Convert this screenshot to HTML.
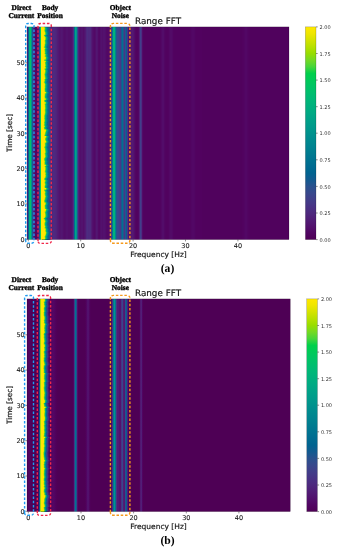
<!DOCTYPE html>
<html lang="en"><head><meta charset="utf-8"><title>Range FFT</title>
<style>
html,body{margin:0;padding:0;background:#fff;}
body{width:337px;height:550px;overflow:hidden;}
svg{display:block;text-rendering:geometricPrecision}
.tl{font-family:"DejaVu Sans","Liberation Sans",sans-serif;font-size:6.5px;fill:#1a1a1a;stroke:#1a1a1a;stroke-width:.1px}
.cl{font-family:"DejaVu Sans","Liberation Sans",sans-serif;font-size:5px;fill:#333}
.al{font-family:"DejaVu Sans","Liberation Sans",sans-serif;font-size:7.5px;fill:#111;stroke:#111;stroke-width:.15px}
.ti{font-family:"DejaVu Sans","Liberation Sans",sans-serif;font-size:8.8px;fill:#111;stroke:#111;stroke-width:.15px}
.an{font-family:"Liberation Serif","DejaVu Serif",serif;font-weight:bold;font-size:7.4px;fill:#000;stroke:#000;stroke-width:.35px}
.cap{font-family:"Liberation Serif","DejaVu Serif",serif;font-weight:bold;font-size:11.6px;fill:#000}
.tk{stroke:#222;stroke-width:.5}
</style></head><body>
<svg width="337" height="550" viewBox="0 0 337 550">
<defs>
<linearGradient id="ga" gradientUnits="userSpaceOnUse" x1="27" y1="0" x2="289" y2="0"><stop offset="0.0000" stop-color="#521772"/><stop offset="0.0019" stop-color="#4f247c"/><stop offset="0.0038" stop-color="#423d89"/><stop offset="0.0057" stop-color="#006090"/><stop offset="0.0076" stop-color="#00888f"/><stop offset="0.0095" stop-color="#00ae80"/><stop offset="0.0115" stop-color="#00c368"/><stop offset="0.0134" stop-color="#00c269"/><stop offset="0.0153" stop-color="#00ad81"/><stop offset="0.0172" stop-color="#008f8e"/><stop offset="0.0191" stop-color="#007191"/><stop offset="0.0210" stop-color="#22558f"/><stop offset="0.0229" stop-color="#463786"/><stop offset="0.0248" stop-color="#502079"/><stop offset="0.0267" stop-color="#52136e"/><stop offset="0.0286" stop-color="#520b67"/><stop offset="0.0305" stop-color="#510663"/><stop offset="0.0324" stop-color="#510562"/><stop offset="0.0344" stop-color="#510562"/><stop offset="0.0363" stop-color="#510663"/><stop offset="0.0382" stop-color="#520966"/><stop offset="0.0401" stop-color="#520c69"/><stop offset="0.0420" stop-color="#52136e"/><stop offset="0.0439" stop-color="#511d76"/><stop offset="0.0458" stop-color="#483385"/><stop offset="0.0477" stop-color="#16598f"/><stop offset="0.0496" stop-color="#008b8f"/><stop offset="0.0515" stop-color="#00c465"/><stop offset="0.0534" stop-color="#d8e300"/><stop offset="0.0553" stop-color="#ffe800"/><stop offset="0.0573" stop-color="#ffe800"/><stop offset="0.0592" stop-color="#ffe800"/><stop offset="0.0611" stop-color="#ffe800"/><stop offset="0.0630" stop-color="#ffe800"/><stop offset="0.0649" stop-color="#520f6b"/><stop offset="0.0668" stop-color="#520f6b"/><stop offset="0.0687" stop-color="#52116d"/><stop offset="0.0706" stop-color="#52116d"/><stop offset="0.0725" stop-color="#52116d"/><stop offset="0.0744" stop-color="#52116d"/><stop offset="0.0763" stop-color="#52136e"/><stop offset="0.0782" stop-color="#52136e"/><stop offset="0.0802" stop-color="#52146f"/><stop offset="0.0821" stop-color="#521671"/><stop offset="0.0840" stop-color="#521772"/><stop offset="0.0859" stop-color="#521973"/><stop offset="0.0878" stop-color="#511c75"/><stop offset="0.0897" stop-color="#511d76"/><stop offset="0.0916" stop-color="#502079"/><stop offset="0.0935" stop-color="#50237b"/><stop offset="0.0954" stop-color="#4f267d"/><stop offset="0.0973" stop-color="#4e277d"/><stop offset="0.0992" stop-color="#4e297e"/><stop offset="0.1011" stop-color="#4d2a7f"/><stop offset="0.1031" stop-color="#4d2a7f"/><stop offset="0.1050" stop-color="#4e297e"/><stop offset="0.1069" stop-color="#4e297e"/><stop offset="0.1088" stop-color="#4f267d"/><stop offset="0.1107" stop-color="#4f247c"/><stop offset="0.1126" stop-color="#50227a"/><stop offset="0.1145" stop-color="#511f78"/><stop offset="0.1164" stop-color="#511c75"/><stop offset="0.1183" stop-color="#521973"/><stop offset="0.1202" stop-color="#521772"/><stop offset="0.1221" stop-color="#52146f"/><stop offset="0.1240" stop-color="#52136e"/><stop offset="0.1260" stop-color="#52136e"/><stop offset="0.1279" stop-color="#52136e"/><stop offset="0.1298" stop-color="#52146f"/><stop offset="0.1317" stop-color="#521671"/><stop offset="0.1336" stop-color="#521671"/><stop offset="0.1355" stop-color="#52146f"/><stop offset="0.1374" stop-color="#52116d"/><stop offset="0.1393" stop-color="#520f6b"/><stop offset="0.1412" stop-color="#520e6a"/><stop offset="0.1431" stop-color="#520c69"/><stop offset="0.1450" stop-color="#520c69"/><stop offset="0.1469" stop-color="#520e6a"/><stop offset="0.1489" stop-color="#520f6b"/><stop offset="0.1508" stop-color="#52116d"/><stop offset="0.1527" stop-color="#52116d"/><stop offset="0.1546" stop-color="#52116d"/><stop offset="0.1565" stop-color="#520f6b"/><stop offset="0.1584" stop-color="#520e6a"/><stop offset="0.1603" stop-color="#520e6a"/><stop offset="0.1622" stop-color="#520e6a"/><stop offset="0.1641" stop-color="#520e6a"/><stop offset="0.1660" stop-color="#520f6b"/><stop offset="0.1679" stop-color="#520f6b"/><stop offset="0.1698" stop-color="#52116d"/><stop offset="0.1718" stop-color="#52146f"/><stop offset="0.1737" stop-color="#521973"/><stop offset="0.1756" stop-color="#502079"/><stop offset="0.1775" stop-color="#4a3183"/><stop offset="0.1794" stop-color="#304d8d"/><stop offset="0.1813" stop-color="#006e91"/><stop offset="0.1832" stop-color="#008e8e"/><stop offset="0.1851" stop-color="#00a586"/><stop offset="0.1870" stop-color="#00a785"/><stop offset="0.1889" stop-color="#00948d"/><stop offset="0.1908" stop-color="#007491"/><stop offset="0.1927" stop-color="#27528e"/><stop offset="0.1947" stop-color="#483585"/><stop offset="0.1966" stop-color="#50227a"/><stop offset="0.1985" stop-color="#521973"/><stop offset="0.2004" stop-color="#52136e"/><stop offset="0.2023" stop-color="#52116d"/><stop offset="0.2042" stop-color="#520f6b"/><stop offset="0.2061" stop-color="#520f6b"/><stop offset="0.2080" stop-color="#52136e"/><stop offset="0.2099" stop-color="#52146f"/><stop offset="0.2118" stop-color="#52136e"/><stop offset="0.2137" stop-color="#520f6b"/><stop offset="0.2156" stop-color="#520e6a"/><stop offset="0.2176" stop-color="#520f6b"/><stop offset="0.2195" stop-color="#52136e"/><stop offset="0.2214" stop-color="#521671"/><stop offset="0.2233" stop-color="#511a74"/><stop offset="0.2252" stop-color="#502079"/><stop offset="0.2271" stop-color="#4e277d"/><stop offset="0.2290" stop-color="#4c2d81"/><stop offset="0.2309" stop-color="#4c2d81"/><stop offset="0.2328" stop-color="#4d2a7f"/><stop offset="0.2347" stop-color="#4e297e"/><stop offset="0.2366" stop-color="#4e297e"/><stop offset="0.2385" stop-color="#4d2a7f"/><stop offset="0.2405" stop-color="#4d2b80"/><stop offset="0.2424" stop-color="#4e297e"/><stop offset="0.2443" stop-color="#50237b"/><stop offset="0.2462" stop-color="#511c75"/><stop offset="0.2481" stop-color="#521671"/><stop offset="0.2500" stop-color="#52116d"/><stop offset="0.2519" stop-color="#520e6a"/><stop offset="0.2538" stop-color="#520c69"/><stop offset="0.2557" stop-color="#520b67"/><stop offset="0.2576" stop-color="#520966"/><stop offset="0.2595" stop-color="#520b67"/><stop offset="0.2615" stop-color="#520e6a"/><stop offset="0.2634" stop-color="#52136e"/><stop offset="0.2653" stop-color="#521671"/><stop offset="0.2672" stop-color="#521671"/><stop offset="0.2691" stop-color="#52136e"/><stop offset="0.2710" stop-color="#520e6a"/><stop offset="0.2729" stop-color="#520966"/><stop offset="0.2748" stop-color="#520765"/><stop offset="0.2767" stop-color="#520765"/><stop offset="0.2786" stop-color="#520966"/><stop offset="0.2805" stop-color="#520e6a"/><stop offset="0.2824" stop-color="#52116d"/><stop offset="0.2844" stop-color="#52116d"/><stop offset="0.2863" stop-color="#520e6a"/><stop offset="0.2882" stop-color="#520e6a"/><stop offset="0.2901" stop-color="#520f6b"/><stop offset="0.2920" stop-color="#52116d"/><stop offset="0.2939" stop-color="#52116d"/><stop offset="0.2958" stop-color="#52116d"/><stop offset="0.2977" stop-color="#520f6b"/><stop offset="0.2996" stop-color="#520e6a"/><stop offset="0.3015" stop-color="#520b67"/><stop offset="0.3034" stop-color="#520966"/><stop offset="0.3053" stop-color="#520966"/><stop offset="0.3073" stop-color="#520765"/><stop offset="0.3092" stop-color="#520765"/><stop offset="0.3111" stop-color="#520966"/><stop offset="0.3130" stop-color="#520966"/><stop offset="0.3149" stop-color="#520b67"/><stop offset="0.3168" stop-color="#520e6a"/><stop offset="0.3187" stop-color="#521671"/><stop offset="0.3206" stop-color="#50237b"/><stop offset="0.3225" stop-color="#443a88"/><stop offset="0.3244" stop-color="#1a588f"/><stop offset="0.3263" stop-color="#007891"/><stop offset="0.3282" stop-color="#00998c"/><stop offset="0.3302" stop-color="#00b17e"/><stop offset="0.3321" stop-color="#00ba75"/><stop offset="0.3340" stop-color="#00b37b"/><stop offset="0.3359" stop-color="#009e89"/><stop offset="0.3378" stop-color="#008390"/><stop offset="0.3397" stop-color="#006991"/><stop offset="0.3416" stop-color="#20568f"/><stop offset="0.3435" stop-color="#324b8d"/><stop offset="0.3454" stop-color="#38478c"/><stop offset="0.3473" stop-color="#38478c"/><stop offset="0.3492" stop-color="#39458c"/><stop offset="0.3511" stop-color="#3d428a"/><stop offset="0.3531" stop-color="#423d89"/><stop offset="0.3550" stop-color="#463786"/><stop offset="0.3569" stop-color="#453987"/><stop offset="0.3588" stop-color="#3b448b"/><stop offset="0.3607" stop-color="#1a588f"/><stop offset="0.3626" stop-color="#006a91"/><stop offset="0.3645" stop-color="#007191"/><stop offset="0.3664" stop-color="#006890"/><stop offset="0.3683" stop-color="#27528e"/><stop offset="0.3702" stop-color="#413e89"/><stop offset="0.3721" stop-color="#463786"/><stop offset="0.3740" stop-color="#3d428a"/><stop offset="0.3760" stop-color="#25548f"/><stop offset="0.3779" stop-color="#006090"/><stop offset="0.3798" stop-color="#085c90"/><stop offset="0.3817" stop-color="#324b8d"/><stop offset="0.3836" stop-color="#483585"/><stop offset="0.3855" stop-color="#502079"/><stop offset="0.3874" stop-color="#52136e"/><stop offset="0.3893" stop-color="#520e6a"/><stop offset="0.3912" stop-color="#520c69"/><stop offset="0.3931" stop-color="#520e6a"/><stop offset="0.3950" stop-color="#52116d"/><stop offset="0.3969" stop-color="#52146f"/><stop offset="0.3989" stop-color="#521772"/><stop offset="0.4008" stop-color="#521973"/><stop offset="0.4027" stop-color="#521973"/><stop offset="0.4046" stop-color="#521772"/><stop offset="0.4065" stop-color="#52146f"/><stop offset="0.4084" stop-color="#52116d"/><stop offset="0.4103" stop-color="#520c69"/><stop offset="0.4122" stop-color="#520966"/><stop offset="0.4141" stop-color="#510663"/><stop offset="0.4160" stop-color="#510562"/><stop offset="0.4179" stop-color="#510360"/><stop offset="0.4198" stop-color="#510360"/><stop offset="0.4218" stop-color="#510360"/><stop offset="0.4237" stop-color="#510360"/><stop offset="0.4256" stop-color="#510663"/><stop offset="0.4275" stop-color="#520e6a"/><stop offset="0.4294" stop-color="#511f78"/><stop offset="0.4313" stop-color="#493284"/><stop offset="0.4332" stop-color="#403f8a"/><stop offset="0.4351" stop-color="#413e89"/><stop offset="0.4370" stop-color="#4b2e82"/><stop offset="0.4389" stop-color="#511a74"/><stop offset="0.4408" stop-color="#520b67"/><stop offset="0.4427" stop-color="#510562"/><stop offset="0.4447" stop-color="#510360"/><stop offset="0.4466" stop-color="#510360"/><stop offset="0.4485" stop-color="#51025f"/><stop offset="0.4504" stop-color="#51025f"/><stop offset="0.4523" stop-color="#51025f"/><stop offset="0.4542" stop-color="#51025f"/><stop offset="0.4561" stop-color="#51025f"/><stop offset="0.4580" stop-color="#51025f"/><stop offset="0.4599" stop-color="#51025f"/><stop offset="0.4618" stop-color="#51025f"/><stop offset="0.4637" stop-color="#51025f"/><stop offset="0.4656" stop-color="#51025f"/><stop offset="0.4676" stop-color="#51025f"/><stop offset="0.4695" stop-color="#51025f"/><stop offset="0.4714" stop-color="#51025f"/><stop offset="0.4733" stop-color="#51025f"/><stop offset="0.4752" stop-color="#51025f"/><stop offset="0.4771" stop-color="#51025f"/><stop offset="0.4790" stop-color="#51025f"/><stop offset="0.4809" stop-color="#51025f"/><stop offset="0.4828" stop-color="#51025f"/><stop offset="0.4847" stop-color="#51025f"/><stop offset="0.4866" stop-color="#51025f"/><stop offset="0.4885" stop-color="#51025f"/><stop offset="0.4905" stop-color="#51025f"/><stop offset="0.4924" stop-color="#51025f"/><stop offset="0.4943" stop-color="#51025f"/><stop offset="0.4962" stop-color="#51025f"/><stop offset="0.4981" stop-color="#51025f"/><stop offset="0.5000" stop-color="#51025f"/><stop offset="0.5019" stop-color="#51025f"/><stop offset="0.5038" stop-color="#51025f"/><stop offset="0.5057" stop-color="#51025f"/><stop offset="0.5076" stop-color="#51025f"/><stop offset="0.5095" stop-color="#510360"/><stop offset="0.5115" stop-color="#510562"/><stop offset="0.5134" stop-color="#520765"/><stop offset="0.5153" stop-color="#520966"/><stop offset="0.5172" stop-color="#520c69"/><stop offset="0.5191" stop-color="#520e6a"/><stop offset="0.5210" stop-color="#520c69"/><stop offset="0.5229" stop-color="#520966"/><stop offset="0.5248" stop-color="#510663"/><stop offset="0.5267" stop-color="#510562"/><stop offset="0.5286" stop-color="#510360"/><stop offset="0.5305" stop-color="#51025f"/><stop offset="0.5324" stop-color="#51025f"/><stop offset="0.5344" stop-color="#51025f"/><stop offset="0.5363" stop-color="#51025f"/><stop offset="0.5382" stop-color="#510360"/><stop offset="0.5401" stop-color="#510360"/><stop offset="0.5420" stop-color="#510663"/><stop offset="0.5439" stop-color="#520765"/><stop offset="0.5458" stop-color="#520966"/><stop offset="0.5477" stop-color="#520b67"/><stop offset="0.5496" stop-color="#520b67"/><stop offset="0.5515" stop-color="#520b67"/><stop offset="0.5534" stop-color="#520966"/><stop offset="0.5553" stop-color="#520765"/><stop offset="0.5573" stop-color="#510562"/><stop offset="0.5592" stop-color="#510360"/><stop offset="0.5611" stop-color="#510360"/><stop offset="0.5630" stop-color="#51025f"/><stop offset="0.5649" stop-color="#51025f"/><stop offset="0.5668" stop-color="#51025f"/><stop offset="0.5687" stop-color="#51025f"/><stop offset="0.5706" stop-color="#51025f"/><stop offset="0.5725" stop-color="#51025f"/><stop offset="0.5744" stop-color="#51025f"/><stop offset="0.5763" stop-color="#51025f"/><stop offset="0.5782" stop-color="#51025f"/><stop offset="0.5802" stop-color="#51025f"/><stop offset="0.5821" stop-color="#51025f"/><stop offset="0.5840" stop-color="#51025f"/><stop offset="0.5859" stop-color="#51025f"/><stop offset="0.5878" stop-color="#51025f"/><stop offset="0.5897" stop-color="#51025f"/><stop offset="0.5916" stop-color="#51025f"/><stop offset="0.5935" stop-color="#51025f"/><stop offset="0.5954" stop-color="#51025f"/><stop offset="0.5973" stop-color="#51025f"/><stop offset="0.5992" stop-color="#51025f"/><stop offset="0.6011" stop-color="#51025f"/><stop offset="0.6031" stop-color="#51025f"/><stop offset="0.6050" stop-color="#51025f"/><stop offset="0.6069" stop-color="#51025f"/><stop offset="0.6088" stop-color="#51025f"/><stop offset="0.6107" stop-color="#51025f"/><stop offset="0.6126" stop-color="#51025f"/><stop offset="0.6145" stop-color="#51025f"/><stop offset="0.6164" stop-color="#51025f"/><stop offset="0.6183" stop-color="#51025f"/><stop offset="0.6202" stop-color="#51025f"/><stop offset="0.6221" stop-color="#51025f"/><stop offset="0.6240" stop-color="#510360"/><stop offset="0.6260" stop-color="#510562"/><stop offset="0.6279" stop-color="#510663"/><stop offset="0.6298" stop-color="#520765"/><stop offset="0.6317" stop-color="#520765"/><stop offset="0.6336" stop-color="#520966"/><stop offset="0.6355" stop-color="#520765"/><stop offset="0.6374" stop-color="#520765"/><stop offset="0.6393" stop-color="#510663"/><stop offset="0.6412" stop-color="#510562"/><stop offset="0.6431" stop-color="#510360"/><stop offset="0.6450" stop-color="#51025f"/><stop offset="0.6469" stop-color="#51025f"/><stop offset="0.6489" stop-color="#51025f"/><stop offset="0.6508" stop-color="#51025f"/><stop offset="0.6527" stop-color="#51025f"/><stop offset="0.6546" stop-color="#51025f"/><stop offset="0.6565" stop-color="#51025f"/><stop offset="0.6584" stop-color="#51025f"/><stop offset="0.6603" stop-color="#51025f"/><stop offset="0.6622" stop-color="#51025f"/><stop offset="0.6641" stop-color="#51025f"/><stop offset="0.6660" stop-color="#51025f"/><stop offset="0.6679" stop-color="#50025d"/><stop offset="0.6698" stop-color="#50025d"/><stop offset="0.6718" stop-color="#50025d"/><stop offset="0.6737" stop-color="#50025d"/><stop offset="0.6756" stop-color="#50025d"/><stop offset="0.6775" stop-color="#50025d"/><stop offset="0.6794" stop-color="#50025d"/><stop offset="0.6813" stop-color="#50025d"/><stop offset="0.6832" stop-color="#50025d"/><stop offset="0.6851" stop-color="#50025d"/><stop offset="0.6870" stop-color="#50025d"/><stop offset="0.6889" stop-color="#50025d"/><stop offset="0.6908" stop-color="#50025d"/><stop offset="0.6927" stop-color="#50025d"/><stop offset="0.6947" stop-color="#50025d"/><stop offset="0.6966" stop-color="#50025d"/><stop offset="0.6985" stop-color="#50025d"/><stop offset="0.7004" stop-color="#50025d"/><stop offset="0.7023" stop-color="#50025d"/><stop offset="0.7042" stop-color="#50025d"/><stop offset="0.7061" stop-color="#50025d"/><stop offset="0.7080" stop-color="#50025d"/><stop offset="0.7099" stop-color="#50025d"/><stop offset="0.7118" stop-color="#50025d"/><stop offset="0.7137" stop-color="#50025d"/><stop offset="0.7156" stop-color="#50025d"/><stop offset="0.7176" stop-color="#50025d"/><stop offset="0.7195" stop-color="#50025d"/><stop offset="0.7214" stop-color="#50025d"/><stop offset="0.7233" stop-color="#50025d"/><stop offset="0.7252" stop-color="#50025d"/><stop offset="0.7271" stop-color="#50025d"/><stop offset="0.7290" stop-color="#50025d"/><stop offset="0.7309" stop-color="#50025d"/><stop offset="0.7328" stop-color="#50025d"/><stop offset="0.7347" stop-color="#50025d"/><stop offset="0.7366" stop-color="#50025d"/><stop offset="0.7385" stop-color="#50025d"/><stop offset="0.7405" stop-color="#50025d"/><stop offset="0.7424" stop-color="#50025d"/><stop offset="0.7443" stop-color="#50025d"/><stop offset="0.7462" stop-color="#50025d"/><stop offset="0.7481" stop-color="#50025d"/><stop offset="0.7500" stop-color="#50025d"/><stop offset="0.7519" stop-color="#50025d"/><stop offset="0.7538" stop-color="#50025d"/><stop offset="0.7557" stop-color="#50025d"/><stop offset="0.7576" stop-color="#50025d"/><stop offset="0.7595" stop-color="#50025d"/><stop offset="0.7615" stop-color="#50025d"/><stop offset="0.7634" stop-color="#50025d"/><stop offset="0.7653" stop-color="#50025d"/><stop offset="0.7672" stop-color="#50025d"/><stop offset="0.7691" stop-color="#50025d"/><stop offset="0.7710" stop-color="#50025d"/><stop offset="0.7729" stop-color="#50025d"/><stop offset="0.7748" stop-color="#50025d"/><stop offset="0.7767" stop-color="#50025d"/><stop offset="0.7786" stop-color="#50025d"/><stop offset="0.7805" stop-color="#50025d"/><stop offset="0.7824" stop-color="#50025d"/><stop offset="0.7844" stop-color="#50025d"/><stop offset="0.7863" stop-color="#50025d"/><stop offset="0.7882" stop-color="#50025d"/><stop offset="0.7901" stop-color="#50025d"/><stop offset="0.7920" stop-color="#50025d"/><stop offset="0.7939" stop-color="#50025d"/><stop offset="0.7958" stop-color="#50025d"/><stop offset="0.7977" stop-color="#50025d"/><stop offset="0.7996" stop-color="#50025d"/><stop offset="0.8015" stop-color="#50025d"/><stop offset="0.8034" stop-color="#50025d"/><stop offset="0.8053" stop-color="#50025d"/><stop offset="0.8073" stop-color="#50025d"/><stop offset="0.8092" stop-color="#50025d"/><stop offset="0.8111" stop-color="#50025d"/><stop offset="0.8130" stop-color="#50025d"/><stop offset="0.8149" stop-color="#50025d"/><stop offset="0.8168" stop-color="#50025d"/><stop offset="0.8187" stop-color="#50025d"/><stop offset="0.8206" stop-color="#50025d"/><stop offset="0.8225" stop-color="#51025f"/><stop offset="0.8244" stop-color="#51025f"/><stop offset="0.8263" stop-color="#510360"/><stop offset="0.8282" stop-color="#510360"/><stop offset="0.8302" stop-color="#510562"/><stop offset="0.8321" stop-color="#510663"/><stop offset="0.8340" stop-color="#520765"/><stop offset="0.8359" stop-color="#520765"/><stop offset="0.8378" stop-color="#520765"/><stop offset="0.8397" stop-color="#510663"/><stop offset="0.8416" stop-color="#510562"/><stop offset="0.8435" stop-color="#510360"/><stop offset="0.8454" stop-color="#510360"/><stop offset="0.8473" stop-color="#51025f"/><stop offset="0.8492" stop-color="#51025f"/><stop offset="0.8511" stop-color="#50025d"/><stop offset="0.8531" stop-color="#50025d"/><stop offset="0.8550" stop-color="#50025d"/><stop offset="0.8569" stop-color="#50025d"/><stop offset="0.8588" stop-color="#50025d"/><stop offset="0.8607" stop-color="#50025d"/><stop offset="0.8626" stop-color="#50025d"/><stop offset="0.8645" stop-color="#50025d"/><stop offset="0.8664" stop-color="#50025d"/><stop offset="0.8683" stop-color="#50025d"/><stop offset="0.8702" stop-color="#50025d"/><stop offset="0.8721" stop-color="#50025d"/><stop offset="0.8740" stop-color="#50025d"/><stop offset="0.8760" stop-color="#50025d"/><stop offset="0.8779" stop-color="#50025d"/><stop offset="0.8798" stop-color="#50025d"/><stop offset="0.8817" stop-color="#50025d"/><stop offset="0.8836" stop-color="#50025d"/><stop offset="0.8855" stop-color="#50025d"/><stop offset="0.8874" stop-color="#50025d"/><stop offset="0.8893" stop-color="#50025d"/><stop offset="0.8912" stop-color="#50025d"/><stop offset="0.8931" stop-color="#50025d"/><stop offset="0.8950" stop-color="#50025d"/><stop offset="0.8969" stop-color="#50025d"/><stop offset="0.8989" stop-color="#50025d"/><stop offset="0.9008" stop-color="#50025d"/><stop offset="0.9027" stop-color="#50025d"/><stop offset="0.9046" stop-color="#50025d"/><stop offset="0.9065" stop-color="#50025d"/><stop offset="0.9084" stop-color="#50025d"/><stop offset="0.9103" stop-color="#50025d"/><stop offset="0.9122" stop-color="#50025d"/><stop offset="0.9141" stop-color="#50025d"/><stop offset="0.9160" stop-color="#50025d"/><stop offset="0.9179" stop-color="#50025d"/><stop offset="0.9198" stop-color="#50025d"/><stop offset="0.9218" stop-color="#50025d"/><stop offset="0.9237" stop-color="#50025d"/><stop offset="0.9256" stop-color="#50025d"/><stop offset="0.9275" stop-color="#50025d"/><stop offset="0.9294" stop-color="#50025d"/><stop offset="0.9313" stop-color="#50025d"/><stop offset="0.9332" stop-color="#50025d"/><stop offset="0.9351" stop-color="#50025d"/><stop offset="0.9370" stop-color="#50025d"/><stop offset="0.9389" stop-color="#50025d"/><stop offset="0.9408" stop-color="#50025d"/><stop offset="0.9427" stop-color="#50025d"/><stop offset="0.9447" stop-color="#50025d"/><stop offset="0.9466" stop-color="#50025d"/><stop offset="0.9485" stop-color="#50025d"/><stop offset="0.9504" stop-color="#50025d"/><stop offset="0.9523" stop-color="#50025d"/><stop offset="0.9542" stop-color="#50025d"/><stop offset="0.9561" stop-color="#50025d"/><stop offset="0.9580" stop-color="#50025d"/><stop offset="0.9599" stop-color="#50025d"/><stop offset="0.9618" stop-color="#50025d"/><stop offset="0.9637" stop-color="#50025d"/><stop offset="0.9656" stop-color="#50025d"/><stop offset="0.9676" stop-color="#50025d"/><stop offset="0.9695" stop-color="#50025d"/><stop offset="0.9714" stop-color="#50025d"/><stop offset="0.9733" stop-color="#50025d"/><stop offset="0.9752" stop-color="#50025d"/><stop offset="0.9771" stop-color="#50025d"/><stop offset="0.9790" stop-color="#50025d"/><stop offset="0.9809" stop-color="#50025d"/><stop offset="0.9828" stop-color="#50025d"/><stop offset="0.9847" stop-color="#50025d"/><stop offset="0.9866" stop-color="#50025d"/><stop offset="0.9885" stop-color="#50025d"/><stop offset="0.9905" stop-color="#50025d"/><stop offset="0.9924" stop-color="#50025d"/><stop offset="0.9943" stop-color="#50025d"/><stop offset="0.9962" stop-color="#50025d"/><stop offset="0.9981" stop-color="#50025d"/><stop offset="1.0000" stop-color="#50025d"/></linearGradient>
<linearGradient id="gb" gradientUnits="userSpaceOnUse" x1="27" y1="0" x2="290.3" y2="0"><stop offset="0.0000" stop-color="#4e0055"/><stop offset="0.0019" stop-color="#4f0057"/><stop offset="0.0038" stop-color="#50015a"/><stop offset="0.0057" stop-color="#50025d"/><stop offset="0.0076" stop-color="#510360"/><stop offset="0.0095" stop-color="#510360"/><stop offset="0.0115" stop-color="#510360"/><stop offset="0.0134" stop-color="#50025d"/><stop offset="0.0153" stop-color="#50015a"/><stop offset="0.0172" stop-color="#4f0057"/><stop offset="0.0191" stop-color="#4e0055"/><stop offset="0.0210" stop-color="#4e0055"/><stop offset="0.0229" stop-color="#4e0055"/><stop offset="0.0248" stop-color="#4e0055"/><stop offset="0.0267" stop-color="#4e0055"/><stop offset="0.0286" stop-color="#4e0055"/><stop offset="0.0305" stop-color="#4e0055"/><stop offset="0.0324" stop-color="#4e0055"/><stop offset="0.0344" stop-color="#4e0055"/><stop offset="0.0363" stop-color="#4e0055"/><stop offset="0.0382" stop-color="#4e0055"/><stop offset="0.0401" stop-color="#4e0055"/><stop offset="0.0420" stop-color="#4f0057"/><stop offset="0.0439" stop-color="#510562"/><stop offset="0.0458" stop-color="#4f267d"/><stop offset="0.0477" stop-color="#006390"/><stop offset="0.0496" stop-color="#00ae80"/><stop offset="0.0515" stop-color="#b7e000"/><stop offset="0.0534" stop-color="#ffe800"/><stop offset="0.0553" stop-color="#ffe800"/><stop offset="0.0573" stop-color="#ffe800"/><stop offset="0.0592" stop-color="#ffe800"/><stop offset="0.0611" stop-color="#4e0055"/><stop offset="0.0630" stop-color="#4e0055"/><stop offset="0.0649" stop-color="#4e0055"/><stop offset="0.0668" stop-color="#4e0055"/><stop offset="0.0687" stop-color="#4e0055"/><stop offset="0.0706" stop-color="#4e0055"/><stop offset="0.0725" stop-color="#4e0055"/><stop offset="0.0744" stop-color="#4e0055"/><stop offset="0.0763" stop-color="#4e0055"/><stop offset="0.0782" stop-color="#4e0055"/><stop offset="0.0802" stop-color="#4e0055"/><stop offset="0.0821" stop-color="#4e0055"/><stop offset="0.0840" stop-color="#4f0057"/><stop offset="0.0859" stop-color="#4f0058"/><stop offset="0.0878" stop-color="#50015a"/><stop offset="0.0897" stop-color="#50015b"/><stop offset="0.0916" stop-color="#51025f"/><stop offset="0.0935" stop-color="#510360"/><stop offset="0.0954" stop-color="#510663"/><stop offset="0.0973" stop-color="#510663"/><stop offset="0.0992" stop-color="#520765"/><stop offset="0.1011" stop-color="#510663"/><stop offset="0.1031" stop-color="#510663"/><stop offset="0.1050" stop-color="#510360"/><stop offset="0.1069" stop-color="#51025f"/><stop offset="0.1088" stop-color="#50015b"/><stop offset="0.1107" stop-color="#50015a"/><stop offset="0.1126" stop-color="#4f0058"/><stop offset="0.1145" stop-color="#4f0057"/><stop offset="0.1164" stop-color="#4e0055"/><stop offset="0.1183" stop-color="#4e0055"/><stop offset="0.1202" stop-color="#4e0055"/><stop offset="0.1221" stop-color="#4e0055"/><stop offset="0.1240" stop-color="#4e0055"/><stop offset="0.1260" stop-color="#4e0055"/><stop offset="0.1279" stop-color="#4e0055"/><stop offset="0.1298" stop-color="#4e0055"/><stop offset="0.1317" stop-color="#4e0055"/><stop offset="0.1336" stop-color="#4e0055"/><stop offset="0.1355" stop-color="#4e0055"/><stop offset="0.1374" stop-color="#4e0055"/><stop offset="0.1393" stop-color="#4e0055"/><stop offset="0.1412" stop-color="#4e0055"/><stop offset="0.1431" stop-color="#4e0055"/><stop offset="0.1450" stop-color="#4e0055"/><stop offset="0.1469" stop-color="#4e0055"/><stop offset="0.1489" stop-color="#4e0055"/><stop offset="0.1508" stop-color="#4e0055"/><stop offset="0.1527" stop-color="#4e0055"/><stop offset="0.1546" stop-color="#4e0055"/><stop offset="0.1565" stop-color="#4e0055"/><stop offset="0.1584" stop-color="#4e0055"/><stop offset="0.1603" stop-color="#4e0055"/><stop offset="0.1622" stop-color="#4e0055"/><stop offset="0.1641" stop-color="#4e0055"/><stop offset="0.1660" stop-color="#4e0055"/><stop offset="0.1679" stop-color="#4e0055"/><stop offset="0.1698" stop-color="#4e0055"/><stop offset="0.1718" stop-color="#4e0055"/><stop offset="0.1737" stop-color="#4e0055"/><stop offset="0.1756" stop-color="#4f0058"/><stop offset="0.1775" stop-color="#520966"/><stop offset="0.1794" stop-color="#4f267d"/><stop offset="0.1813" stop-color="#2d4f8e"/><stop offset="0.1832" stop-color="#006f91"/><stop offset="0.1851" stop-color="#007891"/><stop offset="0.1870" stop-color="#006490"/><stop offset="0.1889" stop-color="#413e89"/><stop offset="0.1908" stop-color="#521973"/><stop offset="0.1927" stop-color="#51025f"/><stop offset="0.1947" stop-color="#4f0057"/><stop offset="0.1966" stop-color="#4e0055"/><stop offset="0.1985" stop-color="#4e0055"/><stop offset="0.2004" stop-color="#4e0055"/><stop offset="0.2023" stop-color="#4e0055"/><stop offset="0.2042" stop-color="#4e0055"/><stop offset="0.2061" stop-color="#4e0055"/><stop offset="0.2080" stop-color="#4e0055"/><stop offset="0.2099" stop-color="#4e0055"/><stop offset="0.2118" stop-color="#4e0055"/><stop offset="0.2137" stop-color="#4e0055"/><stop offset="0.2156" stop-color="#4e0055"/><stop offset="0.2176" stop-color="#4e0055"/><stop offset="0.2195" stop-color="#4e0055"/><stop offset="0.2214" stop-color="#4f0057"/><stop offset="0.2233" stop-color="#50015a"/><stop offset="0.2252" stop-color="#51025f"/><stop offset="0.2271" stop-color="#520765"/><stop offset="0.2290" stop-color="#520f6b"/><stop offset="0.2309" stop-color="#52136e"/><stop offset="0.2328" stop-color="#52136e"/><stop offset="0.2347" stop-color="#520e6a"/><stop offset="0.2366" stop-color="#510663"/><stop offset="0.2385" stop-color="#50025d"/><stop offset="0.2405" stop-color="#4f0058"/><stop offset="0.2424" stop-color="#4f0057"/><stop offset="0.2443" stop-color="#4e0055"/><stop offset="0.2462" stop-color="#4e0055"/><stop offset="0.2481" stop-color="#4e0055"/><stop offset="0.2500" stop-color="#4e0055"/><stop offset="0.2519" stop-color="#4e0055"/><stop offset="0.2538" stop-color="#4e0055"/><stop offset="0.2557" stop-color="#4e0055"/><stop offset="0.2576" stop-color="#4e0055"/><stop offset="0.2595" stop-color="#4e0055"/><stop offset="0.2615" stop-color="#4e0055"/><stop offset="0.2634" stop-color="#4e0055"/><stop offset="0.2653" stop-color="#4e0055"/><stop offset="0.2672" stop-color="#4e0055"/><stop offset="0.2691" stop-color="#4e0055"/><stop offset="0.2710" stop-color="#4e0055"/><stop offset="0.2729" stop-color="#4e0055"/><stop offset="0.2748" stop-color="#4e0055"/><stop offset="0.2767" stop-color="#4e0055"/><stop offset="0.2786" stop-color="#4e0055"/><stop offset="0.2805" stop-color="#4e0055"/><stop offset="0.2824" stop-color="#4e0055"/><stop offset="0.2844" stop-color="#4e0055"/><stop offset="0.2863" stop-color="#4e0055"/><stop offset="0.2882" stop-color="#4e0055"/><stop offset="0.2901" stop-color="#4e0055"/><stop offset="0.2920" stop-color="#4e0055"/><stop offset="0.2939" stop-color="#4e0055"/><stop offset="0.2958" stop-color="#4e0055"/><stop offset="0.2977" stop-color="#4e0055"/><stop offset="0.2996" stop-color="#4e0055"/><stop offset="0.3015" stop-color="#4e0055"/><stop offset="0.3034" stop-color="#4e0055"/><stop offset="0.3053" stop-color="#4e0055"/><stop offset="0.3073" stop-color="#4e0055"/><stop offset="0.3092" stop-color="#4e0055"/><stop offset="0.3111" stop-color="#4e0055"/><stop offset="0.3130" stop-color="#4e0055"/><stop offset="0.3149" stop-color="#4e0055"/><stop offset="0.3168" stop-color="#4e0055"/><stop offset="0.3187" stop-color="#4f0057"/><stop offset="0.3206" stop-color="#50025d"/><stop offset="0.3225" stop-color="#520f6b"/><stop offset="0.3244" stop-color="#4d2a7f"/><stop offset="0.3263" stop-color="#304d8d"/><stop offset="0.3282" stop-color="#007191"/><stop offset="0.3302" stop-color="#008c8f"/><stop offset="0.3321" stop-color="#00978c"/><stop offset="0.3340" stop-color="#008d8f"/><stop offset="0.3359" stop-color="#007391"/><stop offset="0.3378" stop-color="#25548f"/><stop offset="0.3397" stop-color="#483585"/><stop offset="0.3416" stop-color="#50227a"/><stop offset="0.3435" stop-color="#511a74"/><stop offset="0.3454" stop-color="#521973"/><stop offset="0.3473" stop-color="#521973"/><stop offset="0.3492" stop-color="#521671"/><stop offset="0.3511" stop-color="#52116d"/><stop offset="0.3531" stop-color="#520e6a"/><stop offset="0.3550" stop-color="#52116d"/><stop offset="0.3569" stop-color="#511d76"/><stop offset="0.3588" stop-color="#483385"/><stop offset="0.3607" stop-color="#39458c"/><stop offset="0.3626" stop-color="#38478c"/><stop offset="0.3645" stop-color="#473686"/><stop offset="0.3664" stop-color="#511d76"/><stop offset="0.3683" stop-color="#520e6a"/><stop offset="0.3702" stop-color="#521671"/><stop offset="0.3721" stop-color="#493284"/><stop offset="0.3740" stop-color="#27528e"/><stop offset="0.3760" stop-color="#006490"/><stop offset="0.3779" stop-color="#085c90"/><stop offset="0.3798" stop-color="#403f8a"/><stop offset="0.3817" stop-color="#511d76"/><stop offset="0.3836" stop-color="#510562"/><stop offset="0.3855" stop-color="#4f0058"/><stop offset="0.3874" stop-color="#4e0055"/><stop offset="0.3893" stop-color="#4e0055"/><stop offset="0.3912" stop-color="#4e0055"/><stop offset="0.3931" stop-color="#4e0055"/><stop offset="0.3950" stop-color="#4e0055"/><stop offset="0.3969" stop-color="#4e0055"/><stop offset="0.3989" stop-color="#4e0055"/><stop offset="0.4008" stop-color="#4e0055"/><stop offset="0.4027" stop-color="#4e0055"/><stop offset="0.4046" stop-color="#4e0055"/><stop offset="0.4065" stop-color="#4e0055"/><stop offset="0.4084" stop-color="#4e0055"/><stop offset="0.4103" stop-color="#4e0055"/><stop offset="0.4122" stop-color="#4e0055"/><stop offset="0.4141" stop-color="#4e0055"/><stop offset="0.4160" stop-color="#4e0055"/><stop offset="0.4179" stop-color="#4e0055"/><stop offset="0.4198" stop-color="#4e0055"/><stop offset="0.4218" stop-color="#4e0055"/><stop offset="0.4237" stop-color="#4e0055"/><stop offset="0.4256" stop-color="#4e0055"/><stop offset="0.4275" stop-color="#50015a"/><stop offset="0.4294" stop-color="#520765"/><stop offset="0.4313" stop-color="#521973"/><stop offset="0.4332" stop-color="#50227a"/><stop offset="0.4351" stop-color="#511d76"/><stop offset="0.4370" stop-color="#520e6a"/><stop offset="0.4389" stop-color="#51025f"/><stop offset="0.4408" stop-color="#4f0057"/><stop offset="0.4427" stop-color="#4e0055"/><stop offset="0.4447" stop-color="#4e0055"/><stop offset="0.4466" stop-color="#4e0055"/><stop offset="0.4485" stop-color="#4e0055"/><stop offset="0.4504" stop-color="#4e0055"/><stop offset="0.4523" stop-color="#4e0055"/><stop offset="0.4542" stop-color="#4e0055"/><stop offset="0.4561" stop-color="#4e0055"/><stop offset="0.4580" stop-color="#4e0055"/><stop offset="0.4599" stop-color="#4e0055"/><stop offset="0.4618" stop-color="#4e0055"/><stop offset="0.4637" stop-color="#4e0055"/><stop offset="0.4656" stop-color="#4e0055"/><stop offset="0.4676" stop-color="#4e0055"/><stop offset="0.4695" stop-color="#4e0055"/><stop offset="0.4714" stop-color="#4e0055"/><stop offset="0.4733" stop-color="#4e0055"/><stop offset="0.4752" stop-color="#4e0055"/><stop offset="0.4771" stop-color="#4e0055"/><stop offset="0.4790" stop-color="#4e0055"/><stop offset="0.4809" stop-color="#4e0055"/><stop offset="0.4828" stop-color="#4e0055"/><stop offset="0.4847" stop-color="#4e0055"/><stop offset="0.4866" stop-color="#4e0055"/><stop offset="0.4885" stop-color="#4e0055"/><stop offset="0.4905" stop-color="#4e0055"/><stop offset="0.4924" stop-color="#4e0055"/><stop offset="0.4943" stop-color="#4e0055"/><stop offset="0.4962" stop-color="#4e0055"/><stop offset="0.4981" stop-color="#4e0055"/><stop offset="0.5000" stop-color="#4e0055"/><stop offset="0.5019" stop-color="#4e0055"/><stop offset="0.5038" stop-color="#4e0055"/><stop offset="0.5057" stop-color="#4e0055"/><stop offset="0.5076" stop-color="#4e0055"/><stop offset="0.5095" stop-color="#4e0055"/><stop offset="0.5115" stop-color="#4e0055"/><stop offset="0.5134" stop-color="#4e0055"/><stop offset="0.5153" stop-color="#4e0055"/><stop offset="0.5172" stop-color="#4e0055"/><stop offset="0.5191" stop-color="#4e0055"/><stop offset="0.5210" stop-color="#4e0055"/><stop offset="0.5229" stop-color="#4e0055"/><stop offset="0.5248" stop-color="#4e0055"/><stop offset="0.5267" stop-color="#4e0055"/><stop offset="0.5286" stop-color="#4e0055"/><stop offset="0.5305" stop-color="#4e0055"/><stop offset="0.5324" stop-color="#4e0055"/><stop offset="0.5344" stop-color="#4e0055"/><stop offset="0.5363" stop-color="#4e0055"/><stop offset="0.5382" stop-color="#4e0055"/><stop offset="0.5401" stop-color="#4e0055"/><stop offset="0.5420" stop-color="#4e0055"/><stop offset="0.5439" stop-color="#4e0055"/><stop offset="0.5458" stop-color="#4e0055"/><stop offset="0.5477" stop-color="#4e0055"/><stop offset="0.5496" stop-color="#4e0055"/><stop offset="0.5515" stop-color="#4e0055"/><stop offset="0.5534" stop-color="#4e0055"/><stop offset="0.5553" stop-color="#4e0055"/><stop offset="0.5573" stop-color="#4e0055"/><stop offset="0.5592" stop-color="#4e0055"/><stop offset="0.5611" stop-color="#4e0055"/><stop offset="0.5630" stop-color="#4e0055"/><stop offset="0.5649" stop-color="#4e0055"/><stop offset="0.5668" stop-color="#4e0055"/><stop offset="0.5687" stop-color="#4e0055"/><stop offset="0.5706" stop-color="#4e0055"/><stop offset="0.5725" stop-color="#4e0055"/><stop offset="0.5744" stop-color="#4e0055"/><stop offset="0.5763" stop-color="#4e0055"/><stop offset="0.5782" stop-color="#4e0055"/><stop offset="0.5802" stop-color="#4e0055"/><stop offset="0.5821" stop-color="#4e0055"/><stop offset="0.5840" stop-color="#4e0055"/><stop offset="0.5859" stop-color="#4e0055"/><stop offset="0.5878" stop-color="#4e0055"/><stop offset="0.5897" stop-color="#4e0055"/><stop offset="0.5916" stop-color="#4e0055"/><stop offset="0.5935" stop-color="#4e0055"/><stop offset="0.5954" stop-color="#4e0055"/><stop offset="0.5973" stop-color="#4e0055"/><stop offset="0.5992" stop-color="#4e0055"/><stop offset="0.6011" stop-color="#4e0055"/><stop offset="0.6031" stop-color="#4e0055"/><stop offset="0.6050" stop-color="#4e0055"/><stop offset="0.6069" stop-color="#4e0055"/><stop offset="0.6088" stop-color="#4e0055"/><stop offset="0.6107" stop-color="#4e0055"/><stop offset="0.6126" stop-color="#4e0055"/><stop offset="0.6145" stop-color="#4e0055"/><stop offset="0.6164" stop-color="#4e0055"/><stop offset="0.6183" stop-color="#4e0055"/><stop offset="0.6202" stop-color="#4e0055"/><stop offset="0.6221" stop-color="#4e0055"/><stop offset="0.6240" stop-color="#4e0055"/><stop offset="0.6260" stop-color="#4e0055"/><stop offset="0.6279" stop-color="#4e0055"/><stop offset="0.6298" stop-color="#4e0055"/><stop offset="0.6317" stop-color="#4e0055"/><stop offset="0.6336" stop-color="#4e0055"/><stop offset="0.6355" stop-color="#4e0055"/><stop offset="0.6374" stop-color="#4e0055"/><stop offset="0.6393" stop-color="#4e0055"/><stop offset="0.6412" stop-color="#4e0055"/><stop offset="0.6431" stop-color="#4e0055"/><stop offset="0.6450" stop-color="#4e0055"/><stop offset="0.6469" stop-color="#4e0055"/><stop offset="0.6489" stop-color="#4e0055"/><stop offset="0.6508" stop-color="#4e0055"/><stop offset="0.6527" stop-color="#4e0055"/><stop offset="0.6546" stop-color="#4e0055"/><stop offset="0.6565" stop-color="#4e0055"/><stop offset="0.6584" stop-color="#4e0055"/><stop offset="0.6603" stop-color="#4e0055"/><stop offset="0.6622" stop-color="#4e0055"/><stop offset="0.6641" stop-color="#4e0055"/><stop offset="0.6660" stop-color="#4e0055"/><stop offset="0.6679" stop-color="#4e0055"/><stop offset="0.6698" stop-color="#4e0055"/><stop offset="0.6718" stop-color="#4e0055"/><stop offset="0.6737" stop-color="#4e0055"/><stop offset="0.6756" stop-color="#4e0055"/><stop offset="0.6775" stop-color="#4e0055"/><stop offset="0.6794" stop-color="#4e0055"/><stop offset="0.6813" stop-color="#4e0055"/><stop offset="0.6832" stop-color="#4e0055"/><stop offset="0.6851" stop-color="#4e0055"/><stop offset="0.6870" stop-color="#4e0055"/><stop offset="0.6889" stop-color="#4e0055"/><stop offset="0.6908" stop-color="#4e0055"/><stop offset="0.6927" stop-color="#4e0055"/><stop offset="0.6947" stop-color="#4e0055"/><stop offset="0.6966" stop-color="#4e0055"/><stop offset="0.6985" stop-color="#4e0055"/><stop offset="0.7004" stop-color="#4e0055"/><stop offset="0.7023" stop-color="#4e0055"/><stop offset="0.7042" stop-color="#4e0055"/><stop offset="0.7061" stop-color="#4e0055"/><stop offset="0.7080" stop-color="#4e0055"/><stop offset="0.7099" stop-color="#4e0055"/><stop offset="0.7118" stop-color="#4e0055"/><stop offset="0.7137" stop-color="#4e0055"/><stop offset="0.7156" stop-color="#4e0055"/><stop offset="0.7176" stop-color="#4e0055"/><stop offset="0.7195" stop-color="#4e0055"/><stop offset="0.7214" stop-color="#4e0055"/><stop offset="0.7233" stop-color="#4e0055"/><stop offset="0.7252" stop-color="#4e0055"/><stop offset="0.7271" stop-color="#4e0055"/><stop offset="0.7290" stop-color="#4e0055"/><stop offset="0.7309" stop-color="#4e0055"/><stop offset="0.7328" stop-color="#4e0055"/><stop offset="0.7347" stop-color="#4e0055"/><stop offset="0.7366" stop-color="#4e0055"/><stop offset="0.7385" stop-color="#4e0055"/><stop offset="0.7405" stop-color="#4e0055"/><stop offset="0.7424" stop-color="#4e0055"/><stop offset="0.7443" stop-color="#4e0055"/><stop offset="0.7462" stop-color="#4e0055"/><stop offset="0.7481" stop-color="#4e0055"/><stop offset="0.7500" stop-color="#4e0055"/><stop offset="0.7519" stop-color="#4e0055"/><stop offset="0.7538" stop-color="#4e0055"/><stop offset="0.7557" stop-color="#4e0055"/><stop offset="0.7576" stop-color="#4e0055"/><stop offset="0.7595" stop-color="#4e0055"/><stop offset="0.7615" stop-color="#4e0055"/><stop offset="0.7634" stop-color="#4e0055"/><stop offset="0.7653" stop-color="#4e0055"/><stop offset="0.7672" stop-color="#4e0055"/><stop offset="0.7691" stop-color="#4e0055"/><stop offset="0.7710" stop-color="#4e0055"/><stop offset="0.7729" stop-color="#4e0055"/><stop offset="0.7748" stop-color="#4e0055"/><stop offset="0.7767" stop-color="#4e0055"/><stop offset="0.7786" stop-color="#4e0055"/><stop offset="0.7805" stop-color="#4e0055"/><stop offset="0.7824" stop-color="#4e0055"/><stop offset="0.7844" stop-color="#4e0055"/><stop offset="0.7863" stop-color="#4e0055"/><stop offset="0.7882" stop-color="#4e0055"/><stop offset="0.7901" stop-color="#4e0055"/><stop offset="0.7920" stop-color="#4e0055"/><stop offset="0.7939" stop-color="#4e0055"/><stop offset="0.7958" stop-color="#4e0055"/><stop offset="0.7977" stop-color="#4e0055"/><stop offset="0.7996" stop-color="#4e0055"/><stop offset="0.8015" stop-color="#4e0055"/><stop offset="0.8034" stop-color="#4e0055"/><stop offset="0.8053" stop-color="#4e0055"/><stop offset="0.8073" stop-color="#4e0055"/><stop offset="0.8092" stop-color="#4e0055"/><stop offset="0.8111" stop-color="#4e0055"/><stop offset="0.8130" stop-color="#4e0055"/><stop offset="0.8149" stop-color="#4e0055"/><stop offset="0.8168" stop-color="#4e0055"/><stop offset="0.8187" stop-color="#4e0055"/><stop offset="0.8206" stop-color="#4e0055"/><stop offset="0.8225" stop-color="#4e0055"/><stop offset="0.8244" stop-color="#4e0055"/><stop offset="0.8263" stop-color="#4e0055"/><stop offset="0.8282" stop-color="#4e0055"/><stop offset="0.8302" stop-color="#4e0055"/><stop offset="0.8321" stop-color="#4e0055"/><stop offset="0.8340" stop-color="#4e0055"/><stop offset="0.8359" stop-color="#4e0055"/><stop offset="0.8378" stop-color="#4e0055"/><stop offset="0.8397" stop-color="#4e0055"/><stop offset="0.8416" stop-color="#4e0055"/><stop offset="0.8435" stop-color="#4e0055"/><stop offset="0.8454" stop-color="#4e0055"/><stop offset="0.8473" stop-color="#4e0055"/><stop offset="0.8492" stop-color="#4e0055"/><stop offset="0.8511" stop-color="#4e0055"/><stop offset="0.8531" stop-color="#4e0055"/><stop offset="0.8550" stop-color="#4e0055"/><stop offset="0.8569" stop-color="#4e0055"/><stop offset="0.8588" stop-color="#4e0055"/><stop offset="0.8607" stop-color="#4e0055"/><stop offset="0.8626" stop-color="#4e0055"/><stop offset="0.8645" stop-color="#4e0055"/><stop offset="0.8664" stop-color="#4e0055"/><stop offset="0.8683" stop-color="#4e0055"/><stop offset="0.8702" stop-color="#4e0055"/><stop offset="0.8721" stop-color="#4e0055"/><stop offset="0.8740" stop-color="#4e0055"/><stop offset="0.8760" stop-color="#4e0055"/><stop offset="0.8779" stop-color="#4e0055"/><stop offset="0.8798" stop-color="#4e0055"/><stop offset="0.8817" stop-color="#4e0055"/><stop offset="0.8836" stop-color="#4e0055"/><stop offset="0.8855" stop-color="#4e0055"/><stop offset="0.8874" stop-color="#4e0055"/><stop offset="0.8893" stop-color="#4e0055"/><stop offset="0.8912" stop-color="#4e0055"/><stop offset="0.8931" stop-color="#4e0055"/><stop offset="0.8950" stop-color="#4e0055"/><stop offset="0.8969" stop-color="#4e0055"/><stop offset="0.8989" stop-color="#4e0055"/><stop offset="0.9008" stop-color="#4e0055"/><stop offset="0.9027" stop-color="#4e0055"/><stop offset="0.9046" stop-color="#4e0055"/><stop offset="0.9065" stop-color="#4e0055"/><stop offset="0.9084" stop-color="#4e0055"/><stop offset="0.9103" stop-color="#4e0055"/><stop offset="0.9122" stop-color="#4e0055"/><stop offset="0.9141" stop-color="#4e0055"/><stop offset="0.9160" stop-color="#4e0055"/><stop offset="0.9179" stop-color="#4e0055"/><stop offset="0.9198" stop-color="#4e0055"/><stop offset="0.9218" stop-color="#4e0055"/><stop offset="0.9237" stop-color="#4e0055"/><stop offset="0.9256" stop-color="#4e0055"/><stop offset="0.9275" stop-color="#4e0055"/><stop offset="0.9294" stop-color="#4e0055"/><stop offset="0.9313" stop-color="#4e0055"/><stop offset="0.9332" stop-color="#4e0055"/><stop offset="0.9351" stop-color="#4e0055"/><stop offset="0.9370" stop-color="#4e0055"/><stop offset="0.9389" stop-color="#4e0055"/><stop offset="0.9408" stop-color="#4e0055"/><stop offset="0.9427" stop-color="#4e0055"/><stop offset="0.9447" stop-color="#4e0055"/><stop offset="0.9466" stop-color="#4e0055"/><stop offset="0.9485" stop-color="#4e0055"/><stop offset="0.9504" stop-color="#4e0055"/><stop offset="0.9523" stop-color="#4e0055"/><stop offset="0.9542" stop-color="#4e0055"/><stop offset="0.9561" stop-color="#4e0055"/><stop offset="0.9580" stop-color="#4e0055"/><stop offset="0.9599" stop-color="#4e0055"/><stop offset="0.9618" stop-color="#4e0055"/><stop offset="0.9637" stop-color="#4e0055"/><stop offset="0.9656" stop-color="#4e0055"/><stop offset="0.9676" stop-color="#4e0055"/><stop offset="0.9695" stop-color="#4e0055"/><stop offset="0.9714" stop-color="#4e0055"/><stop offset="0.9733" stop-color="#4e0055"/><stop offset="0.9752" stop-color="#4e0055"/><stop offset="0.9771" stop-color="#4e0055"/><stop offset="0.9790" stop-color="#4e0055"/><stop offset="0.9809" stop-color="#4e0055"/><stop offset="0.9828" stop-color="#4e0055"/><stop offset="0.9847" stop-color="#4e0055"/><stop offset="0.9866" stop-color="#4e0055"/><stop offset="0.9885" stop-color="#4e0055"/><stop offset="0.9905" stop-color="#4e0055"/><stop offset="0.9924" stop-color="#4e0055"/><stop offset="0.9943" stop-color="#4e0055"/><stop offset="0.9962" stop-color="#4e0055"/><stop offset="0.9981" stop-color="#4e0055"/><stop offset="1.0000" stop-color="#4e0055"/></linearGradient>
<linearGradient id="cb" x1="0" y1="1" x2="0" y2="0"><stop offset="0.0000" stop-color="#4e0055"/><stop offset="0.0312" stop-color="#510562"/><stop offset="0.0625" stop-color="#52116d"/><stop offset="0.0938" stop-color="#511d76"/><stop offset="0.1250" stop-color="#4e297e"/><stop offset="0.1562" stop-color="#483385"/><stop offset="0.1875" stop-color="#413e89"/><stop offset="0.2188" stop-color="#37488c"/><stop offset="0.2500" stop-color="#29518e"/><stop offset="0.2812" stop-color="#125a90"/><stop offset="0.3125" stop-color="#006390"/><stop offset="0.3438" stop-color="#006b91"/><stop offset="0.3750" stop-color="#007391"/><stop offset="0.4062" stop-color="#007b90"/><stop offset="0.4375" stop-color="#008390"/><stop offset="0.4688" stop-color="#008a8f"/><stop offset="0.5000" stop-color="#00928d"/><stop offset="0.5312" stop-color="#009a8b"/><stop offset="0.5625" stop-color="#00a188"/><stop offset="0.5938" stop-color="#00a984"/><stop offset="0.6250" stop-color="#00b07e"/><stop offset="0.6562" stop-color="#00b778"/><stop offset="0.6875" stop-color="#00be6f"/><stop offset="0.7188" stop-color="#00c465"/><stop offset="0.7500" stop-color="#00ca59"/><stop offset="0.7812" stop-color="#00d04b"/><stop offset="0.8125" stop-color="#46d53a"/><stop offset="0.8438" stop-color="#73d923"/><stop offset="0.8750" stop-color="#97dd00"/><stop offset="0.9062" stop-color="#b7e000"/><stop offset="0.9375" stop-color="#d4e300"/><stop offset="0.9688" stop-color="#efe600"/><stop offset="1.0000" stop-color="#ffe800"/></linearGradient>
<filter id="bl" x="-20%" y="-2%" width="140%" height="104%"><feGaussianBlur stdDeviation="0.45"/></filter>
</defs>
<rect x="27" y="26.9" width="262" height="212.7" fill="url(#ga)"/>
<g filter="url(#bl)">
<path d="M42.0 26.9 L50.7 26.9 L50.7 28.2 L51.0 28.2 L51.0 29.5 L50.6 29.5 L50.6 30.8 L50.9 30.8 L50.9 32.1 L51.3 32.1 L51.3 33.4 L51.5 33.4 L51.5 34.7 L50.3 34.7 L50.3 36.0 L50.9 36.0 L50.9 37.3 L51.7 37.3 L51.7 38.6 L51.5 38.6 L51.5 39.9 L51.0 39.9 L51.0 41.2 L51.1 41.2 L51.1 42.5 L51.3 42.5 L51.3 43.8 L50.9 43.8 L50.9 45.1 L50.8 45.1 L50.8 46.4 L50.2 46.4 L50.2 47.7 L51.2 47.7 L51.2 49.0 L50.7 49.0 L50.7 50.3 L50.9 50.3 L50.9 51.6 L51.1 51.6 L51.1 52.9 L50.9 52.9 L50.9 54.2 L51.6 54.2 L51.6 55.5 L51.0 55.5 L51.0 56.8 L52.0 56.8 L52.0 58.1 L51.9 58.1 L51.9 59.4 L50.4 59.4 L50.4 60.7 L51.8 60.7 L51.8 62.0 L51.3 62.0 L51.3 63.3 L51.4 63.3 L51.4 64.6 L51.6 64.6 L51.6 65.9 L51.3 65.9 L51.3 67.2 L51.8 67.2 L51.8 68.5 L50.7 68.5 L50.7 69.8 L51.4 69.8 L51.4 71.1 L51.4 71.1 L51.4 72.4 L51.1 72.4 L51.1 73.7 L50.7 73.7 L50.7 75.0 L50.9 75.0 L50.9 76.3 L51.1 76.3 L51.1 77.6 L51.4 77.6 L51.4 78.9 L50.7 78.9 L50.7 80.2 L50.8 80.2 L50.8 81.5 L50.2 81.5 L50.2 82.8 L50.9 82.8 L50.9 84.1 L51.2 84.1 L51.2 85.4 L51.0 85.4 L51.0 86.7 L51.1 86.7 L51.1 88.0 L50.9 88.0 L50.9 89.3 L50.8 89.3 L50.8 90.6 L51.1 90.6 L51.1 91.9 L52.1 91.9 L52.1 93.2 L51.1 93.2 L51.1 94.5 L51.0 94.5 L51.0 95.8 L50.8 95.8 L50.8 97.1 L50.9 97.1 L50.9 98.4 L51.9 98.4 L51.9 99.7 L50.5 99.7 L50.5 101.0 L50.6 101.0 L50.6 102.3 L51.8 102.3 L51.8 103.6 L51.0 103.6 L51.0 104.9 L51.2 104.9 L51.2 106.2 L51.2 106.2 L51.2 107.5 L51.4 107.5 L51.4 108.8 L51.1 108.8 L51.1 110.1 L51.1 110.1 L51.1 111.4 L51.3 111.4 L51.3 112.7 L51.1 112.7 L51.1 114.0 L50.9 114.0 L50.9 115.3 L50.5 115.3 L50.5 116.6 L50.6 116.6 L50.6 117.9 L50.5 117.9 L50.5 119.2 L50.7 119.2 L50.7 120.5 L50.7 120.5 L50.7 121.8 L50.4 121.8 L50.4 123.1 L50.5 123.1 L50.5 124.4 L50.2 124.4 L50.2 125.7 L50.8 125.7 L50.8 127.0 L50.3 127.0 L50.3 128.3 L50.4 128.3 L50.4 129.6 L52.1 129.6 L52.1 130.9 L51.8 130.9 L51.8 132.2 L51.4 132.2 L51.4 133.5 L51.2 133.5 L51.2 134.8 L50.7 134.8 L50.7 136.1 L52.3 136.1 L52.3 137.4 L51.5 137.4 L51.5 138.7 L51.4 138.7 L51.4 140.0 L51.7 140.0 L51.7 141.3 L52.4 141.3 L52.4 142.6 L51.2 142.6 L51.2 143.9 L51.2 143.9 L51.2 145.2 L51.3 145.2 L51.3 146.5 L50.5 146.5 L50.5 147.8 L51.1 147.8 L51.1 149.1 L51.2 149.1 L51.2 150.4 L51.5 150.4 L51.5 151.7 L51.5 151.7 L51.5 153.0 L51.1 153.0 L51.1 154.3 L51.3 154.3 L51.3 155.6 L51.5 155.6 L51.5 156.9 L51.1 156.9 L51.1 158.2 L50.3 158.2 L50.3 159.5 L50.5 159.5 L50.5 160.8 L50.9 160.8 L50.9 162.1 L50.7 162.1 L50.7 163.4 L50.7 163.4 L50.7 164.7 L51.9 164.7 L51.9 166.0 L51.1 166.0 L51.1 167.3 L51.6 167.3 L51.6 168.6 L51.5 168.6 L51.5 169.9 L51.3 169.9 L51.3 171.2 L51.1 171.2 L51.1 172.5 L51.7 172.5 L51.7 173.8 L51.5 173.8 L51.5 175.1 L51.7 175.1 L51.7 176.4 L51.5 176.4 L51.5 177.7 L50.6 177.7 L50.6 179.0 L50.5 179.0 L50.5 180.3 L51.5 180.3 L51.5 181.6 L50.9 181.6 L50.9 182.9 L51.1 182.9 L51.1 184.2 L51.4 184.2 L51.4 185.5 L50.8 185.5 L50.8 186.8 L50.9 186.8 L50.9 188.1 L52.3 188.1 L52.3 189.4 L50.4 189.4 L50.4 190.7 L51.1 190.7 L51.1 192.0 L51.3 192.0 L51.3 193.3 L50.9 193.3 L50.9 194.6 L51.3 194.6 L51.3 195.9 L51.6 195.9 L51.6 197.2 L51.2 197.2 L51.2 198.5 L51.0 198.5 L51.0 199.8 L50.5 199.8 L50.5 201.1 L50.5 201.1 L50.5 202.4 L51.7 202.4 L51.7 203.7 L51.5 203.7 L51.5 205.0 L51.0 205.0 L51.0 206.3 L51.0 206.3 L51.0 207.6 L51.2 207.6 L51.2 208.9 L52.2 208.9 L52.2 210.2 L51.8 210.2 L51.8 211.5 L51.1 211.5 L51.1 212.8 L51.4 212.8 L51.4 214.1 L51.5 214.1 L51.5 215.4 L51.6 215.4 L51.6 216.7 L51.0 216.7 L51.0 218.0 L50.1 218.0 L50.1 219.3 L50.8 219.3 L50.8 220.6 L51.4 220.6 L51.4 221.9 L51.0 221.9 L51.0 223.2 L50.7 223.2 L50.7 224.5 L50.8 224.5 L50.8 225.8 L51.3 225.8 L51.3 227.1 L51.0 227.1 L51.0 228.4 L51.8 228.4 L51.8 229.7 L51.6 229.7 L51.6 231.0 L51.7 231.0 L51.7 232.3 L52.3 232.3 L52.3 233.6 L51.8 233.6 L51.8 234.9 L51.5 234.9 L51.5 236.2 L50.9 236.2 L50.9 237.5 L51.4 237.5 L51.4 238.8 L51.0 238.8 L51.0 239.6 L51.4 239.6 L42.0 239.6 Z" fill="#4a3183"/>
<path d="M42.0 26.9 L49.8 26.9 L49.8 28.2 L50.1 28.2 L50.1 29.5 L49.7 29.5 L49.7 30.8 L50.0 30.8 L50.0 32.1 L50.4 32.1 L50.4 33.4 L50.6 33.4 L50.6 34.7 L49.4 34.7 L49.4 36.0 L50.0 36.0 L50.0 37.3 L50.8 37.3 L50.8 38.6 L50.6 38.6 L50.6 39.9 L50.1 39.9 L50.1 41.2 L50.2 41.2 L50.2 42.5 L50.4 42.5 L50.4 43.8 L50.0 43.8 L50.0 45.1 L49.9 45.1 L49.9 46.4 L49.3 46.4 L49.3 47.7 L50.3 47.7 L50.3 49.0 L49.8 49.0 L49.8 50.3 L50.0 50.3 L50.0 51.6 L50.2 51.6 L50.2 52.9 L50.0 52.9 L50.0 54.2 L50.7 54.2 L50.7 55.5 L50.1 55.5 L50.1 56.8 L51.1 56.8 L51.1 58.1 L51.0 58.1 L51.0 59.4 L49.5 59.4 L49.5 60.7 L50.9 60.7 L50.9 62.0 L50.4 62.0 L50.4 63.3 L50.5 63.3 L50.5 64.6 L50.7 64.6 L50.7 65.9 L50.4 65.9 L50.4 67.2 L50.9 67.2 L50.9 68.5 L49.8 68.5 L49.8 69.8 L50.5 69.8 L50.5 71.1 L50.5 71.1 L50.5 72.4 L50.2 72.4 L50.2 73.7 L49.8 73.7 L49.8 75.0 L50.0 75.0 L50.0 76.3 L50.2 76.3 L50.2 77.6 L50.5 77.6 L50.5 78.9 L49.8 78.9 L49.8 80.2 L49.9 80.2 L49.9 81.5 L49.3 81.5 L49.3 82.8 L50.0 82.8 L50.0 84.1 L50.3 84.1 L50.3 85.4 L50.1 85.4 L50.1 86.7 L50.2 86.7 L50.2 88.0 L50.0 88.0 L50.0 89.3 L49.9 89.3 L49.9 90.6 L50.2 90.6 L50.2 91.9 L51.2 91.9 L51.2 93.2 L50.2 93.2 L50.2 94.5 L50.1 94.5 L50.1 95.8 L49.9 95.8 L49.9 97.1 L50.0 97.1 L50.0 98.4 L51.0 98.4 L51.0 99.7 L49.6 99.7 L49.6 101.0 L49.7 101.0 L49.7 102.3 L50.9 102.3 L50.9 103.6 L50.1 103.6 L50.1 104.9 L50.3 104.9 L50.3 106.2 L50.3 106.2 L50.3 107.5 L50.5 107.5 L50.5 108.8 L50.2 108.8 L50.2 110.1 L50.2 110.1 L50.2 111.4 L50.4 111.4 L50.4 112.7 L50.2 112.7 L50.2 114.0 L50.0 114.0 L50.0 115.3 L49.6 115.3 L49.6 116.6 L49.7 116.6 L49.7 117.9 L49.6 117.9 L49.6 119.2 L49.8 119.2 L49.8 120.5 L49.8 120.5 L49.8 121.8 L49.5 121.8 L49.5 123.1 L49.6 123.1 L49.6 124.4 L49.3 124.4 L49.3 125.7 L49.9 125.7 L49.9 127.0 L49.4 127.0 L49.4 128.3 L49.5 128.3 L49.5 129.6 L51.2 129.6 L51.2 130.9 L50.9 130.9 L50.9 132.2 L50.5 132.2 L50.5 133.5 L50.3 133.5 L50.3 134.8 L49.8 134.8 L49.8 136.1 L51.4 136.1 L51.4 137.4 L50.6 137.4 L50.6 138.7 L50.5 138.7 L50.5 140.0 L50.8 140.0 L50.8 141.3 L51.5 141.3 L51.5 142.6 L50.3 142.6 L50.3 143.9 L50.3 143.9 L50.3 145.2 L50.4 145.2 L50.4 146.5 L49.6 146.5 L49.6 147.8 L50.2 147.8 L50.2 149.1 L50.3 149.1 L50.3 150.4 L50.6 150.4 L50.6 151.7 L50.6 151.7 L50.6 153.0 L50.2 153.0 L50.2 154.3 L50.4 154.3 L50.4 155.6 L50.6 155.6 L50.6 156.9 L50.2 156.9 L50.2 158.2 L49.4 158.2 L49.4 159.5 L49.6 159.5 L49.6 160.8 L50.0 160.8 L50.0 162.1 L49.8 162.1 L49.8 163.4 L49.8 163.4 L49.8 164.7 L51.0 164.7 L51.0 166.0 L50.2 166.0 L50.2 167.3 L50.7 167.3 L50.7 168.6 L50.6 168.6 L50.6 169.9 L50.4 169.9 L50.4 171.2 L50.2 171.2 L50.2 172.5 L50.8 172.5 L50.8 173.8 L50.6 173.8 L50.6 175.1 L50.8 175.1 L50.8 176.4 L50.6 176.4 L50.6 177.7 L49.7 177.7 L49.7 179.0 L49.6 179.0 L49.6 180.3 L50.6 180.3 L50.6 181.6 L50.0 181.6 L50.0 182.9 L50.2 182.9 L50.2 184.2 L50.5 184.2 L50.5 185.5 L49.9 185.5 L49.9 186.8 L50.0 186.8 L50.0 188.1 L51.4 188.1 L51.4 189.4 L49.5 189.4 L49.5 190.7 L50.2 190.7 L50.2 192.0 L50.4 192.0 L50.4 193.3 L50.0 193.3 L50.0 194.6 L50.4 194.6 L50.4 195.9 L50.7 195.9 L50.7 197.2 L50.3 197.2 L50.3 198.5 L50.1 198.5 L50.1 199.8 L49.6 199.8 L49.6 201.1 L49.6 201.1 L49.6 202.4 L50.8 202.4 L50.8 203.7 L50.6 203.7 L50.6 205.0 L50.1 205.0 L50.1 206.3 L50.1 206.3 L50.1 207.6 L50.3 207.6 L50.3 208.9 L51.3 208.9 L51.3 210.2 L50.9 210.2 L50.9 211.5 L50.2 211.5 L50.2 212.8 L50.5 212.8 L50.5 214.1 L50.6 214.1 L50.6 215.4 L50.7 215.4 L50.7 216.7 L50.1 216.7 L50.1 218.0 L49.2 218.0 L49.2 219.3 L49.9 219.3 L49.9 220.6 L50.5 220.6 L50.5 221.9 L50.1 221.9 L50.1 223.2 L49.8 223.2 L49.8 224.5 L49.9 224.5 L49.9 225.8 L50.4 225.8 L50.4 227.1 L50.1 227.1 L50.1 228.4 L50.9 228.4 L50.9 229.7 L50.7 229.7 L50.7 231.0 L50.8 231.0 L50.8 232.3 L51.4 232.3 L51.4 233.6 L50.9 233.6 L50.9 234.9 L50.6 234.9 L50.6 236.2 L50.0 236.2 L50.0 237.5 L50.5 237.5 L50.5 238.8 L50.1 238.8 L50.1 239.6 L50.5 239.6 L42.0 239.6 Z" fill="#3b448b"/>
<path d="M42.0 26.9 L48.9 26.9 L48.9 28.2 L49.2 28.2 L49.2 29.5 L48.8 29.5 L48.8 30.8 L49.1 30.8 L49.1 32.1 L49.5 32.1 L49.5 33.4 L49.7 33.4 L49.7 34.7 L48.5 34.7 L48.5 36.0 L49.1 36.0 L49.1 37.3 L49.9 37.3 L49.9 38.6 L49.7 38.6 L49.7 39.9 L49.2 39.9 L49.2 41.2 L49.3 41.2 L49.3 42.5 L49.5 42.5 L49.5 43.8 L49.1 43.8 L49.1 45.1 L49.0 45.1 L49.0 46.4 L48.4 46.4 L48.4 47.7 L49.4 47.7 L49.4 49.0 L48.9 49.0 L48.9 50.3 L49.1 50.3 L49.1 51.6 L49.3 51.6 L49.3 52.9 L49.1 52.9 L49.1 54.2 L49.8 54.2 L49.8 55.5 L49.2 55.5 L49.2 56.8 L50.2 56.8 L50.2 58.1 L50.1 58.1 L50.1 59.4 L48.6 59.4 L48.6 60.7 L50.0 60.7 L50.0 62.0 L49.5 62.0 L49.5 63.3 L49.6 63.3 L49.6 64.6 L49.8 64.6 L49.8 65.9 L49.5 65.9 L49.5 67.2 L50.0 67.2 L50.0 68.5 L48.9 68.5 L48.9 69.8 L49.6 69.8 L49.6 71.1 L49.6 71.1 L49.6 72.4 L49.3 72.4 L49.3 73.7 L48.9 73.7 L48.9 75.0 L49.1 75.0 L49.1 76.3 L49.3 76.3 L49.3 77.6 L49.6 77.6 L49.6 78.9 L48.9 78.9 L48.9 80.2 L49.0 80.2 L49.0 81.5 L48.4 81.5 L48.4 82.8 L49.1 82.8 L49.1 84.1 L49.4 84.1 L49.4 85.4 L49.2 85.4 L49.2 86.7 L49.3 86.7 L49.3 88.0 L49.1 88.0 L49.1 89.3 L49.0 89.3 L49.0 90.6 L49.3 90.6 L49.3 91.9 L50.3 91.9 L50.3 93.2 L49.3 93.2 L49.3 94.5 L49.2 94.5 L49.2 95.8 L49.0 95.8 L49.0 97.1 L49.1 97.1 L49.1 98.4 L50.1 98.4 L50.1 99.7 L48.7 99.7 L48.7 101.0 L48.8 101.0 L48.8 102.3 L50.0 102.3 L50.0 103.6 L49.2 103.6 L49.2 104.9 L49.4 104.9 L49.4 106.2 L49.4 106.2 L49.4 107.5 L49.6 107.5 L49.6 108.8 L49.3 108.8 L49.3 110.1 L49.3 110.1 L49.3 111.4 L49.5 111.4 L49.5 112.7 L49.3 112.7 L49.3 114.0 L49.1 114.0 L49.1 115.3 L48.7 115.3 L48.7 116.6 L48.8 116.6 L48.8 117.9 L48.7 117.9 L48.7 119.2 L48.9 119.2 L48.9 120.5 L48.9 120.5 L48.9 121.8 L48.6 121.8 L48.6 123.1 L48.7 123.1 L48.7 124.4 L48.4 124.4 L48.4 125.7 L49.0 125.7 L49.0 127.0 L48.5 127.0 L48.5 128.3 L48.6 128.3 L48.6 129.6 L50.3 129.6 L50.3 130.9 L50.0 130.9 L50.0 132.2 L49.6 132.2 L49.6 133.5 L49.4 133.5 L49.4 134.8 L48.9 134.8 L48.9 136.1 L50.5 136.1 L50.5 137.4 L49.7 137.4 L49.7 138.7 L49.6 138.7 L49.6 140.0 L49.9 140.0 L49.9 141.3 L50.6 141.3 L50.6 142.6 L49.4 142.6 L49.4 143.9 L49.4 143.9 L49.4 145.2 L49.5 145.2 L49.5 146.5 L48.7 146.5 L48.7 147.8 L49.3 147.8 L49.3 149.1 L49.4 149.1 L49.4 150.4 L49.7 150.4 L49.7 151.7 L49.7 151.7 L49.7 153.0 L49.3 153.0 L49.3 154.3 L49.5 154.3 L49.5 155.6 L49.7 155.6 L49.7 156.9 L49.3 156.9 L49.3 158.2 L48.5 158.2 L48.5 159.5 L48.7 159.5 L48.7 160.8 L49.1 160.8 L49.1 162.1 L48.9 162.1 L48.9 163.4 L48.9 163.4 L48.9 164.7 L50.1 164.7 L50.1 166.0 L49.3 166.0 L49.3 167.3 L49.8 167.3 L49.8 168.6 L49.7 168.6 L49.7 169.9 L49.5 169.9 L49.5 171.2 L49.3 171.2 L49.3 172.5 L49.9 172.5 L49.9 173.8 L49.7 173.8 L49.7 175.1 L49.9 175.1 L49.9 176.4 L49.7 176.4 L49.7 177.7 L48.8 177.7 L48.8 179.0 L48.7 179.0 L48.7 180.3 L49.7 180.3 L49.7 181.6 L49.1 181.6 L49.1 182.9 L49.3 182.9 L49.3 184.2 L49.6 184.2 L49.6 185.5 L49.0 185.5 L49.0 186.8 L49.1 186.8 L49.1 188.1 L50.5 188.1 L50.5 189.4 L48.6 189.4 L48.6 190.7 L49.3 190.7 L49.3 192.0 L49.5 192.0 L49.5 193.3 L49.1 193.3 L49.1 194.6 L49.5 194.6 L49.5 195.9 L49.8 195.9 L49.8 197.2 L49.4 197.2 L49.4 198.5 L49.2 198.5 L49.2 199.8 L48.7 199.8 L48.7 201.1 L48.7 201.1 L48.7 202.4 L49.9 202.4 L49.9 203.7 L49.7 203.7 L49.7 205.0 L49.2 205.0 L49.2 206.3 L49.2 206.3 L49.2 207.6 L49.4 207.6 L49.4 208.9 L50.4 208.9 L50.4 210.2 L50.0 210.2 L50.0 211.5 L49.3 211.5 L49.3 212.8 L49.6 212.8 L49.6 214.1 L49.7 214.1 L49.7 215.4 L49.8 215.4 L49.8 216.7 L49.2 216.7 L49.2 218.0 L48.3 218.0 L48.3 219.3 L49.0 219.3 L49.0 220.6 L49.6 220.6 L49.6 221.9 L49.2 221.9 L49.2 223.2 L48.9 223.2 L48.9 224.5 L49.0 224.5 L49.0 225.8 L49.5 225.8 L49.5 227.1 L49.2 227.1 L49.2 228.4 L50.0 228.4 L50.0 229.7 L49.8 229.7 L49.8 231.0 L49.9 231.0 L49.9 232.3 L50.5 232.3 L50.5 233.6 L50.0 233.6 L50.0 234.9 L49.7 234.9 L49.7 236.2 L49.1 236.2 L49.1 237.5 L49.6 237.5 L49.6 238.8 L49.2 238.8 L49.2 239.6 L49.6 239.6 L42.0 239.6 Z" fill="#1d578f"/>
<path d="M42.0 26.9 L48.1 26.9 L48.1 28.2 L48.4 28.2 L48.4 29.5 L48.0 29.5 L48.0 30.8 L48.3 30.8 L48.3 32.1 L48.7 32.1 L48.7 33.4 L48.9 33.4 L48.9 34.7 L47.7 34.7 L47.7 36.0 L48.3 36.0 L48.3 37.3 L49.1 37.3 L49.1 38.6 L48.9 38.6 L48.9 39.9 L48.4 39.9 L48.4 41.2 L48.5 41.2 L48.5 42.5 L48.7 42.5 L48.7 43.8 L48.3 43.8 L48.3 45.1 L48.2 45.1 L48.2 46.4 L47.6 46.4 L47.6 47.7 L48.6 47.7 L48.6 49.0 L48.1 49.0 L48.1 50.3 L48.3 50.3 L48.3 51.6 L48.5 51.6 L48.5 52.9 L48.3 52.9 L48.3 54.2 L49.0 54.2 L49.0 55.5 L48.4 55.5 L48.4 56.8 L49.4 56.8 L49.4 58.1 L49.3 58.1 L49.3 59.4 L47.8 59.4 L47.8 60.7 L49.2 60.7 L49.2 62.0 L48.7 62.0 L48.7 63.3 L48.8 63.3 L48.8 64.6 L49.0 64.6 L49.0 65.9 L48.7 65.9 L48.7 67.2 L49.2 67.2 L49.2 68.5 L48.1 68.5 L48.1 69.8 L48.8 69.8 L48.8 71.1 L48.8 71.1 L48.8 72.4 L48.5 72.4 L48.5 73.7 L48.1 73.7 L48.1 75.0 L48.3 75.0 L48.3 76.3 L48.5 76.3 L48.5 77.6 L48.8 77.6 L48.8 78.9 L48.1 78.9 L48.1 80.2 L48.2 80.2 L48.2 81.5 L47.6 81.5 L47.6 82.8 L48.3 82.8 L48.3 84.1 L48.6 84.1 L48.6 85.4 L48.4 85.4 L48.4 86.7 L48.5 86.7 L48.5 88.0 L48.3 88.0 L48.3 89.3 L48.2 89.3 L48.2 90.6 L48.5 90.6 L48.5 91.9 L49.5 91.9 L49.5 93.2 L48.5 93.2 L48.5 94.5 L48.4 94.5 L48.4 95.8 L48.2 95.8 L48.2 97.1 L48.3 97.1 L48.3 98.4 L49.3 98.4 L49.3 99.7 L47.9 99.7 L47.9 101.0 L48.0 101.0 L48.0 102.3 L49.2 102.3 L49.2 103.6 L48.4 103.6 L48.4 104.9 L48.6 104.9 L48.6 106.2 L48.6 106.2 L48.6 107.5 L48.8 107.5 L48.8 108.8 L48.5 108.8 L48.5 110.1 L48.5 110.1 L48.5 111.4 L48.7 111.4 L48.7 112.7 L48.5 112.7 L48.5 114.0 L48.3 114.0 L48.3 115.3 L47.9 115.3 L47.9 116.6 L48.0 116.6 L48.0 117.9 L47.9 117.9 L47.9 119.2 L48.1 119.2 L48.1 120.5 L48.1 120.5 L48.1 121.8 L47.8 121.8 L47.8 123.1 L47.9 123.1 L47.9 124.4 L47.6 124.4 L47.6 125.7 L48.2 125.7 L48.2 127.0 L47.7 127.0 L47.7 128.3 L47.8 128.3 L47.8 129.6 L49.5 129.6 L49.5 130.9 L49.2 130.9 L49.2 132.2 L48.8 132.2 L48.8 133.5 L48.6 133.5 L48.6 134.8 L48.1 134.8 L48.1 136.1 L49.7 136.1 L49.7 137.4 L48.9 137.4 L48.9 138.7 L48.8 138.7 L48.8 140.0 L49.1 140.0 L49.1 141.3 L49.8 141.3 L49.8 142.6 L48.6 142.6 L48.6 143.9 L48.6 143.9 L48.6 145.2 L48.7 145.2 L48.7 146.5 L47.9 146.5 L47.9 147.8 L48.5 147.8 L48.5 149.1 L48.6 149.1 L48.6 150.4 L48.9 150.4 L48.9 151.7 L48.9 151.7 L48.9 153.0 L48.5 153.0 L48.5 154.3 L48.7 154.3 L48.7 155.6 L48.9 155.6 L48.9 156.9 L48.5 156.9 L48.5 158.2 L47.7 158.2 L47.7 159.5 L47.9 159.5 L47.9 160.8 L48.3 160.8 L48.3 162.1 L48.1 162.1 L48.1 163.4 L48.1 163.4 L48.1 164.7 L49.3 164.7 L49.3 166.0 L48.5 166.0 L48.5 167.3 L49.0 167.3 L49.0 168.6 L48.9 168.6 L48.9 169.9 L48.7 169.9 L48.7 171.2 L48.5 171.2 L48.5 172.5 L49.1 172.5 L49.1 173.8 L48.9 173.8 L48.9 175.1 L49.1 175.1 L49.1 176.4 L48.9 176.4 L48.9 177.7 L48.0 177.7 L48.0 179.0 L47.9 179.0 L47.9 180.3 L48.9 180.3 L48.9 181.6 L48.3 181.6 L48.3 182.9 L48.5 182.9 L48.5 184.2 L48.8 184.2 L48.8 185.5 L48.2 185.5 L48.2 186.8 L48.3 186.8 L48.3 188.1 L49.7 188.1 L49.7 189.4 L47.8 189.4 L47.8 190.7 L48.5 190.7 L48.5 192.0 L48.7 192.0 L48.7 193.3 L48.3 193.3 L48.3 194.6 L48.7 194.6 L48.7 195.9 L49.0 195.9 L49.0 197.2 L48.6 197.2 L48.6 198.5 L48.4 198.5 L48.4 199.8 L47.9 199.8 L47.9 201.1 L47.9 201.1 L47.9 202.4 L49.1 202.4 L49.1 203.7 L48.9 203.7 L48.9 205.0 L48.4 205.0 L48.4 206.3 L48.4 206.3 L48.4 207.6 L48.6 207.6 L48.6 208.9 L49.6 208.9 L49.6 210.2 L49.2 210.2 L49.2 211.5 L48.5 211.5 L48.5 212.8 L48.8 212.8 L48.8 214.1 L48.9 214.1 L48.9 215.4 L49.0 215.4 L49.0 216.7 L48.4 216.7 L48.4 218.0 L47.5 218.0 L47.5 219.3 L48.2 219.3 L48.2 220.6 L48.8 220.6 L48.8 221.9 L48.4 221.9 L48.4 223.2 L48.1 223.2 L48.1 224.5 L48.2 224.5 L48.2 225.8 L48.7 225.8 L48.7 227.1 L48.4 227.1 L48.4 228.4 L49.2 228.4 L49.2 229.7 L49.0 229.7 L49.0 231.0 L49.1 231.0 L49.1 232.3 L49.7 232.3 L49.7 233.6 L49.2 233.6 L49.2 234.9 L48.9 234.9 L48.9 236.2 L48.3 236.2 L48.3 237.5 L48.8 237.5 L48.8 238.8 L48.4 238.8 L48.4 239.6 L48.8 239.6 L42.0 239.6 Z" fill="#006a91"/>
<path d="M42.0 26.9 L47.3 26.9 L47.3 28.2 L47.6 28.2 L47.6 29.5 L47.2 29.5 L47.2 30.8 L47.5 30.8 L47.5 32.1 L47.9 32.1 L47.9 33.4 L48.1 33.4 L48.1 34.7 L46.9 34.7 L46.9 36.0 L47.5 36.0 L47.5 37.3 L48.3 37.3 L48.3 38.6 L48.1 38.6 L48.1 39.9 L47.6 39.9 L47.6 41.2 L47.7 41.2 L47.7 42.5 L47.9 42.5 L47.9 43.8 L47.5 43.8 L47.5 45.1 L47.4 45.1 L47.4 46.4 L46.8 46.4 L46.8 47.7 L47.8 47.7 L47.8 49.0 L47.3 49.0 L47.3 50.3 L47.5 50.3 L47.5 51.6 L47.7 51.6 L47.7 52.9 L47.5 52.9 L47.5 54.2 L48.2 54.2 L48.2 55.5 L47.6 55.5 L47.6 56.8 L48.6 56.8 L48.6 58.1 L48.5 58.1 L48.5 59.4 L47.0 59.4 L47.0 60.7 L48.4 60.7 L48.4 62.0 L47.9 62.0 L47.9 63.3 L48.0 63.3 L48.0 64.6 L48.2 64.6 L48.2 65.9 L47.9 65.9 L47.9 67.2 L48.4 67.2 L48.4 68.5 L47.3 68.5 L47.3 69.8 L48.0 69.8 L48.0 71.1 L48.0 71.1 L48.0 72.4 L47.7 72.4 L47.7 73.7 L47.3 73.7 L47.3 75.0 L47.5 75.0 L47.5 76.3 L47.7 76.3 L47.7 77.6 L48.0 77.6 L48.0 78.9 L47.3 78.9 L47.3 80.2 L47.4 80.2 L47.4 81.5 L46.8 81.5 L46.8 82.8 L47.5 82.8 L47.5 84.1 L47.8 84.1 L47.8 85.4 L47.6 85.4 L47.6 86.7 L47.7 86.7 L47.7 88.0 L47.5 88.0 L47.5 89.3 L47.4 89.3 L47.4 90.6 L47.7 90.6 L47.7 91.9 L48.7 91.9 L48.7 93.2 L47.7 93.2 L47.7 94.5 L47.6 94.5 L47.6 95.8 L47.4 95.8 L47.4 97.1 L47.5 97.1 L47.5 98.4 L48.5 98.4 L48.5 99.7 L47.1 99.7 L47.1 101.0 L47.2 101.0 L47.2 102.3 L48.4 102.3 L48.4 103.6 L47.6 103.6 L47.6 104.9 L47.8 104.9 L47.8 106.2 L47.8 106.2 L47.8 107.5 L48.0 107.5 L48.0 108.8 L47.7 108.8 L47.7 110.1 L47.7 110.1 L47.7 111.4 L47.9 111.4 L47.9 112.7 L47.7 112.7 L47.7 114.0 L47.5 114.0 L47.5 115.3 L47.1 115.3 L47.1 116.6 L47.2 116.6 L47.2 117.9 L47.1 117.9 L47.1 119.2 L47.3 119.2 L47.3 120.5 L47.3 120.5 L47.3 121.8 L47.0 121.8 L47.0 123.1 L47.1 123.1 L47.1 124.4 L46.8 124.4 L46.8 125.7 L47.4 125.7 L47.4 127.0 L46.9 127.0 L46.9 128.3 L47.0 128.3 L47.0 129.6 L48.7 129.6 L48.7 130.9 L48.4 130.9 L48.4 132.2 L48.0 132.2 L48.0 133.5 L47.8 133.5 L47.8 134.8 L47.3 134.8 L47.3 136.1 L48.9 136.1 L48.9 137.4 L48.1 137.4 L48.1 138.7 L48.0 138.7 L48.0 140.0 L48.3 140.0 L48.3 141.3 L49.0 141.3 L49.0 142.6 L47.8 142.6 L47.8 143.9 L47.8 143.9 L47.8 145.2 L47.9 145.2 L47.9 146.5 L47.1 146.5 L47.1 147.8 L47.7 147.8 L47.7 149.1 L47.8 149.1 L47.8 150.4 L48.1 150.4 L48.1 151.7 L48.1 151.7 L48.1 153.0 L47.7 153.0 L47.7 154.3 L47.9 154.3 L47.9 155.6 L48.1 155.6 L48.1 156.9 L47.7 156.9 L47.7 158.2 L46.9 158.2 L46.9 159.5 L47.1 159.5 L47.1 160.8 L47.5 160.8 L47.5 162.1 L47.3 162.1 L47.3 163.4 L47.3 163.4 L47.3 164.7 L48.5 164.7 L48.5 166.0 L47.7 166.0 L47.7 167.3 L48.2 167.3 L48.2 168.6 L48.1 168.6 L48.1 169.9 L47.9 169.9 L47.9 171.2 L47.7 171.2 L47.7 172.5 L48.3 172.5 L48.3 173.8 L48.1 173.8 L48.1 175.1 L48.3 175.1 L48.3 176.4 L48.1 176.4 L48.1 177.7 L47.2 177.7 L47.2 179.0 L47.1 179.0 L47.1 180.3 L48.1 180.3 L48.1 181.6 L47.5 181.6 L47.5 182.9 L47.7 182.9 L47.7 184.2 L48.0 184.2 L48.0 185.5 L47.4 185.5 L47.4 186.8 L47.5 186.8 L47.5 188.1 L48.9 188.1 L48.9 189.4 L47.0 189.4 L47.0 190.7 L47.7 190.7 L47.7 192.0 L47.9 192.0 L47.9 193.3 L47.5 193.3 L47.5 194.6 L47.9 194.6 L47.9 195.9 L48.2 195.9 L48.2 197.2 L47.8 197.2 L47.8 198.5 L47.6 198.5 L47.6 199.8 L47.1 199.8 L47.1 201.1 L47.1 201.1 L47.1 202.4 L48.3 202.4 L48.3 203.7 L48.1 203.7 L48.1 205.0 L47.6 205.0 L47.6 206.3 L47.6 206.3 L47.6 207.6 L47.8 207.6 L47.8 208.9 L48.8 208.9 L48.8 210.2 L48.4 210.2 L48.4 211.5 L47.7 211.5 L47.7 212.8 L48.0 212.8 L48.0 214.1 L48.1 214.1 L48.1 215.4 L48.2 215.4 L48.2 216.7 L47.6 216.7 L47.6 218.0 L46.7 218.0 L46.7 219.3 L47.4 219.3 L47.4 220.6 L48.0 220.6 L48.0 221.9 L47.6 221.9 L47.6 223.2 L47.3 223.2 L47.3 224.5 L47.4 224.5 L47.4 225.8 L47.9 225.8 L47.9 227.1 L47.6 227.1 L47.6 228.4 L48.4 228.4 L48.4 229.7 L48.2 229.7 L48.2 231.0 L48.3 231.0 L48.3 232.3 L48.9 232.3 L48.9 233.6 L48.4 233.6 L48.4 234.9 L48.1 234.9 L48.1 236.2 L47.5 236.2 L47.5 237.5 L48.0 237.5 L48.0 238.8 L47.6 238.8 L47.6 239.6 L48.0 239.6 L42.0 239.6 Z" fill="#007e90"/>
<path d="M42.0 26.9 L46.6 26.9 L46.6 28.2 L46.9 28.2 L46.9 29.5 L46.5 29.5 L46.5 30.8 L46.8 30.8 L46.8 32.1 L47.2 32.1 L47.2 33.4 L47.4 33.4 L47.4 34.7 L46.2 34.7 L46.2 36.0 L46.8 36.0 L46.8 37.3 L47.6 37.3 L47.6 38.6 L47.4 38.6 L47.4 39.9 L46.9 39.9 L46.9 41.2 L47.0 41.2 L47.0 42.5 L47.2 42.5 L47.2 43.8 L46.8 43.8 L46.8 45.1 L46.7 45.1 L46.7 46.4 L46.1 46.4 L46.1 47.7 L47.1 47.7 L47.1 49.0 L46.6 49.0 L46.6 50.3 L46.8 50.3 L46.8 51.6 L47.0 51.6 L47.0 52.9 L46.8 52.9 L46.8 54.2 L47.5 54.2 L47.5 55.5 L46.9 55.5 L46.9 56.8 L47.9 56.8 L47.9 58.1 L47.8 58.1 L47.8 59.4 L46.3 59.4 L46.3 60.7 L47.7 60.7 L47.7 62.0 L47.2 62.0 L47.2 63.3 L47.3 63.3 L47.3 64.6 L47.5 64.6 L47.5 65.9 L47.2 65.9 L47.2 67.2 L47.7 67.2 L47.7 68.5 L46.6 68.5 L46.6 69.8 L47.3 69.8 L47.3 71.1 L47.3 71.1 L47.3 72.4 L47.0 72.4 L47.0 73.7 L46.6 73.7 L46.6 75.0 L46.8 75.0 L46.8 76.3 L47.0 76.3 L47.0 77.6 L47.3 77.6 L47.3 78.9 L46.6 78.9 L46.6 80.2 L46.7 80.2 L46.7 81.5 L46.1 81.5 L46.1 82.8 L46.8 82.8 L46.8 84.1 L47.1 84.1 L47.1 85.4 L46.9 85.4 L46.9 86.7 L47.0 86.7 L47.0 88.0 L46.8 88.0 L46.8 89.3 L46.7 89.3 L46.7 90.6 L47.0 90.6 L47.0 91.9 L48.0 91.9 L48.0 93.2 L47.0 93.2 L47.0 94.5 L46.9 94.5 L46.9 95.8 L46.7 95.8 L46.7 97.1 L46.8 97.1 L46.8 98.4 L47.8 98.4 L47.8 99.7 L46.4 99.7 L46.4 101.0 L46.5 101.0 L46.5 102.3 L47.7 102.3 L47.7 103.6 L46.9 103.6 L46.9 104.9 L47.1 104.9 L47.1 106.2 L47.1 106.2 L47.1 107.5 L47.3 107.5 L47.3 108.8 L47.0 108.8 L47.0 110.1 L47.0 110.1 L47.0 111.4 L47.2 111.4 L47.2 112.7 L47.0 112.7 L47.0 114.0 L46.8 114.0 L46.8 115.3 L46.4 115.3 L46.4 116.6 L46.5 116.6 L46.5 117.9 L46.4 117.9 L46.4 119.2 L46.6 119.2 L46.6 120.5 L46.6 120.5 L46.6 121.8 L46.3 121.8 L46.3 123.1 L46.4 123.1 L46.4 124.4 L46.1 124.4 L46.1 125.7 L46.7 125.7 L46.7 127.0 L46.2 127.0 L46.2 128.3 L46.3 128.3 L46.3 129.6 L48.0 129.6 L48.0 130.9 L47.7 130.9 L47.7 132.2 L47.3 132.2 L47.3 133.5 L47.1 133.5 L47.1 134.8 L46.6 134.8 L46.6 136.1 L48.2 136.1 L48.2 137.4 L47.4 137.4 L47.4 138.7 L47.3 138.7 L47.3 140.0 L47.6 140.0 L47.6 141.3 L48.3 141.3 L48.3 142.6 L47.1 142.6 L47.1 143.9 L47.1 143.9 L47.1 145.2 L47.2 145.2 L47.2 146.5 L46.4 146.5 L46.4 147.8 L47.0 147.8 L47.0 149.1 L47.1 149.1 L47.1 150.4 L47.4 150.4 L47.4 151.7 L47.4 151.7 L47.4 153.0 L47.0 153.0 L47.0 154.3 L47.2 154.3 L47.2 155.6 L47.4 155.6 L47.4 156.9 L47.0 156.9 L47.0 158.2 L46.2 158.2 L46.2 159.5 L46.4 159.5 L46.4 160.8 L46.8 160.8 L46.8 162.1 L46.6 162.1 L46.6 163.4 L46.6 163.4 L46.6 164.7 L47.8 164.7 L47.8 166.0 L47.0 166.0 L47.0 167.3 L47.5 167.3 L47.5 168.6 L47.4 168.6 L47.4 169.9 L47.2 169.9 L47.2 171.2 L47.0 171.2 L47.0 172.5 L47.6 172.5 L47.6 173.8 L47.4 173.8 L47.4 175.1 L47.6 175.1 L47.6 176.4 L47.4 176.4 L47.4 177.7 L46.5 177.7 L46.5 179.0 L46.4 179.0 L46.4 180.3 L47.4 180.3 L47.4 181.6 L46.8 181.6 L46.8 182.9 L47.0 182.9 L47.0 184.2 L47.3 184.2 L47.3 185.5 L46.7 185.5 L46.7 186.8 L46.8 186.8 L46.8 188.1 L48.2 188.1 L48.2 189.4 L46.3 189.4 L46.3 190.7 L47.0 190.7 L47.0 192.0 L47.2 192.0 L47.2 193.3 L46.8 193.3 L46.8 194.6 L47.2 194.6 L47.2 195.9 L47.5 195.9 L47.5 197.2 L47.1 197.2 L47.1 198.5 L46.9 198.5 L46.9 199.8 L46.4 199.8 L46.4 201.1 L46.4 201.1 L46.4 202.4 L47.6 202.4 L47.6 203.7 L47.4 203.7 L47.4 205.0 L46.9 205.0 L46.9 206.3 L46.9 206.3 L46.9 207.6 L47.1 207.6 L47.1 208.9 L48.1 208.9 L48.1 210.2 L47.7 210.2 L47.7 211.5 L47.0 211.5 L47.0 212.8 L47.3 212.8 L47.3 214.1 L47.4 214.1 L47.4 215.4 L47.5 215.4 L47.5 216.7 L46.9 216.7 L46.9 218.0 L46.0 218.0 L46.0 219.3 L46.7 219.3 L46.7 220.6 L47.3 220.6 L47.3 221.9 L46.9 221.9 L46.9 223.2 L46.6 223.2 L46.6 224.5 L46.7 224.5 L46.7 225.8 L47.2 225.8 L47.2 227.1 L46.9 227.1 L46.9 228.4 L47.7 228.4 L47.7 229.7 L47.5 229.7 L47.5 231.0 L47.6 231.0 L47.6 232.3 L48.2 232.3 L48.2 233.6 L47.7 233.6 L47.7 234.9 L47.4 234.9 L47.4 236.2 L46.8 236.2 L46.8 237.5 L47.3 237.5 L47.3 238.8 L46.9 238.8 L46.9 239.6 L47.3 239.6 L42.0 239.6 Z" fill="#00928d"/>
<path d="M42.0 26.9 L46.0 26.9 L46.0 28.2 L46.3 28.2 L46.3 29.5 L45.9 29.5 L45.9 30.8 L46.2 30.8 L46.2 32.1 L46.6 32.1 L46.6 33.4 L46.8 33.4 L46.8 34.7 L45.6 34.7 L45.6 36.0 L46.2 36.0 L46.2 37.3 L47.0 37.3 L47.0 38.6 L46.8 38.6 L46.8 39.9 L46.3 39.9 L46.3 41.2 L46.4 41.2 L46.4 42.5 L46.6 42.5 L46.6 43.8 L46.2 43.8 L46.2 45.1 L46.1 45.1 L46.1 46.4 L45.5 46.4 L45.5 47.7 L46.5 47.7 L46.5 49.0 L46.0 49.0 L46.0 50.3 L46.2 50.3 L46.2 51.6 L46.4 51.6 L46.4 52.9 L46.2 52.9 L46.2 54.2 L46.9 54.2 L46.9 55.5 L46.3 55.5 L46.3 56.8 L47.3 56.8 L47.3 58.1 L47.2 58.1 L47.2 59.4 L45.7 59.4 L45.7 60.7 L47.1 60.7 L47.1 62.0 L46.6 62.0 L46.6 63.3 L46.7 63.3 L46.7 64.6 L46.9 64.6 L46.9 65.9 L46.6 65.9 L46.6 67.2 L47.1 67.2 L47.1 68.5 L46.0 68.5 L46.0 69.8 L46.7 69.8 L46.7 71.1 L46.7 71.1 L46.7 72.4 L46.4 72.4 L46.4 73.7 L46.0 73.7 L46.0 75.0 L46.2 75.0 L46.2 76.3 L46.4 76.3 L46.4 77.6 L46.7 77.6 L46.7 78.9 L46.0 78.9 L46.0 80.2 L46.1 80.2 L46.1 81.5 L45.5 81.5 L45.5 82.8 L46.2 82.8 L46.2 84.1 L46.5 84.1 L46.5 85.4 L46.3 85.4 L46.3 86.7 L46.4 86.7 L46.4 88.0 L46.2 88.0 L46.2 89.3 L46.1 89.3 L46.1 90.6 L46.4 90.6 L46.4 91.9 L47.4 91.9 L47.4 93.2 L46.4 93.2 L46.4 94.5 L46.3 94.5 L46.3 95.8 L46.1 95.8 L46.1 97.1 L46.2 97.1 L46.2 98.4 L47.2 98.4 L47.2 99.7 L45.8 99.7 L45.8 101.0 L45.9 101.0 L45.9 102.3 L47.1 102.3 L47.1 103.6 L46.3 103.6 L46.3 104.9 L46.5 104.9 L46.5 106.2 L46.5 106.2 L46.5 107.5 L46.7 107.5 L46.7 108.8 L46.4 108.8 L46.4 110.1 L46.4 110.1 L46.4 111.4 L46.6 111.4 L46.6 112.7 L46.4 112.7 L46.4 114.0 L46.2 114.0 L46.2 115.3 L45.8 115.3 L45.8 116.6 L45.9 116.6 L45.9 117.9 L45.8 117.9 L45.8 119.2 L46.0 119.2 L46.0 120.5 L46.0 120.5 L46.0 121.8 L45.7 121.8 L45.7 123.1 L45.8 123.1 L45.8 124.4 L45.5 124.4 L45.5 125.7 L46.1 125.7 L46.1 127.0 L45.6 127.0 L45.6 128.3 L45.7 128.3 L45.7 129.6 L47.4 129.6 L47.4 130.9 L47.1 130.9 L47.1 132.2 L46.7 132.2 L46.7 133.5 L46.5 133.5 L46.5 134.8 L46.0 134.8 L46.0 136.1 L47.6 136.1 L47.6 137.4 L46.8 137.4 L46.8 138.7 L46.7 138.7 L46.7 140.0 L47.0 140.0 L47.0 141.3 L47.7 141.3 L47.7 142.6 L46.5 142.6 L46.5 143.9 L46.5 143.9 L46.5 145.2 L46.6 145.2 L46.6 146.5 L45.8 146.5 L45.8 147.8 L46.4 147.8 L46.4 149.1 L46.5 149.1 L46.5 150.4 L46.8 150.4 L46.8 151.7 L46.8 151.7 L46.8 153.0 L46.4 153.0 L46.4 154.3 L46.6 154.3 L46.6 155.6 L46.8 155.6 L46.8 156.9 L46.4 156.9 L46.4 158.2 L45.6 158.2 L45.6 159.5 L45.8 159.5 L45.8 160.8 L46.2 160.8 L46.2 162.1 L46.0 162.1 L46.0 163.4 L46.0 163.4 L46.0 164.7 L47.2 164.7 L47.2 166.0 L46.4 166.0 L46.4 167.3 L46.9 167.3 L46.9 168.6 L46.8 168.6 L46.8 169.9 L46.6 169.9 L46.6 171.2 L46.4 171.2 L46.4 172.5 L47.0 172.5 L47.0 173.8 L46.8 173.8 L46.8 175.1 L47.0 175.1 L47.0 176.4 L46.8 176.4 L46.8 177.7 L45.9 177.7 L45.9 179.0 L45.8 179.0 L45.8 180.3 L46.8 180.3 L46.8 181.6 L46.2 181.6 L46.2 182.9 L46.4 182.9 L46.4 184.2 L46.7 184.2 L46.7 185.5 L46.1 185.5 L46.1 186.8 L46.2 186.8 L46.2 188.1 L47.6 188.1 L47.6 189.4 L45.7 189.4 L45.7 190.7 L46.4 190.7 L46.4 192.0 L46.6 192.0 L46.6 193.3 L46.2 193.3 L46.2 194.6 L46.6 194.6 L46.6 195.9 L46.9 195.9 L46.9 197.2 L46.5 197.2 L46.5 198.5 L46.3 198.5 L46.3 199.8 L45.8 199.8 L45.8 201.1 L45.8 201.1 L45.8 202.4 L47.0 202.4 L47.0 203.7 L46.8 203.7 L46.8 205.0 L46.3 205.0 L46.3 206.3 L46.3 206.3 L46.3 207.6 L46.5 207.6 L46.5 208.9 L47.5 208.9 L47.5 210.2 L47.1 210.2 L47.1 211.5 L46.4 211.5 L46.4 212.8 L46.7 212.8 L46.7 214.1 L46.8 214.1 L46.8 215.4 L46.9 215.4 L46.9 216.7 L46.3 216.7 L46.3 218.0 L45.4 218.0 L45.4 219.3 L46.1 219.3 L46.1 220.6 L46.7 220.6 L46.7 221.9 L46.3 221.9 L46.3 223.2 L46.0 223.2 L46.0 224.5 L46.1 224.5 L46.1 225.8 L46.6 225.8 L46.6 227.1 L46.3 227.1 L46.3 228.4 L47.1 228.4 L47.1 229.7 L46.9 229.7 L46.9 231.0 L47.0 231.0 L47.0 232.3 L47.6 232.3 L47.6 233.6 L47.1 233.6 L47.1 234.9 L46.8 234.9 L46.8 236.2 L46.2 236.2 L46.2 237.5 L46.7 237.5 L46.7 238.8 L46.3 238.8 L46.3 239.6 L46.7 239.6 L42.0 239.6 Z" fill="#00a983"/>
<path d="M42.0 26.9 L45.5 26.9 L45.5 28.2 L45.8 28.2 L45.8 29.5 L45.4 29.5 L45.4 30.8 L45.7 30.8 L45.7 32.1 L46.1 32.1 L46.1 33.4 L46.3 33.4 L46.3 34.7 L45.1 34.7 L45.1 36.0 L45.7 36.0 L45.7 37.3 L46.5 37.3 L46.5 38.6 L46.3 38.6 L46.3 39.9 L45.8 39.9 L45.8 41.2 L45.9 41.2 L45.9 42.5 L46.1 42.5 L46.1 43.8 L45.7 43.8 L45.7 45.1 L45.6 45.1 L45.6 46.4 L45.0 46.4 L45.0 47.7 L46.0 47.7 L46.0 49.0 L45.5 49.0 L45.5 50.3 L45.7 50.3 L45.7 51.6 L45.9 51.6 L45.9 52.9 L45.7 52.9 L45.7 54.2 L46.4 54.2 L46.4 55.5 L45.8 55.5 L45.8 56.8 L46.8 56.8 L46.8 58.1 L46.7 58.1 L46.7 59.4 L45.2 59.4 L45.2 60.7 L46.6 60.7 L46.6 62.0 L46.1 62.0 L46.1 63.3 L46.2 63.3 L46.2 64.6 L46.4 64.6 L46.4 65.9 L46.1 65.9 L46.1 67.2 L46.6 67.2 L46.6 68.5 L45.5 68.5 L45.5 69.8 L46.2 69.8 L46.2 71.1 L46.2 71.1 L46.2 72.4 L45.9 72.4 L45.9 73.7 L45.5 73.7 L45.5 75.0 L45.7 75.0 L45.7 76.3 L45.9 76.3 L45.9 77.6 L46.2 77.6 L46.2 78.9 L45.5 78.9 L45.5 80.2 L45.6 80.2 L45.6 81.5 L45.0 81.5 L45.0 82.8 L45.7 82.8 L45.7 84.1 L46.0 84.1 L46.0 85.4 L45.8 85.4 L45.8 86.7 L45.9 86.7 L45.9 88.0 L45.7 88.0 L45.7 89.3 L45.6 89.3 L45.6 90.6 L45.9 90.6 L45.9 91.9 L46.9 91.9 L46.9 93.2 L45.9 93.2 L45.9 94.5 L45.8 94.5 L45.8 95.8 L45.6 95.8 L45.6 97.1 L45.7 97.1 L45.7 98.4 L46.7 98.4 L46.7 99.7 L45.3 99.7 L45.3 101.0 L45.4 101.0 L45.4 102.3 L46.6 102.3 L46.6 103.6 L45.8 103.6 L45.8 104.9 L46.0 104.9 L46.0 106.2 L46.0 106.2 L46.0 107.5 L46.2 107.5 L46.2 108.8 L45.9 108.8 L45.9 110.1 L45.9 110.1 L45.9 111.4 L46.1 111.4 L46.1 112.7 L45.9 112.7 L45.9 114.0 L45.7 114.0 L45.7 115.3 L45.3 115.3 L45.3 116.6 L45.4 116.6 L45.4 117.9 L45.3 117.9 L45.3 119.2 L45.5 119.2 L45.5 120.5 L45.5 120.5 L45.5 121.8 L45.2 121.8 L45.2 123.1 L45.3 123.1 L45.3 124.4 L45.0 124.4 L45.0 125.7 L45.6 125.7 L45.6 127.0 L45.1 127.0 L45.1 128.3 L45.2 128.3 L45.2 129.6 L46.9 129.6 L46.9 130.9 L46.6 130.9 L46.6 132.2 L46.2 132.2 L46.2 133.5 L46.0 133.5 L46.0 134.8 L45.5 134.8 L45.5 136.1 L47.1 136.1 L47.1 137.4 L46.3 137.4 L46.3 138.7 L46.2 138.7 L46.2 140.0 L46.5 140.0 L46.5 141.3 L47.2 141.3 L47.2 142.6 L46.0 142.6 L46.0 143.9 L46.0 143.9 L46.0 145.2 L46.1 145.2 L46.1 146.5 L45.3 146.5 L45.3 147.8 L45.9 147.8 L45.9 149.1 L46.0 149.1 L46.0 150.4 L46.3 150.4 L46.3 151.7 L46.3 151.7 L46.3 153.0 L45.9 153.0 L45.9 154.3 L46.1 154.3 L46.1 155.6 L46.3 155.6 L46.3 156.9 L45.9 156.9 L45.9 158.2 L45.1 158.2 L45.1 159.5 L45.3 159.5 L45.3 160.8 L45.7 160.8 L45.7 162.1 L45.5 162.1 L45.5 163.4 L45.5 163.4 L45.5 164.7 L46.7 164.7 L46.7 166.0 L45.9 166.0 L45.9 167.3 L46.4 167.3 L46.4 168.6 L46.3 168.6 L46.3 169.9 L46.1 169.9 L46.1 171.2 L45.9 171.2 L45.9 172.5 L46.5 172.5 L46.5 173.8 L46.3 173.8 L46.3 175.1 L46.5 175.1 L46.5 176.4 L46.3 176.4 L46.3 177.7 L45.4 177.7 L45.4 179.0 L45.3 179.0 L45.3 180.3 L46.3 180.3 L46.3 181.6 L45.7 181.6 L45.7 182.9 L45.9 182.9 L45.9 184.2 L46.2 184.2 L46.2 185.5 L45.6 185.5 L45.6 186.8 L45.7 186.8 L45.7 188.1 L47.1 188.1 L47.1 189.4 L45.2 189.4 L45.2 190.7 L45.9 190.7 L45.9 192.0 L46.1 192.0 L46.1 193.3 L45.7 193.3 L45.7 194.6 L46.1 194.6 L46.1 195.9 L46.4 195.9 L46.4 197.2 L46.0 197.2 L46.0 198.5 L45.8 198.5 L45.8 199.8 L45.3 199.8 L45.3 201.1 L45.3 201.1 L45.3 202.4 L46.5 202.4 L46.5 203.7 L46.3 203.7 L46.3 205.0 L45.8 205.0 L45.8 206.3 L45.8 206.3 L45.8 207.6 L46.0 207.6 L46.0 208.9 L47.0 208.9 L47.0 210.2 L46.6 210.2 L46.6 211.5 L45.9 211.5 L45.9 212.8 L46.2 212.8 L46.2 214.1 L46.3 214.1 L46.3 215.4 L46.4 215.4 L46.4 216.7 L45.8 216.7 L45.8 218.0 L44.9 218.0 L44.9 219.3 L45.6 219.3 L45.6 220.6 L46.2 220.6 L46.2 221.9 L45.8 221.9 L45.8 223.2 L45.5 223.2 L45.5 224.5 L45.6 224.5 L45.6 225.8 L46.1 225.8 L46.1 227.1 L45.8 227.1 L45.8 228.4 L46.6 228.4 L46.6 229.7 L46.4 229.7 L46.4 231.0 L46.5 231.0 L46.5 232.3 L47.1 232.3 L47.1 233.6 L46.6 233.6 L46.6 234.9 L46.3 234.9 L46.3 236.2 L45.7 236.2 L45.7 237.5 L46.2 237.5 L46.2 238.8 L45.8 238.8 L45.8 239.6 L46.2 239.6 L42.0 239.6 Z" fill="#00c465"/>
<path d="M42.0 26.9 L44.9 26.9 L44.9 28.2 L45.2 28.2 L45.2 29.5 L44.8 29.5 L44.8 30.8 L45.1 30.8 L45.1 32.1 L45.5 32.1 L45.5 33.4 L45.7 33.4 L45.7 34.7 L44.5 34.7 L44.5 36.0 L45.1 36.0 L45.1 37.3 L45.9 37.3 L45.9 38.6 L45.7 38.6 L45.7 39.9 L45.2 39.9 L45.2 41.2 L45.3 41.2 L45.3 42.5 L45.5 42.5 L45.5 43.8 L45.1 43.8 L45.1 45.1 L45.0 45.1 L45.0 46.4 L44.4 46.4 L44.4 47.7 L45.4 47.7 L45.4 49.0 L44.9 49.0 L44.9 50.3 L45.1 50.3 L45.1 51.6 L45.3 51.6 L45.3 52.9 L45.1 52.9 L45.1 54.2 L45.8 54.2 L45.8 55.5 L45.2 55.5 L45.2 56.8 L46.2 56.8 L46.2 58.1 L46.1 58.1 L46.1 59.4 L44.6 59.4 L44.6 60.7 L46.0 60.7 L46.0 62.0 L45.5 62.0 L45.5 63.3 L45.6 63.3 L45.6 64.6 L45.8 64.6 L45.8 65.9 L45.5 65.9 L45.5 67.2 L46.0 67.2 L46.0 68.5 L44.9 68.5 L44.9 69.8 L45.6 69.8 L45.6 71.1 L45.6 71.1 L45.6 72.4 L45.3 72.4 L45.3 73.7 L44.9 73.7 L44.9 75.0 L45.1 75.0 L45.1 76.3 L45.3 76.3 L45.3 77.6 L45.6 77.6 L45.6 78.9 L44.9 78.9 L44.9 80.2 L45.0 80.2 L45.0 81.5 L44.4 81.5 L44.4 82.8 L45.1 82.8 L45.1 84.1 L45.4 84.1 L45.4 85.4 L45.2 85.4 L45.2 86.7 L45.3 86.7 L45.3 88.0 L45.1 88.0 L45.1 89.3 L45.0 89.3 L45.0 90.6 L45.3 90.6 L45.3 91.9 L46.3 91.9 L46.3 93.2 L45.3 93.2 L45.3 94.5 L45.2 94.5 L45.2 95.8 L45.0 95.8 L45.0 97.1 L45.1 97.1 L45.1 98.4 L46.1 98.4 L46.1 99.7 L44.7 99.7 L44.7 101.0 L44.8 101.0 L44.8 102.3 L46.0 102.3 L46.0 103.6 L45.2 103.6 L45.2 104.9 L45.4 104.9 L45.4 106.2 L45.4 106.2 L45.4 107.5 L45.6 107.5 L45.6 108.8 L45.3 108.8 L45.3 110.1 L45.3 110.1 L45.3 111.4 L45.5 111.4 L45.5 112.7 L45.3 112.7 L45.3 114.0 L45.1 114.0 L45.1 115.3 L44.7 115.3 L44.7 116.6 L44.8 116.6 L44.8 117.9 L44.7 117.9 L44.7 119.2 L44.9 119.2 L44.9 120.5 L44.9 120.5 L44.9 121.8 L44.6 121.8 L44.6 123.1 L44.7 123.1 L44.7 124.4 L44.4 124.4 L44.4 125.7 L45.0 125.7 L45.0 127.0 L44.5 127.0 L44.5 128.3 L44.6 128.3 L44.6 129.6 L46.3 129.6 L46.3 130.9 L46.0 130.9 L46.0 132.2 L45.6 132.2 L45.6 133.5 L45.4 133.5 L45.4 134.8 L44.9 134.8 L44.9 136.1 L46.5 136.1 L46.5 137.4 L45.7 137.4 L45.7 138.7 L45.6 138.7 L45.6 140.0 L45.9 140.0 L45.9 141.3 L46.6 141.3 L46.6 142.6 L45.4 142.6 L45.4 143.9 L45.4 143.9 L45.4 145.2 L45.5 145.2 L45.5 146.5 L44.7 146.5 L44.7 147.8 L45.3 147.8 L45.3 149.1 L45.4 149.1 L45.4 150.4 L45.7 150.4 L45.7 151.7 L45.7 151.7 L45.7 153.0 L45.3 153.0 L45.3 154.3 L45.5 154.3 L45.5 155.6 L45.7 155.6 L45.7 156.9 L45.3 156.9 L45.3 158.2 L44.5 158.2 L44.5 159.5 L44.7 159.5 L44.7 160.8 L45.1 160.8 L45.1 162.1 L44.9 162.1 L44.9 163.4 L44.9 163.4 L44.9 164.7 L46.1 164.7 L46.1 166.0 L45.3 166.0 L45.3 167.3 L45.8 167.3 L45.8 168.6 L45.7 168.6 L45.7 169.9 L45.5 169.9 L45.5 171.2 L45.3 171.2 L45.3 172.5 L45.9 172.5 L45.9 173.8 L45.7 173.8 L45.7 175.1 L45.9 175.1 L45.9 176.4 L45.7 176.4 L45.7 177.7 L44.8 177.7 L44.8 179.0 L44.7 179.0 L44.7 180.3 L45.7 180.3 L45.7 181.6 L45.1 181.6 L45.1 182.9 L45.3 182.9 L45.3 184.2 L45.6 184.2 L45.6 185.5 L45.0 185.5 L45.0 186.8 L45.1 186.8 L45.1 188.1 L46.5 188.1 L46.5 189.4 L44.6 189.4 L44.6 190.7 L45.3 190.7 L45.3 192.0 L45.5 192.0 L45.5 193.3 L45.1 193.3 L45.1 194.6 L45.5 194.6 L45.5 195.9 L45.8 195.9 L45.8 197.2 L45.4 197.2 L45.4 198.5 L45.2 198.5 L45.2 199.8 L44.7 199.8 L44.7 201.1 L44.7 201.1 L44.7 202.4 L45.9 202.4 L45.9 203.7 L45.7 203.7 L45.7 205.0 L45.2 205.0 L45.2 206.3 L45.2 206.3 L45.2 207.6 L45.4 207.6 L45.4 208.9 L46.4 208.9 L46.4 210.2 L46.0 210.2 L46.0 211.5 L45.3 211.5 L45.3 212.8 L45.6 212.8 L45.6 214.1 L45.7 214.1 L45.7 215.4 L45.8 215.4 L45.8 216.7 L45.2 216.7 L45.2 218.0 L44.3 218.0 L44.3 219.3 L45.0 219.3 L45.0 220.6 L45.6 220.6 L45.6 221.9 L45.2 221.9 L45.2 223.2 L44.9 223.2 L44.9 224.5 L45.0 224.5 L45.0 225.8 L45.5 225.8 L45.5 227.1 L45.2 227.1 L45.2 228.4 L46.0 228.4 L46.0 229.7 L45.8 229.7 L45.8 231.0 L45.9 231.0 L45.9 232.3 L46.5 232.3 L46.5 233.6 L46.0 233.6 L46.0 234.9 L45.7 234.9 L45.7 236.2 L45.1 236.2 L45.1 237.5 L45.6 237.5 L45.6 238.8 L45.2 238.8 L45.2 239.6 L45.6 239.6 L42.0 239.6 Z" fill="#9bde00"/>
<path d="M42.0 26.9 L44.3 26.9 L44.3 28.2 L44.6 28.2 L44.6 29.5 L44.2 29.5 L44.2 30.8 L44.5 30.8 L44.5 32.1 L44.9 32.1 L44.9 33.4 L45.1 33.4 L45.1 34.7 L43.9 34.7 L43.9 36.0 L44.5 36.0 L44.5 37.3 L45.3 37.3 L45.3 38.6 L45.1 38.6 L45.1 39.9 L44.6 39.9 L44.6 41.2 L44.7 41.2 L44.7 42.5 L44.9 42.5 L44.9 43.8 L44.5 43.8 L44.5 45.1 L44.4 45.1 L44.4 46.4 L43.8 46.4 L43.8 47.7 L44.8 47.7 L44.8 49.0 L44.3 49.0 L44.3 50.3 L44.5 50.3 L44.5 51.6 L44.7 51.6 L44.7 52.9 L44.5 52.9 L44.5 54.2 L45.2 54.2 L45.2 55.5 L44.6 55.5 L44.6 56.8 L45.6 56.8 L45.6 58.1 L45.5 58.1 L45.5 59.4 L44.0 59.4 L44.0 60.7 L45.4 60.7 L45.4 62.0 L44.9 62.0 L44.9 63.3 L45.0 63.3 L45.0 64.6 L45.2 64.6 L45.2 65.9 L44.9 65.9 L44.9 67.2 L45.4 67.2 L45.4 68.5 L44.3 68.5 L44.3 69.8 L45.0 69.8 L45.0 71.1 L45.0 71.1 L45.0 72.4 L44.7 72.4 L44.7 73.7 L44.3 73.7 L44.3 75.0 L44.5 75.0 L44.5 76.3 L44.7 76.3 L44.7 77.6 L45.0 77.6 L45.0 78.9 L44.3 78.9 L44.3 80.2 L44.4 80.2 L44.4 81.5 L43.8 81.5 L43.8 82.8 L44.5 82.8 L44.5 84.1 L44.8 84.1 L44.8 85.4 L44.6 85.4 L44.6 86.7 L44.7 86.7 L44.7 88.0 L44.5 88.0 L44.5 89.3 L44.4 89.3 L44.4 90.6 L44.7 90.6 L44.7 91.9 L45.7 91.9 L45.7 93.2 L44.7 93.2 L44.7 94.5 L44.6 94.5 L44.6 95.8 L44.4 95.8 L44.4 97.1 L44.5 97.1 L44.5 98.4 L45.5 98.4 L45.5 99.7 L44.1 99.7 L44.1 101.0 L44.2 101.0 L44.2 102.3 L45.4 102.3 L45.4 103.6 L44.6 103.6 L44.6 104.9 L44.8 104.9 L44.8 106.2 L44.8 106.2 L44.8 107.5 L45.0 107.5 L45.0 108.8 L44.7 108.8 L44.7 110.1 L44.7 110.1 L44.7 111.4 L44.9 111.4 L44.9 112.7 L44.7 112.7 L44.7 114.0 L44.5 114.0 L44.5 115.3 L44.1 115.3 L44.1 116.6 L44.2 116.6 L44.2 117.9 L44.1 117.9 L44.1 119.2 L44.3 119.2 L44.3 120.5 L44.3 120.5 L44.3 121.8 L44.0 121.8 L44.0 123.1 L44.1 123.1 L44.1 124.4 L43.8 124.4 L43.8 125.7 L44.4 125.7 L44.4 127.0 L43.9 127.0 L43.9 128.3 L44.0 128.3 L44.0 129.6 L45.7 129.6 L45.7 130.9 L45.4 130.9 L45.4 132.2 L45.0 132.2 L45.0 133.5 L44.8 133.5 L44.8 134.8 L44.3 134.8 L44.3 136.1 L45.9 136.1 L45.9 137.4 L45.1 137.4 L45.1 138.7 L45.0 138.7 L45.0 140.0 L45.3 140.0 L45.3 141.3 L46.0 141.3 L46.0 142.6 L44.8 142.6 L44.8 143.9 L44.8 143.9 L44.8 145.2 L44.9 145.2 L44.9 146.5 L44.1 146.5 L44.1 147.8 L44.7 147.8 L44.7 149.1 L44.8 149.1 L44.8 150.4 L45.1 150.4 L45.1 151.7 L45.1 151.7 L45.1 153.0 L44.7 153.0 L44.7 154.3 L44.9 154.3 L44.9 155.6 L45.1 155.6 L45.1 156.9 L44.7 156.9 L44.7 158.2 L43.9 158.2 L43.9 159.5 L44.1 159.5 L44.1 160.8 L44.5 160.8 L44.5 162.1 L44.3 162.1 L44.3 163.4 L44.3 163.4 L44.3 164.7 L45.5 164.7 L45.5 166.0 L44.7 166.0 L44.7 167.3 L45.2 167.3 L45.2 168.6 L45.1 168.6 L45.1 169.9 L44.9 169.9 L44.9 171.2 L44.7 171.2 L44.7 172.5 L45.3 172.5 L45.3 173.8 L45.1 173.8 L45.1 175.1 L45.3 175.1 L45.3 176.4 L45.1 176.4 L45.1 177.7 L44.2 177.7 L44.2 179.0 L44.1 179.0 L44.1 180.3 L45.1 180.3 L45.1 181.6 L44.5 181.6 L44.5 182.9 L44.7 182.9 L44.7 184.2 L45.0 184.2 L45.0 185.5 L44.4 185.5 L44.4 186.8 L44.5 186.8 L44.5 188.1 L45.9 188.1 L45.9 189.4 L44.0 189.4 L44.0 190.7 L44.7 190.7 L44.7 192.0 L44.9 192.0 L44.9 193.3 L44.5 193.3 L44.5 194.6 L44.9 194.6 L44.9 195.9 L45.2 195.9 L45.2 197.2 L44.8 197.2 L44.8 198.5 L44.6 198.5 L44.6 199.8 L44.1 199.8 L44.1 201.1 L44.1 201.1 L44.1 202.4 L45.3 202.4 L45.3 203.7 L45.1 203.7 L45.1 205.0 L44.6 205.0 L44.6 206.3 L44.6 206.3 L44.6 207.6 L44.8 207.6 L44.8 208.9 L45.8 208.9 L45.8 210.2 L45.4 210.2 L45.4 211.5 L44.7 211.5 L44.7 212.8 L45.0 212.8 L45.0 214.1 L45.1 214.1 L45.1 215.4 L45.2 215.4 L45.2 216.7 L44.6 216.7 L44.6 218.0 L43.7 218.0 L43.7 219.3 L44.4 219.3 L44.4 220.6 L45.0 220.6 L45.0 221.9 L44.6 221.9 L44.6 223.2 L44.3 223.2 L44.3 224.5 L44.4 224.5 L44.4 225.8 L44.9 225.8 L44.9 227.1 L44.6 227.1 L44.6 228.4 L45.4 228.4 L45.4 229.7 L45.2 229.7 L45.2 231.0 L45.3 231.0 L45.3 232.3 L45.9 232.3 L45.9 233.6 L45.4 233.6 L45.4 234.9 L45.1 234.9 L45.1 236.2 L44.5 236.2 L44.5 237.5 L45.0 237.5 L45.0 238.8 L44.6 238.8 L44.6 239.6 L45.0 239.6 L42.0 239.6 Z" fill="#ffe800"/>
</g>
<rect x="27" y="26.9" width="262" height="212.7" fill="none" stroke="#000" stroke-opacity=".4" stroke-width=".4"/>
<line x1="25.3" y1="239.3" x2="27" y2="239.3" class="tk"/>
<text x="24.7" y="241.5" class="tl" text-anchor="end">0</text>
<line x1="25.3" y1="204.0" x2="27" y2="204.0" class="tk"/>
<text x="24.7" y="206.2" class="tl" text-anchor="end">10</text>
<line x1="25.3" y1="168.7" x2="27" y2="168.7" class="tk"/>
<text x="24.7" y="170.9" class="tl" text-anchor="end">20</text>
<line x1="25.3" y1="133.4" x2="27" y2="133.4" class="tk"/>
<text x="24.7" y="135.6" class="tl" text-anchor="end">30</text>
<line x1="25.3" y1="98.1" x2="27" y2="98.1" class="tk"/>
<text x="24.7" y="100.3" class="tl" text-anchor="end">40</text>
<line x1="25.3" y1="62.8" x2="27" y2="62.8" class="tk"/>
<text x="24.7" y="65.0" class="tl" text-anchor="end">50</text>
<line x1="28.3" y1="239.6" x2="28.3" y2="241.4" class="tk"/>
<text x="28.3" y="248.4" class="tl" text-anchor="middle">0</text>
<line x1="80.7" y1="239.6" x2="80.7" y2="241.4" class="tk"/>
<text x="80.7" y="248.4" class="tl" text-anchor="middle">10</text>
<line x1="133.1" y1="239.6" x2="133.1" y2="241.4" class="tk"/>
<text x="133.1" y="248.4" class="tl" text-anchor="middle">20</text>
<line x1="185.5" y1="239.6" x2="185.5" y2="241.4" class="tk"/>
<text x="185.5" y="248.4" class="tl" text-anchor="middle">30</text>
<line x1="237.9" y1="239.6" x2="237.9" y2="241.4" class="tk"/>
<text x="237.9" y="248.4" class="tl" text-anchor="middle">40</text>
<text x="158.5" y="256.9" class="al" text-anchor="middle">Frequency [Hz]</text>
<text transform="translate(12.3 132.9) rotate(-90)" class="al" style="font-size:7.3px" text-anchor="middle">Time [sec]</text>
<text x="158" y="24.3" class="ti" text-anchor="middle">Range FFT</text>
<rect x="305.4" y="26.9" width="10.6" height="212.7" fill="url(#cb)"/>
<rect x="305.4" y="26.9" width="10.6" height="212.7" fill="none" stroke="#000" stroke-opacity=".45" stroke-width=".4"/>
<line x1="316.0" y1="239.6" x2="317.7" y2="239.6" class="tk"/>
<text x="319.5" y="241.7" class="cl">0.00</text>
<line x1="316.0" y1="213.0" x2="317.7" y2="213.0" class="tk"/>
<text x="319.5" y="215.1" class="cl">0.25</text>
<line x1="316.0" y1="186.4" x2="317.7" y2="186.4" class="tk"/>
<text x="319.5" y="188.5" class="cl">0.50</text>
<line x1="316.0" y1="159.8" x2="317.7" y2="159.8" class="tk"/>
<text x="319.5" y="161.9" class="cl">0.75</text>
<line x1="316.0" y1="133.2" x2="317.7" y2="133.2" class="tk"/>
<text x="319.5" y="135.3" class="cl">1.00</text>
<line x1="316.0" y1="106.7" x2="317.7" y2="106.7" class="tk"/>
<text x="319.5" y="108.8" class="cl">1.25</text>
<line x1="316.0" y1="80.1" x2="317.7" y2="80.1" class="tk"/>
<text x="319.5" y="82.2" class="cl">1.50</text>
<line x1="316.0" y1="53.5" x2="317.7" y2="53.5" class="tk"/>
<text x="319.5" y="55.6" class="cl">1.75</text>
<line x1="316.0" y1="26.9" x2="317.7" y2="26.9" class="tk"/>
<text x="319.5" y="29.0" class="cl">2.00</text>
<path d="M25.7 240.7 L25.7 26.0 Q25.7 23.5 28.2 23.5 L31.5 23.5 Q34.0 23.5 34.0 26.0 L34.0 240.7 Q34.0 243.2 31.5 243.2 L28.2 243.2 Q25.7 243.2 25.7 240.7 Z" fill="none" stroke="#1e9bf0" stroke-width="1.4" stroke-dasharray="2.5 1.75"/>
<path d="M38.0 240.9 L38.0 26.0 Q38.0 23.5 40.5 23.5 L48.8 23.5 Q51.3 23.5 51.3 26.0 L51.3 240.9 Q51.3 243.4 48.8 243.4 L40.5 243.4 Q38.0 243.4 38.0 240.9 Z" fill="none" stroke="#f0284a" stroke-width="1.4" stroke-dasharray="2.5 1.75"/>
<path d="M110.4 240.2 L110.4 26.4 Q110.4 23.4 113.4 23.4 L126.9 23.4 Q129.9 23.4 129.9 26.4 L129.9 240.2 Q129.9 243.2 126.9 243.2 L113.4 243.2 Q110.4 243.2 110.4 240.2 Z" fill="none" stroke="#f59a1c" stroke-width="1.4" stroke-dasharray="2.5 1.75"/>
<text x="21.4" y="9.6" class="an" text-anchor="middle">Direct</text>
<text x="21.4" y="17.6" class="an" text-anchor="middle">Current</text>
<text x="50.1" y="9.6" class="an" text-anchor="middle">Body</text>
<text x="50.1" y="17.6" class="an" text-anchor="middle">Position</text>
<text x="120.4" y="10.1" class="an" text-anchor="middle">Object</text>
<text x="120.4" y="18.2" class="an" text-anchor="middle">Noise</text>
<text x="167.5" y="272.4" class="cap" text-anchor="middle">(a)</text>
<rect x="27" y="298.9" width="263.3" height="212.7" fill="url(#gb)"/>
<g filter="url(#bl)">
<path d="M41.0 298.9 L50.1 298.9 L50.1 300.2 L50.2 300.2 L50.2 301.5 L49.3 301.5 L49.3 302.8 L49.6 302.8 L49.6 304.1 L49.5 304.1 L49.5 305.4 L50.0 305.4 L50.0 306.7 L49.5 306.7 L49.5 308.0 L49.3 308.0 L49.3 309.3 L49.4 309.3 L49.4 310.6 L49.6 310.6 L49.6 311.9 L49.2 311.9 L49.2 313.2 L49.3 313.2 L49.3 314.5 L49.2 314.5 L49.2 315.8 L49.7 315.8 L49.7 317.1 L49.8 317.1 L49.8 318.4 L49.8 318.4 L49.8 319.7 L49.4 319.7 L49.4 321.0 L49.6 321.0 L49.6 322.3 L49.4 322.3 L49.4 323.6 L50.3 323.6 L50.3 324.9 L49.9 324.9 L49.9 326.2 L49.8 326.2 L49.8 327.5 L49.6 327.5 L49.6 328.8 L49.8 328.8 L49.8 330.1 L49.7 330.1 L49.7 331.4 L50.1 331.4 L50.1 332.7 L49.4 332.7 L49.4 334.0 L49.1 334.0 L49.1 335.3 L49.5 335.3 L49.5 336.6 L49.3 336.6 L49.3 337.9 L49.5 337.9 L49.5 339.2 L49.6 339.2 L49.6 340.5 L49.8 340.5 L49.8 341.8 L49.4 341.8 L49.4 343.1 L49.3 343.1 L49.3 344.4 L50.0 344.4 L50.0 345.7 L50.0 345.7 L50.0 347.0 L49.6 347.0 L49.6 348.3 L49.8 348.3 L49.8 349.6 L49.8 349.6 L49.8 350.9 L49.3 350.9 L49.3 352.2 L49.3 352.2 L49.3 353.5 L49.7 353.5 L49.7 354.8 L49.5 354.8 L49.5 356.1 L49.7 356.1 L49.7 357.4 L49.2 357.4 L49.2 358.7 L49.3 358.7 L49.3 360.0 L49.1 360.0 L49.1 361.3 L49.3 361.3 L49.3 362.6 L49.7 362.6 L49.7 363.9 L49.9 363.9 L49.9 365.2 L49.3 365.2 L49.3 366.5 L49.1 366.5 L49.1 367.8 L49.0 367.8 L49.0 369.1 L49.2 369.1 L49.2 370.4 L49.3 370.4 L49.3 371.7 L49.2 371.7 L49.2 373.0 L50.0 373.0 L50.0 374.3 L49.6 374.3 L49.6 375.6 L49.5 375.6 L49.5 376.9 L49.5 376.9 L49.5 378.2 L49.4 378.2 L49.4 379.5 L49.8 379.5 L49.8 380.8 L49.9 380.8 L49.9 382.1 L49.4 382.1 L49.4 383.4 L49.5 383.4 L49.5 384.7 L49.6 384.7 L49.6 386.0 L49.5 386.0 L49.5 387.3 L49.2 387.3 L49.2 388.6 L49.4 388.6 L49.4 389.9 L49.5 389.9 L49.5 391.2 L49.7 391.2 L49.7 392.5 L49.9 392.5 L49.9 393.8 L49.7 393.8 L49.7 395.1 L49.7 395.1 L49.7 396.4 L49.4 396.4 L49.4 397.7 L49.5 397.7 L49.5 399.0 L49.7 399.0 L49.7 400.3 L50.4 400.3 L50.4 401.6 L50.1 401.6 L50.1 402.9 L49.1 402.9 L49.1 404.2 L49.5 404.2 L49.5 405.5 L49.6 405.5 L49.6 406.8 L50.9 406.8 L50.9 408.1 L49.9 408.1 L49.9 409.4 L49.9 409.4 L49.9 410.7 L50.1 410.7 L50.1 412.0 L50.0 412.0 L50.0 413.3 L49.8 413.3 L49.8 414.6 L49.8 414.6 L49.8 415.9 L50.0 415.9 L50.0 417.2 L50.3 417.2 L50.3 418.5 L50.2 418.5 L50.2 419.8 L49.9 419.8 L49.9 421.1 L49.4 421.1 L49.4 422.4 L49.6 422.4 L49.6 423.7 L49.7 423.7 L49.7 425.0 L49.4 425.0 L49.4 426.3 L49.6 426.3 L49.6 427.6 L49.7 427.6 L49.7 428.9 L49.5 428.9 L49.5 430.2 L49.6 430.2 L49.6 431.5 L49.8 431.5 L49.8 432.8 L49.5 432.8 L49.5 434.1 L49.5 434.1 L49.5 435.4 L49.1 435.4 L49.1 436.7 L50.5 436.7 L50.5 438.0 L49.7 438.0 L49.7 439.3 L49.7 439.3 L49.7 440.6 L49.6 440.6 L49.6 441.9 L49.6 441.9 L49.6 443.2 L49.3 443.2 L49.3 444.5 L49.7 444.5 L49.7 445.8 L49.7 445.8 L49.7 447.1 L49.4 447.1 L49.4 448.4 L49.4 448.4 L49.4 449.7 L49.4 449.7 L49.4 451.0 L49.3 451.0 L49.3 452.3 L48.9 452.3 L48.9 453.6 L49.0 453.6 L49.0 454.9 L49.1 454.9 L49.1 456.2 L49.2 456.2 L49.2 457.5 L49.5 457.5 L49.5 458.8 L49.6 458.8 L49.6 460.1 L50.1 460.1 L50.1 461.4 L49.4 461.4 L49.4 462.7 L49.5 462.7 L49.5 464.0 L49.2 464.0 L49.2 465.3 L49.4 465.3 L49.4 466.6 L49.4 466.6 L49.4 467.9 L50.0 467.9 L50.0 469.2 L49.5 469.2 L49.5 470.5 L49.4 470.5 L49.4 471.8 L49.4 471.8 L49.4 473.1 L49.3 473.1 L49.3 474.4 L49.3 474.4 L49.3 475.7 L49.6 475.7 L49.6 477.0 L49.6 477.0 L49.6 478.3 L49.2 478.3 L49.2 479.6 L49.2 479.6 L49.2 480.9 L49.5 480.9 L49.5 482.2 L49.3 482.2 L49.3 483.5 L49.3 483.5 L49.3 484.8 L49.7 484.8 L49.7 486.1 L49.4 486.1 L49.4 487.4 L49.9 487.4 L49.9 488.7 L49.4 488.7 L49.4 490.0 L49.3 490.0 L49.3 491.3 L49.2 491.3 L49.2 492.6 L49.8 492.6 L49.8 493.9 L49.8 493.9 L49.8 495.2 L50.8 495.2 L50.8 496.5 L50.5 496.5 L50.5 497.8 L49.9 497.8 L49.9 499.1 L49.7 499.1 L49.7 500.4 L49.7 500.4 L49.7 501.7 L49.4 501.7 L49.4 503.0 L49.4 503.0 L49.4 504.3 L49.8 504.3 L49.8 505.6 L50.0 505.6 L50.0 506.9 L49.3 506.9 L49.3 508.2 L49.4 508.2 L49.4 509.5 L49.7 509.5 L49.7 510.8 L49.7 510.8 L49.7 511.6 L49.7 511.6 L41.0 511.6 Z" fill="#520b67"/>
<path d="M41.0 298.9 L49.1 298.9 L49.1 300.2 L49.2 300.2 L49.2 301.5 L48.3 301.5 L48.3 302.8 L48.6 302.8 L48.6 304.1 L48.5 304.1 L48.5 305.4 L49.0 305.4 L49.0 306.7 L48.5 306.7 L48.5 308.0 L48.3 308.0 L48.3 309.3 L48.4 309.3 L48.4 310.6 L48.6 310.6 L48.6 311.9 L48.2 311.9 L48.2 313.2 L48.3 313.2 L48.3 314.5 L48.2 314.5 L48.2 315.8 L48.7 315.8 L48.7 317.1 L48.8 317.1 L48.8 318.4 L48.8 318.4 L48.8 319.7 L48.4 319.7 L48.4 321.0 L48.6 321.0 L48.6 322.3 L48.4 322.3 L48.4 323.6 L49.3 323.6 L49.3 324.9 L48.9 324.9 L48.9 326.2 L48.8 326.2 L48.8 327.5 L48.6 327.5 L48.6 328.8 L48.8 328.8 L48.8 330.1 L48.7 330.1 L48.7 331.4 L49.1 331.4 L49.1 332.7 L48.4 332.7 L48.4 334.0 L48.1 334.0 L48.1 335.3 L48.5 335.3 L48.5 336.6 L48.3 336.6 L48.3 337.9 L48.5 337.9 L48.5 339.2 L48.6 339.2 L48.6 340.5 L48.8 340.5 L48.8 341.8 L48.4 341.8 L48.4 343.1 L48.3 343.1 L48.3 344.4 L49.0 344.4 L49.0 345.7 L49.0 345.7 L49.0 347.0 L48.6 347.0 L48.6 348.3 L48.8 348.3 L48.8 349.6 L48.8 349.6 L48.8 350.9 L48.3 350.9 L48.3 352.2 L48.3 352.2 L48.3 353.5 L48.7 353.5 L48.7 354.8 L48.5 354.8 L48.5 356.1 L48.7 356.1 L48.7 357.4 L48.2 357.4 L48.2 358.7 L48.3 358.7 L48.3 360.0 L48.1 360.0 L48.1 361.3 L48.3 361.3 L48.3 362.6 L48.7 362.6 L48.7 363.9 L48.9 363.9 L48.9 365.2 L48.3 365.2 L48.3 366.5 L48.1 366.5 L48.1 367.8 L48.0 367.8 L48.0 369.1 L48.2 369.1 L48.2 370.4 L48.3 370.4 L48.3 371.7 L48.2 371.7 L48.2 373.0 L49.0 373.0 L49.0 374.3 L48.6 374.3 L48.6 375.6 L48.5 375.6 L48.5 376.9 L48.5 376.9 L48.5 378.2 L48.4 378.2 L48.4 379.5 L48.8 379.5 L48.8 380.8 L48.9 380.8 L48.9 382.1 L48.4 382.1 L48.4 383.4 L48.5 383.4 L48.5 384.7 L48.6 384.7 L48.6 386.0 L48.5 386.0 L48.5 387.3 L48.2 387.3 L48.2 388.6 L48.4 388.6 L48.4 389.9 L48.5 389.9 L48.5 391.2 L48.7 391.2 L48.7 392.5 L48.9 392.5 L48.9 393.8 L48.7 393.8 L48.7 395.1 L48.7 395.1 L48.7 396.4 L48.4 396.4 L48.4 397.7 L48.5 397.7 L48.5 399.0 L48.7 399.0 L48.7 400.3 L49.4 400.3 L49.4 401.6 L49.1 401.6 L49.1 402.9 L48.1 402.9 L48.1 404.2 L48.5 404.2 L48.5 405.5 L48.6 405.5 L48.6 406.8 L49.9 406.8 L49.9 408.1 L48.9 408.1 L48.9 409.4 L48.9 409.4 L48.9 410.7 L49.1 410.7 L49.1 412.0 L49.0 412.0 L49.0 413.3 L48.8 413.3 L48.8 414.6 L48.8 414.6 L48.8 415.9 L49.0 415.9 L49.0 417.2 L49.3 417.2 L49.3 418.5 L49.2 418.5 L49.2 419.8 L48.9 419.8 L48.9 421.1 L48.4 421.1 L48.4 422.4 L48.6 422.4 L48.6 423.7 L48.7 423.7 L48.7 425.0 L48.4 425.0 L48.4 426.3 L48.6 426.3 L48.6 427.6 L48.7 427.6 L48.7 428.9 L48.5 428.9 L48.5 430.2 L48.6 430.2 L48.6 431.5 L48.8 431.5 L48.8 432.8 L48.5 432.8 L48.5 434.1 L48.5 434.1 L48.5 435.4 L48.1 435.4 L48.1 436.7 L49.5 436.7 L49.5 438.0 L48.7 438.0 L48.7 439.3 L48.7 439.3 L48.7 440.6 L48.6 440.6 L48.6 441.9 L48.6 441.9 L48.6 443.2 L48.3 443.2 L48.3 444.5 L48.7 444.5 L48.7 445.8 L48.7 445.8 L48.7 447.1 L48.4 447.1 L48.4 448.4 L48.4 448.4 L48.4 449.7 L48.4 449.7 L48.4 451.0 L48.3 451.0 L48.3 452.3 L47.9 452.3 L47.9 453.6 L48.0 453.6 L48.0 454.9 L48.1 454.9 L48.1 456.2 L48.2 456.2 L48.2 457.5 L48.5 457.5 L48.5 458.8 L48.6 458.8 L48.6 460.1 L49.1 460.1 L49.1 461.4 L48.4 461.4 L48.4 462.7 L48.5 462.7 L48.5 464.0 L48.2 464.0 L48.2 465.3 L48.4 465.3 L48.4 466.6 L48.4 466.6 L48.4 467.9 L49.0 467.9 L49.0 469.2 L48.5 469.2 L48.5 470.5 L48.4 470.5 L48.4 471.8 L48.4 471.8 L48.4 473.1 L48.3 473.1 L48.3 474.4 L48.3 474.4 L48.3 475.7 L48.6 475.7 L48.6 477.0 L48.6 477.0 L48.6 478.3 L48.2 478.3 L48.2 479.6 L48.2 479.6 L48.2 480.9 L48.5 480.9 L48.5 482.2 L48.3 482.2 L48.3 483.5 L48.3 483.5 L48.3 484.8 L48.7 484.8 L48.7 486.1 L48.4 486.1 L48.4 487.4 L48.9 487.4 L48.9 488.7 L48.4 488.7 L48.4 490.0 L48.3 490.0 L48.3 491.3 L48.2 491.3 L48.2 492.6 L48.8 492.6 L48.8 493.9 L48.8 493.9 L48.8 495.2 L49.8 495.2 L49.8 496.5 L49.5 496.5 L49.5 497.8 L48.9 497.8 L48.9 499.1 L48.7 499.1 L48.7 500.4 L48.7 500.4 L48.7 501.7 L48.4 501.7 L48.4 503.0 L48.4 503.0 L48.4 504.3 L48.8 504.3 L48.8 505.6 L49.0 505.6 L49.0 506.9 L48.3 506.9 L48.3 508.2 L48.4 508.2 L48.4 509.5 L48.7 509.5 L48.7 510.8 L48.7 510.8 L48.7 511.6 L48.7 511.6 L41.0 511.6 Z" fill="#50237b"/>
<path d="M41.0 298.9 L48.2 298.9 L48.2 300.2 L48.3 300.2 L48.3 301.5 L47.4 301.5 L47.4 302.8 L47.7 302.8 L47.7 304.1 L47.6 304.1 L47.6 305.4 L48.1 305.4 L48.1 306.7 L47.6 306.7 L47.6 308.0 L47.4 308.0 L47.4 309.3 L47.5 309.3 L47.5 310.6 L47.7 310.6 L47.7 311.9 L47.3 311.9 L47.3 313.2 L47.4 313.2 L47.4 314.5 L47.3 314.5 L47.3 315.8 L47.8 315.8 L47.8 317.1 L47.9 317.1 L47.9 318.4 L47.9 318.4 L47.9 319.7 L47.5 319.7 L47.5 321.0 L47.7 321.0 L47.7 322.3 L47.5 322.3 L47.5 323.6 L48.4 323.6 L48.4 324.9 L48.0 324.9 L48.0 326.2 L47.9 326.2 L47.9 327.5 L47.7 327.5 L47.7 328.8 L47.9 328.8 L47.9 330.1 L47.8 330.1 L47.8 331.4 L48.2 331.4 L48.2 332.7 L47.5 332.7 L47.5 334.0 L47.2 334.0 L47.2 335.3 L47.6 335.3 L47.6 336.6 L47.4 336.6 L47.4 337.9 L47.6 337.9 L47.6 339.2 L47.7 339.2 L47.7 340.5 L47.9 340.5 L47.9 341.8 L47.5 341.8 L47.5 343.1 L47.4 343.1 L47.4 344.4 L48.1 344.4 L48.1 345.7 L48.1 345.7 L48.1 347.0 L47.7 347.0 L47.7 348.3 L47.9 348.3 L47.9 349.6 L47.9 349.6 L47.9 350.9 L47.4 350.9 L47.4 352.2 L47.4 352.2 L47.4 353.5 L47.8 353.5 L47.8 354.8 L47.6 354.8 L47.6 356.1 L47.8 356.1 L47.8 357.4 L47.3 357.4 L47.3 358.7 L47.4 358.7 L47.4 360.0 L47.2 360.0 L47.2 361.3 L47.4 361.3 L47.4 362.6 L47.8 362.6 L47.8 363.9 L48.0 363.9 L48.0 365.2 L47.4 365.2 L47.4 366.5 L47.2 366.5 L47.2 367.8 L47.1 367.8 L47.1 369.1 L47.3 369.1 L47.3 370.4 L47.4 370.4 L47.4 371.7 L47.3 371.7 L47.3 373.0 L48.1 373.0 L48.1 374.3 L47.7 374.3 L47.7 375.6 L47.6 375.6 L47.6 376.9 L47.6 376.9 L47.6 378.2 L47.5 378.2 L47.5 379.5 L47.9 379.5 L47.9 380.8 L48.0 380.8 L48.0 382.1 L47.5 382.1 L47.5 383.4 L47.6 383.4 L47.6 384.7 L47.7 384.7 L47.7 386.0 L47.6 386.0 L47.6 387.3 L47.3 387.3 L47.3 388.6 L47.5 388.6 L47.5 389.9 L47.6 389.9 L47.6 391.2 L47.8 391.2 L47.8 392.5 L48.0 392.5 L48.0 393.8 L47.8 393.8 L47.8 395.1 L47.8 395.1 L47.8 396.4 L47.5 396.4 L47.5 397.7 L47.6 397.7 L47.6 399.0 L47.8 399.0 L47.8 400.3 L48.5 400.3 L48.5 401.6 L48.2 401.6 L48.2 402.9 L47.2 402.9 L47.2 404.2 L47.6 404.2 L47.6 405.5 L47.7 405.5 L47.7 406.8 L49.0 406.8 L49.0 408.1 L48.0 408.1 L48.0 409.4 L48.0 409.4 L48.0 410.7 L48.2 410.7 L48.2 412.0 L48.1 412.0 L48.1 413.3 L47.9 413.3 L47.9 414.6 L47.9 414.6 L47.9 415.9 L48.1 415.9 L48.1 417.2 L48.4 417.2 L48.4 418.5 L48.3 418.5 L48.3 419.8 L48.0 419.8 L48.0 421.1 L47.5 421.1 L47.5 422.4 L47.7 422.4 L47.7 423.7 L47.8 423.7 L47.8 425.0 L47.5 425.0 L47.5 426.3 L47.7 426.3 L47.7 427.6 L47.8 427.6 L47.8 428.9 L47.6 428.9 L47.6 430.2 L47.7 430.2 L47.7 431.5 L47.9 431.5 L47.9 432.8 L47.6 432.8 L47.6 434.1 L47.6 434.1 L47.6 435.4 L47.2 435.4 L47.2 436.7 L48.6 436.7 L48.6 438.0 L47.8 438.0 L47.8 439.3 L47.8 439.3 L47.8 440.6 L47.7 440.6 L47.7 441.9 L47.7 441.9 L47.7 443.2 L47.4 443.2 L47.4 444.5 L47.8 444.5 L47.8 445.8 L47.8 445.8 L47.8 447.1 L47.5 447.1 L47.5 448.4 L47.5 448.4 L47.5 449.7 L47.5 449.7 L47.5 451.0 L47.4 451.0 L47.4 452.3 L47.0 452.3 L47.0 453.6 L47.1 453.6 L47.1 454.9 L47.2 454.9 L47.2 456.2 L47.3 456.2 L47.3 457.5 L47.6 457.5 L47.6 458.8 L47.7 458.8 L47.7 460.1 L48.2 460.1 L48.2 461.4 L47.5 461.4 L47.5 462.7 L47.6 462.7 L47.6 464.0 L47.3 464.0 L47.3 465.3 L47.5 465.3 L47.5 466.6 L47.5 466.6 L47.5 467.9 L48.1 467.9 L48.1 469.2 L47.6 469.2 L47.6 470.5 L47.5 470.5 L47.5 471.8 L47.5 471.8 L47.5 473.1 L47.4 473.1 L47.4 474.4 L47.4 474.4 L47.4 475.7 L47.7 475.7 L47.7 477.0 L47.7 477.0 L47.7 478.3 L47.3 478.3 L47.3 479.6 L47.3 479.6 L47.3 480.9 L47.6 480.9 L47.6 482.2 L47.4 482.2 L47.4 483.5 L47.4 483.5 L47.4 484.8 L47.8 484.8 L47.8 486.1 L47.5 486.1 L47.5 487.4 L48.0 487.4 L48.0 488.7 L47.5 488.7 L47.5 490.0 L47.4 490.0 L47.4 491.3 L47.3 491.3 L47.3 492.6 L47.9 492.6 L47.9 493.9 L47.9 493.9 L47.9 495.2 L48.9 495.2 L48.9 496.5 L48.6 496.5 L48.6 497.8 L48.0 497.8 L48.0 499.1 L47.8 499.1 L47.8 500.4 L47.8 500.4 L47.8 501.7 L47.5 501.7 L47.5 503.0 L47.5 503.0 L47.5 504.3 L47.9 504.3 L47.9 505.6 L48.1 505.6 L48.1 506.9 L47.4 506.9 L47.4 508.2 L47.5 508.2 L47.5 509.5 L47.8 509.5 L47.8 510.8 L47.8 510.8 L47.8 511.6 L47.8 511.6 L41.0 511.6 Z" fill="#3d428a"/>
<path d="M41.0 298.9 L47.4 298.9 L47.4 300.2 L47.5 300.2 L47.5 301.5 L46.6 301.5 L46.6 302.8 L46.9 302.8 L46.9 304.1 L46.8 304.1 L46.8 305.4 L47.3 305.4 L47.3 306.7 L46.8 306.7 L46.8 308.0 L46.6 308.0 L46.6 309.3 L46.7 309.3 L46.7 310.6 L46.9 310.6 L46.9 311.9 L46.5 311.9 L46.5 313.2 L46.6 313.2 L46.6 314.5 L46.5 314.5 L46.5 315.8 L47.0 315.8 L47.0 317.1 L47.1 317.1 L47.1 318.4 L47.1 318.4 L47.1 319.7 L46.7 319.7 L46.7 321.0 L46.9 321.0 L46.9 322.3 L46.7 322.3 L46.7 323.6 L47.6 323.6 L47.6 324.9 L47.2 324.9 L47.2 326.2 L47.1 326.2 L47.1 327.5 L46.9 327.5 L46.9 328.8 L47.1 328.8 L47.1 330.1 L47.0 330.1 L47.0 331.4 L47.4 331.4 L47.4 332.7 L46.7 332.7 L46.7 334.0 L46.4 334.0 L46.4 335.3 L46.8 335.3 L46.8 336.6 L46.6 336.6 L46.6 337.9 L46.8 337.9 L46.8 339.2 L46.9 339.2 L46.9 340.5 L47.1 340.5 L47.1 341.8 L46.7 341.8 L46.7 343.1 L46.6 343.1 L46.6 344.4 L47.3 344.4 L47.3 345.7 L47.3 345.7 L47.3 347.0 L46.9 347.0 L46.9 348.3 L47.1 348.3 L47.1 349.6 L47.1 349.6 L47.1 350.9 L46.6 350.9 L46.6 352.2 L46.6 352.2 L46.6 353.5 L47.0 353.5 L47.0 354.8 L46.8 354.8 L46.8 356.1 L47.0 356.1 L47.0 357.4 L46.5 357.4 L46.5 358.7 L46.6 358.7 L46.6 360.0 L46.4 360.0 L46.4 361.3 L46.6 361.3 L46.6 362.6 L47.0 362.6 L47.0 363.9 L47.2 363.9 L47.2 365.2 L46.6 365.2 L46.6 366.5 L46.4 366.5 L46.4 367.8 L46.3 367.8 L46.3 369.1 L46.5 369.1 L46.5 370.4 L46.6 370.4 L46.6 371.7 L46.5 371.7 L46.5 373.0 L47.3 373.0 L47.3 374.3 L46.9 374.3 L46.9 375.6 L46.8 375.6 L46.8 376.9 L46.8 376.9 L46.8 378.2 L46.7 378.2 L46.7 379.5 L47.1 379.5 L47.1 380.8 L47.2 380.8 L47.2 382.1 L46.7 382.1 L46.7 383.4 L46.8 383.4 L46.8 384.7 L46.9 384.7 L46.9 386.0 L46.8 386.0 L46.8 387.3 L46.5 387.3 L46.5 388.6 L46.7 388.6 L46.7 389.9 L46.8 389.9 L46.8 391.2 L47.0 391.2 L47.0 392.5 L47.2 392.5 L47.2 393.8 L47.0 393.8 L47.0 395.1 L47.0 395.1 L47.0 396.4 L46.7 396.4 L46.7 397.7 L46.8 397.7 L46.8 399.0 L47.0 399.0 L47.0 400.3 L47.7 400.3 L47.7 401.6 L47.4 401.6 L47.4 402.9 L46.4 402.9 L46.4 404.2 L46.8 404.2 L46.8 405.5 L46.9 405.5 L46.9 406.8 L48.2 406.8 L48.2 408.1 L47.2 408.1 L47.2 409.4 L47.2 409.4 L47.2 410.7 L47.4 410.7 L47.4 412.0 L47.3 412.0 L47.3 413.3 L47.1 413.3 L47.1 414.6 L47.1 414.6 L47.1 415.9 L47.3 415.9 L47.3 417.2 L47.6 417.2 L47.6 418.5 L47.5 418.5 L47.5 419.8 L47.2 419.8 L47.2 421.1 L46.7 421.1 L46.7 422.4 L46.9 422.4 L46.9 423.7 L47.0 423.7 L47.0 425.0 L46.7 425.0 L46.7 426.3 L46.9 426.3 L46.9 427.6 L47.0 427.6 L47.0 428.9 L46.8 428.9 L46.8 430.2 L46.9 430.2 L46.9 431.5 L47.1 431.5 L47.1 432.8 L46.8 432.8 L46.8 434.1 L46.8 434.1 L46.8 435.4 L46.4 435.4 L46.4 436.7 L47.8 436.7 L47.8 438.0 L47.0 438.0 L47.0 439.3 L47.0 439.3 L47.0 440.6 L46.9 440.6 L46.9 441.9 L46.9 441.9 L46.9 443.2 L46.6 443.2 L46.6 444.5 L47.0 444.5 L47.0 445.8 L47.0 445.8 L47.0 447.1 L46.7 447.1 L46.7 448.4 L46.7 448.4 L46.7 449.7 L46.7 449.7 L46.7 451.0 L46.6 451.0 L46.6 452.3 L46.2 452.3 L46.2 453.6 L46.3 453.6 L46.3 454.9 L46.4 454.9 L46.4 456.2 L46.5 456.2 L46.5 457.5 L46.8 457.5 L46.8 458.8 L46.9 458.8 L46.9 460.1 L47.4 460.1 L47.4 461.4 L46.7 461.4 L46.7 462.7 L46.8 462.7 L46.8 464.0 L46.5 464.0 L46.5 465.3 L46.7 465.3 L46.7 466.6 L46.7 466.6 L46.7 467.9 L47.3 467.9 L47.3 469.2 L46.8 469.2 L46.8 470.5 L46.7 470.5 L46.7 471.8 L46.7 471.8 L46.7 473.1 L46.6 473.1 L46.6 474.4 L46.6 474.4 L46.6 475.7 L46.9 475.7 L46.9 477.0 L46.9 477.0 L46.9 478.3 L46.5 478.3 L46.5 479.6 L46.5 479.6 L46.5 480.9 L46.8 480.9 L46.8 482.2 L46.6 482.2 L46.6 483.5 L46.6 483.5 L46.6 484.8 L47.0 484.8 L47.0 486.1 L46.7 486.1 L46.7 487.4 L47.2 487.4 L47.2 488.7 L46.7 488.7 L46.7 490.0 L46.6 490.0 L46.6 491.3 L46.5 491.3 L46.5 492.6 L47.1 492.6 L47.1 493.9 L47.1 493.9 L47.1 495.2 L48.1 495.2 L48.1 496.5 L47.8 496.5 L47.8 497.8 L47.2 497.8 L47.2 499.1 L47.0 499.1 L47.0 500.4 L47.0 500.4 L47.0 501.7 L46.7 501.7 L46.7 503.0 L46.7 503.0 L46.7 504.3 L47.1 504.3 L47.1 505.6 L47.3 505.6 L47.3 506.9 L46.6 506.9 L46.6 508.2 L46.7 508.2 L46.7 509.5 L47.0 509.5 L47.0 510.8 L47.0 510.8 L47.0 511.6 L47.0 511.6 L41.0 511.6 Z" fill="#085c90"/>
<path d="M41.0 298.9 L46.7 298.9 L46.7 300.2 L46.8 300.2 L46.8 301.5 L45.9 301.5 L45.9 302.8 L46.2 302.8 L46.2 304.1 L46.1 304.1 L46.1 305.4 L46.6 305.4 L46.6 306.7 L46.1 306.7 L46.1 308.0 L45.9 308.0 L45.9 309.3 L46.0 309.3 L46.0 310.6 L46.2 310.6 L46.2 311.9 L45.8 311.9 L45.8 313.2 L45.9 313.2 L45.9 314.5 L45.8 314.5 L45.8 315.8 L46.3 315.8 L46.3 317.1 L46.4 317.1 L46.4 318.4 L46.4 318.4 L46.4 319.7 L46.0 319.7 L46.0 321.0 L46.2 321.0 L46.2 322.3 L46.0 322.3 L46.0 323.6 L46.9 323.6 L46.9 324.9 L46.5 324.9 L46.5 326.2 L46.4 326.2 L46.4 327.5 L46.2 327.5 L46.2 328.8 L46.4 328.8 L46.4 330.1 L46.3 330.1 L46.3 331.4 L46.7 331.4 L46.7 332.7 L46.0 332.7 L46.0 334.0 L45.7 334.0 L45.7 335.3 L46.1 335.3 L46.1 336.6 L45.9 336.6 L45.9 337.9 L46.1 337.9 L46.1 339.2 L46.2 339.2 L46.2 340.5 L46.4 340.5 L46.4 341.8 L46.0 341.8 L46.0 343.1 L45.9 343.1 L45.9 344.4 L46.6 344.4 L46.6 345.7 L46.6 345.7 L46.6 347.0 L46.2 347.0 L46.2 348.3 L46.4 348.3 L46.4 349.6 L46.4 349.6 L46.4 350.9 L45.9 350.9 L45.9 352.2 L45.9 352.2 L45.9 353.5 L46.3 353.5 L46.3 354.8 L46.1 354.8 L46.1 356.1 L46.3 356.1 L46.3 357.4 L45.8 357.4 L45.8 358.7 L45.9 358.7 L45.9 360.0 L45.7 360.0 L45.7 361.3 L45.9 361.3 L45.9 362.6 L46.3 362.6 L46.3 363.9 L46.5 363.9 L46.5 365.2 L45.9 365.2 L45.9 366.5 L45.7 366.5 L45.7 367.8 L45.6 367.8 L45.6 369.1 L45.8 369.1 L45.8 370.4 L45.9 370.4 L45.9 371.7 L45.8 371.7 L45.8 373.0 L46.6 373.0 L46.6 374.3 L46.2 374.3 L46.2 375.6 L46.1 375.6 L46.1 376.9 L46.1 376.9 L46.1 378.2 L46.0 378.2 L46.0 379.5 L46.4 379.5 L46.4 380.8 L46.5 380.8 L46.5 382.1 L46.0 382.1 L46.0 383.4 L46.1 383.4 L46.1 384.7 L46.2 384.7 L46.2 386.0 L46.1 386.0 L46.1 387.3 L45.8 387.3 L45.8 388.6 L46.0 388.6 L46.0 389.9 L46.1 389.9 L46.1 391.2 L46.3 391.2 L46.3 392.5 L46.5 392.5 L46.5 393.8 L46.3 393.8 L46.3 395.1 L46.3 395.1 L46.3 396.4 L46.0 396.4 L46.0 397.7 L46.1 397.7 L46.1 399.0 L46.3 399.0 L46.3 400.3 L47.0 400.3 L47.0 401.6 L46.7 401.6 L46.7 402.9 L45.7 402.9 L45.7 404.2 L46.1 404.2 L46.1 405.5 L46.2 405.5 L46.2 406.8 L47.5 406.8 L47.5 408.1 L46.5 408.1 L46.5 409.4 L46.5 409.4 L46.5 410.7 L46.7 410.7 L46.7 412.0 L46.6 412.0 L46.6 413.3 L46.4 413.3 L46.4 414.6 L46.4 414.6 L46.4 415.9 L46.6 415.9 L46.6 417.2 L46.9 417.2 L46.9 418.5 L46.8 418.5 L46.8 419.8 L46.5 419.8 L46.5 421.1 L46.0 421.1 L46.0 422.4 L46.2 422.4 L46.2 423.7 L46.3 423.7 L46.3 425.0 L46.0 425.0 L46.0 426.3 L46.2 426.3 L46.2 427.6 L46.3 427.6 L46.3 428.9 L46.1 428.9 L46.1 430.2 L46.2 430.2 L46.2 431.5 L46.4 431.5 L46.4 432.8 L46.1 432.8 L46.1 434.1 L46.1 434.1 L46.1 435.4 L45.7 435.4 L45.7 436.7 L47.1 436.7 L47.1 438.0 L46.3 438.0 L46.3 439.3 L46.3 439.3 L46.3 440.6 L46.2 440.6 L46.2 441.9 L46.2 441.9 L46.2 443.2 L45.9 443.2 L45.9 444.5 L46.3 444.5 L46.3 445.8 L46.3 445.8 L46.3 447.1 L46.0 447.1 L46.0 448.4 L46.0 448.4 L46.0 449.7 L46.0 449.7 L46.0 451.0 L45.9 451.0 L45.9 452.3 L45.5 452.3 L45.5 453.6 L45.6 453.6 L45.6 454.9 L45.7 454.9 L45.7 456.2 L45.8 456.2 L45.8 457.5 L46.1 457.5 L46.1 458.8 L46.2 458.8 L46.2 460.1 L46.7 460.1 L46.7 461.4 L46.0 461.4 L46.0 462.7 L46.1 462.7 L46.1 464.0 L45.8 464.0 L45.8 465.3 L46.0 465.3 L46.0 466.6 L46.0 466.6 L46.0 467.9 L46.6 467.9 L46.6 469.2 L46.1 469.2 L46.1 470.5 L46.0 470.5 L46.0 471.8 L46.0 471.8 L46.0 473.1 L45.9 473.1 L45.9 474.4 L45.9 474.4 L45.9 475.7 L46.2 475.7 L46.2 477.0 L46.2 477.0 L46.2 478.3 L45.8 478.3 L45.8 479.6 L45.8 479.6 L45.8 480.9 L46.1 480.9 L46.1 482.2 L45.9 482.2 L45.9 483.5 L45.9 483.5 L45.9 484.8 L46.3 484.8 L46.3 486.1 L46.0 486.1 L46.0 487.4 L46.5 487.4 L46.5 488.7 L46.0 488.7 L46.0 490.0 L45.9 490.0 L45.9 491.3 L45.8 491.3 L45.8 492.6 L46.4 492.6 L46.4 493.9 L46.4 493.9 L46.4 495.2 L47.4 495.2 L47.4 496.5 L47.1 496.5 L47.1 497.8 L46.5 497.8 L46.5 499.1 L46.3 499.1 L46.3 500.4 L46.3 500.4 L46.3 501.7 L46.0 501.7 L46.0 503.0 L46.0 503.0 L46.0 504.3 L46.4 504.3 L46.4 505.6 L46.6 505.6 L46.6 506.9 L45.9 506.9 L45.9 508.2 L46.0 508.2 L46.0 509.5 L46.3 509.5 L46.3 510.8 L46.3 510.8 L46.3 511.6 L46.3 511.6 L41.0 511.6 Z" fill="#007991"/>
<path d="M41.0 298.9 L46.1 298.9 L46.1 300.2 L46.2 300.2 L46.2 301.5 L45.3 301.5 L45.3 302.8 L45.6 302.8 L45.6 304.1 L45.5 304.1 L45.5 305.4 L46.0 305.4 L46.0 306.7 L45.5 306.7 L45.5 308.0 L45.3 308.0 L45.3 309.3 L45.4 309.3 L45.4 310.6 L45.6 310.6 L45.6 311.9 L45.2 311.9 L45.2 313.2 L45.3 313.2 L45.3 314.5 L45.2 314.5 L45.2 315.8 L45.7 315.8 L45.7 317.1 L45.8 317.1 L45.8 318.4 L45.8 318.4 L45.8 319.7 L45.4 319.7 L45.4 321.0 L45.6 321.0 L45.6 322.3 L45.4 322.3 L45.4 323.6 L46.3 323.6 L46.3 324.9 L45.9 324.9 L45.9 326.2 L45.8 326.2 L45.8 327.5 L45.6 327.5 L45.6 328.8 L45.8 328.8 L45.8 330.1 L45.7 330.1 L45.7 331.4 L46.1 331.4 L46.1 332.7 L45.4 332.7 L45.4 334.0 L45.1 334.0 L45.1 335.3 L45.5 335.3 L45.5 336.6 L45.3 336.6 L45.3 337.9 L45.5 337.9 L45.5 339.2 L45.6 339.2 L45.6 340.5 L45.8 340.5 L45.8 341.8 L45.4 341.8 L45.4 343.1 L45.3 343.1 L45.3 344.4 L46.0 344.4 L46.0 345.7 L46.0 345.7 L46.0 347.0 L45.6 347.0 L45.6 348.3 L45.8 348.3 L45.8 349.6 L45.8 349.6 L45.8 350.9 L45.3 350.9 L45.3 352.2 L45.3 352.2 L45.3 353.5 L45.7 353.5 L45.7 354.8 L45.5 354.8 L45.5 356.1 L45.7 356.1 L45.7 357.4 L45.2 357.4 L45.2 358.7 L45.3 358.7 L45.3 360.0 L45.1 360.0 L45.1 361.3 L45.3 361.3 L45.3 362.6 L45.7 362.6 L45.7 363.9 L45.9 363.9 L45.9 365.2 L45.3 365.2 L45.3 366.5 L45.1 366.5 L45.1 367.8 L45.0 367.8 L45.0 369.1 L45.2 369.1 L45.2 370.4 L45.3 370.4 L45.3 371.7 L45.2 371.7 L45.2 373.0 L46.0 373.0 L46.0 374.3 L45.6 374.3 L45.6 375.6 L45.5 375.6 L45.5 376.9 L45.5 376.9 L45.5 378.2 L45.4 378.2 L45.4 379.5 L45.8 379.5 L45.8 380.8 L45.9 380.8 L45.9 382.1 L45.4 382.1 L45.4 383.4 L45.5 383.4 L45.5 384.7 L45.6 384.7 L45.6 386.0 L45.5 386.0 L45.5 387.3 L45.2 387.3 L45.2 388.6 L45.4 388.6 L45.4 389.9 L45.5 389.9 L45.5 391.2 L45.7 391.2 L45.7 392.5 L45.9 392.5 L45.9 393.8 L45.7 393.8 L45.7 395.1 L45.7 395.1 L45.7 396.4 L45.4 396.4 L45.4 397.7 L45.5 397.7 L45.5 399.0 L45.7 399.0 L45.7 400.3 L46.4 400.3 L46.4 401.6 L46.1 401.6 L46.1 402.9 L45.1 402.9 L45.1 404.2 L45.5 404.2 L45.5 405.5 L45.6 405.5 L45.6 406.8 L46.9 406.8 L46.9 408.1 L45.9 408.1 L45.9 409.4 L45.9 409.4 L45.9 410.7 L46.1 410.7 L46.1 412.0 L46.0 412.0 L46.0 413.3 L45.8 413.3 L45.8 414.6 L45.8 414.6 L45.8 415.9 L46.0 415.9 L46.0 417.2 L46.3 417.2 L46.3 418.5 L46.2 418.5 L46.2 419.8 L45.9 419.8 L45.9 421.1 L45.4 421.1 L45.4 422.4 L45.6 422.4 L45.6 423.7 L45.7 423.7 L45.7 425.0 L45.4 425.0 L45.4 426.3 L45.6 426.3 L45.6 427.6 L45.7 427.6 L45.7 428.9 L45.5 428.9 L45.5 430.2 L45.6 430.2 L45.6 431.5 L45.8 431.5 L45.8 432.8 L45.5 432.8 L45.5 434.1 L45.5 434.1 L45.5 435.4 L45.1 435.4 L45.1 436.7 L46.5 436.7 L46.5 438.0 L45.7 438.0 L45.7 439.3 L45.7 439.3 L45.7 440.6 L45.6 440.6 L45.6 441.9 L45.6 441.9 L45.6 443.2 L45.3 443.2 L45.3 444.5 L45.7 444.5 L45.7 445.8 L45.7 445.8 L45.7 447.1 L45.4 447.1 L45.4 448.4 L45.4 448.4 L45.4 449.7 L45.4 449.7 L45.4 451.0 L45.3 451.0 L45.3 452.3 L44.9 452.3 L44.9 453.6 L45.0 453.6 L45.0 454.9 L45.1 454.9 L45.1 456.2 L45.2 456.2 L45.2 457.5 L45.5 457.5 L45.5 458.8 L45.6 458.8 L45.6 460.1 L46.1 460.1 L46.1 461.4 L45.4 461.4 L45.4 462.7 L45.5 462.7 L45.5 464.0 L45.2 464.0 L45.2 465.3 L45.4 465.3 L45.4 466.6 L45.4 466.6 L45.4 467.9 L46.0 467.9 L46.0 469.2 L45.5 469.2 L45.5 470.5 L45.4 470.5 L45.4 471.8 L45.4 471.8 L45.4 473.1 L45.3 473.1 L45.3 474.4 L45.3 474.4 L45.3 475.7 L45.6 475.7 L45.6 477.0 L45.6 477.0 L45.6 478.3 L45.2 478.3 L45.2 479.6 L45.2 479.6 L45.2 480.9 L45.5 480.9 L45.5 482.2 L45.3 482.2 L45.3 483.5 L45.3 483.5 L45.3 484.8 L45.7 484.8 L45.7 486.1 L45.4 486.1 L45.4 487.4 L45.9 487.4 L45.9 488.7 L45.4 488.7 L45.4 490.0 L45.3 490.0 L45.3 491.3 L45.2 491.3 L45.2 492.6 L45.8 492.6 L45.8 493.9 L45.8 493.9 L45.8 495.2 L46.8 495.2 L46.8 496.5 L46.5 496.5 L46.5 497.8 L45.9 497.8 L45.9 499.1 L45.7 499.1 L45.7 500.4 L45.7 500.4 L45.7 501.7 L45.4 501.7 L45.4 503.0 L45.4 503.0 L45.4 504.3 L45.8 504.3 L45.8 505.6 L46.0 505.6 L46.0 506.9 L45.3 506.9 L45.3 508.2 L45.4 508.2 L45.4 509.5 L45.7 509.5 L45.7 510.8 L45.7 510.8 L45.7 511.6 L45.7 511.6 L41.0 511.6 Z" fill="#00978c"/>
<path d="M41.0 298.9 L45.6 298.9 L45.6 300.2 L45.7 300.2 L45.7 301.5 L44.8 301.5 L44.8 302.8 L45.1 302.8 L45.1 304.1 L45.0 304.1 L45.0 305.4 L45.5 305.4 L45.5 306.7 L45.0 306.7 L45.0 308.0 L44.8 308.0 L44.8 309.3 L44.9 309.3 L44.9 310.6 L45.1 310.6 L45.1 311.9 L44.7 311.9 L44.7 313.2 L44.8 313.2 L44.8 314.5 L44.7 314.5 L44.7 315.8 L45.2 315.8 L45.2 317.1 L45.3 317.1 L45.3 318.4 L45.3 318.4 L45.3 319.7 L44.9 319.7 L44.9 321.0 L45.1 321.0 L45.1 322.3 L44.9 322.3 L44.9 323.6 L45.8 323.6 L45.8 324.9 L45.4 324.9 L45.4 326.2 L45.3 326.2 L45.3 327.5 L45.1 327.5 L45.1 328.8 L45.3 328.8 L45.3 330.1 L45.2 330.1 L45.2 331.4 L45.6 331.4 L45.6 332.7 L44.9 332.7 L44.9 334.0 L44.6 334.0 L44.6 335.3 L45.0 335.3 L45.0 336.6 L44.8 336.6 L44.8 337.9 L45.0 337.9 L45.0 339.2 L45.1 339.2 L45.1 340.5 L45.3 340.5 L45.3 341.8 L44.9 341.8 L44.9 343.1 L44.8 343.1 L44.8 344.4 L45.5 344.4 L45.5 345.7 L45.5 345.7 L45.5 347.0 L45.1 347.0 L45.1 348.3 L45.3 348.3 L45.3 349.6 L45.3 349.6 L45.3 350.9 L44.8 350.9 L44.8 352.2 L44.8 352.2 L44.8 353.5 L45.2 353.5 L45.2 354.8 L45.0 354.8 L45.0 356.1 L45.2 356.1 L45.2 357.4 L44.7 357.4 L44.7 358.7 L44.8 358.7 L44.8 360.0 L44.6 360.0 L44.6 361.3 L44.8 361.3 L44.8 362.6 L45.2 362.6 L45.2 363.9 L45.4 363.9 L45.4 365.2 L44.8 365.2 L44.8 366.5 L44.6 366.5 L44.6 367.8 L44.5 367.8 L44.5 369.1 L44.7 369.1 L44.7 370.4 L44.8 370.4 L44.8 371.7 L44.7 371.7 L44.7 373.0 L45.5 373.0 L45.5 374.3 L45.1 374.3 L45.1 375.6 L45.0 375.6 L45.0 376.9 L45.0 376.9 L45.0 378.2 L44.9 378.2 L44.9 379.5 L45.3 379.5 L45.3 380.8 L45.4 380.8 L45.4 382.1 L44.9 382.1 L44.9 383.4 L45.0 383.4 L45.0 384.7 L45.1 384.7 L45.1 386.0 L45.0 386.0 L45.0 387.3 L44.7 387.3 L44.7 388.6 L44.9 388.6 L44.9 389.9 L45.0 389.9 L45.0 391.2 L45.2 391.2 L45.2 392.5 L45.4 392.5 L45.4 393.8 L45.2 393.8 L45.2 395.1 L45.2 395.1 L45.2 396.4 L44.9 396.4 L44.9 397.7 L45.0 397.7 L45.0 399.0 L45.2 399.0 L45.2 400.3 L45.9 400.3 L45.9 401.6 L45.6 401.6 L45.6 402.9 L44.6 402.9 L44.6 404.2 L45.0 404.2 L45.0 405.5 L45.1 405.5 L45.1 406.8 L46.4 406.8 L46.4 408.1 L45.4 408.1 L45.4 409.4 L45.4 409.4 L45.4 410.7 L45.6 410.7 L45.6 412.0 L45.5 412.0 L45.5 413.3 L45.3 413.3 L45.3 414.6 L45.3 414.6 L45.3 415.9 L45.5 415.9 L45.5 417.2 L45.8 417.2 L45.8 418.5 L45.7 418.5 L45.7 419.8 L45.4 419.8 L45.4 421.1 L44.9 421.1 L44.9 422.4 L45.1 422.4 L45.1 423.7 L45.2 423.7 L45.2 425.0 L44.9 425.0 L44.9 426.3 L45.1 426.3 L45.1 427.6 L45.2 427.6 L45.2 428.9 L45.0 428.9 L45.0 430.2 L45.1 430.2 L45.1 431.5 L45.3 431.5 L45.3 432.8 L45.0 432.8 L45.0 434.1 L45.0 434.1 L45.0 435.4 L44.6 435.4 L44.6 436.7 L46.0 436.7 L46.0 438.0 L45.2 438.0 L45.2 439.3 L45.2 439.3 L45.2 440.6 L45.1 440.6 L45.1 441.9 L45.1 441.9 L45.1 443.2 L44.8 443.2 L44.8 444.5 L45.2 444.5 L45.2 445.8 L45.2 445.8 L45.2 447.1 L44.9 447.1 L44.9 448.4 L44.9 448.4 L44.9 449.7 L44.9 449.7 L44.9 451.0 L44.8 451.0 L44.8 452.3 L44.4 452.3 L44.4 453.6 L44.5 453.6 L44.5 454.9 L44.6 454.9 L44.6 456.2 L44.7 456.2 L44.7 457.5 L45.0 457.5 L45.0 458.8 L45.1 458.8 L45.1 460.1 L45.6 460.1 L45.6 461.4 L44.9 461.4 L44.9 462.7 L45.0 462.7 L45.0 464.0 L44.7 464.0 L44.7 465.3 L44.9 465.3 L44.9 466.6 L44.9 466.6 L44.9 467.9 L45.5 467.9 L45.5 469.2 L45.0 469.2 L45.0 470.5 L44.9 470.5 L44.9 471.8 L44.9 471.8 L44.9 473.1 L44.8 473.1 L44.8 474.4 L44.8 474.4 L44.8 475.7 L45.1 475.7 L45.1 477.0 L45.1 477.0 L45.1 478.3 L44.7 478.3 L44.7 479.6 L44.7 479.6 L44.7 480.9 L45.0 480.9 L45.0 482.2 L44.8 482.2 L44.8 483.5 L44.8 483.5 L44.8 484.8 L45.2 484.8 L45.2 486.1 L44.9 486.1 L44.9 487.4 L45.4 487.4 L45.4 488.7 L44.9 488.7 L44.9 490.0 L44.8 490.0 L44.8 491.3 L44.7 491.3 L44.7 492.6 L45.3 492.6 L45.3 493.9 L45.3 493.9 L45.3 495.2 L46.3 495.2 L46.3 496.5 L46.0 496.5 L46.0 497.8 L45.4 497.8 L45.4 499.1 L45.2 499.1 L45.2 500.4 L45.2 500.4 L45.2 501.7 L44.9 501.7 L44.9 503.0 L44.9 503.0 L44.9 504.3 L45.3 504.3 L45.3 505.6 L45.5 505.6 L45.5 506.9 L44.8 506.9 L44.8 508.2 L44.9 508.2 L44.9 509.5 L45.2 509.5 L45.2 510.8 L45.2 510.8 L45.2 511.6 L45.2 511.6 L41.0 511.6 Z" fill="#00bc72"/>
<path d="M41.0 298.9 L45.0 298.9 L45.0 300.2 L45.1 300.2 L45.1 301.5 L44.2 301.5 L44.2 302.8 L44.5 302.8 L44.5 304.1 L44.4 304.1 L44.4 305.4 L44.9 305.4 L44.9 306.7 L44.4 306.7 L44.4 308.0 L44.2 308.0 L44.2 309.3 L44.3 309.3 L44.3 310.6 L44.5 310.6 L44.5 311.9 L44.1 311.9 L44.1 313.2 L44.2 313.2 L44.2 314.5 L44.1 314.5 L44.1 315.8 L44.6 315.8 L44.6 317.1 L44.7 317.1 L44.7 318.4 L44.7 318.4 L44.7 319.7 L44.3 319.7 L44.3 321.0 L44.5 321.0 L44.5 322.3 L44.3 322.3 L44.3 323.6 L45.2 323.6 L45.2 324.9 L44.8 324.9 L44.8 326.2 L44.7 326.2 L44.7 327.5 L44.5 327.5 L44.5 328.8 L44.7 328.8 L44.7 330.1 L44.6 330.1 L44.6 331.4 L45.0 331.4 L45.0 332.7 L44.3 332.7 L44.3 334.0 L44.0 334.0 L44.0 335.3 L44.4 335.3 L44.4 336.6 L44.2 336.6 L44.2 337.9 L44.4 337.9 L44.4 339.2 L44.5 339.2 L44.5 340.5 L44.7 340.5 L44.7 341.8 L44.3 341.8 L44.3 343.1 L44.2 343.1 L44.2 344.4 L44.9 344.4 L44.9 345.7 L44.9 345.7 L44.9 347.0 L44.5 347.0 L44.5 348.3 L44.7 348.3 L44.7 349.6 L44.7 349.6 L44.7 350.9 L44.2 350.9 L44.2 352.2 L44.2 352.2 L44.2 353.5 L44.6 353.5 L44.6 354.8 L44.4 354.8 L44.4 356.1 L44.6 356.1 L44.6 357.4 L44.1 357.4 L44.1 358.7 L44.2 358.7 L44.2 360.0 L44.0 360.0 L44.0 361.3 L44.2 361.3 L44.2 362.6 L44.6 362.6 L44.6 363.9 L44.8 363.9 L44.8 365.2 L44.2 365.2 L44.2 366.5 L44.0 366.5 L44.0 367.8 L43.9 367.8 L43.9 369.1 L44.1 369.1 L44.1 370.4 L44.2 370.4 L44.2 371.7 L44.1 371.7 L44.1 373.0 L44.9 373.0 L44.9 374.3 L44.5 374.3 L44.5 375.6 L44.4 375.6 L44.4 376.9 L44.4 376.9 L44.4 378.2 L44.3 378.2 L44.3 379.5 L44.7 379.5 L44.7 380.8 L44.8 380.8 L44.8 382.1 L44.3 382.1 L44.3 383.4 L44.4 383.4 L44.4 384.7 L44.5 384.7 L44.5 386.0 L44.4 386.0 L44.4 387.3 L44.1 387.3 L44.1 388.6 L44.3 388.6 L44.3 389.9 L44.4 389.9 L44.4 391.2 L44.6 391.2 L44.6 392.5 L44.8 392.5 L44.8 393.8 L44.6 393.8 L44.6 395.1 L44.6 395.1 L44.6 396.4 L44.3 396.4 L44.3 397.7 L44.4 397.7 L44.4 399.0 L44.6 399.0 L44.6 400.3 L45.3 400.3 L45.3 401.6 L45.0 401.6 L45.0 402.9 L44.0 402.9 L44.0 404.2 L44.4 404.2 L44.4 405.5 L44.5 405.5 L44.5 406.8 L45.8 406.8 L45.8 408.1 L44.8 408.1 L44.8 409.4 L44.8 409.4 L44.8 410.7 L45.0 410.7 L45.0 412.0 L44.9 412.0 L44.9 413.3 L44.7 413.3 L44.7 414.6 L44.7 414.6 L44.7 415.9 L44.9 415.9 L44.9 417.2 L45.2 417.2 L45.2 418.5 L45.1 418.5 L45.1 419.8 L44.8 419.8 L44.8 421.1 L44.3 421.1 L44.3 422.4 L44.5 422.4 L44.5 423.7 L44.6 423.7 L44.6 425.0 L44.3 425.0 L44.3 426.3 L44.5 426.3 L44.5 427.6 L44.6 427.6 L44.6 428.9 L44.4 428.9 L44.4 430.2 L44.5 430.2 L44.5 431.5 L44.7 431.5 L44.7 432.8 L44.4 432.8 L44.4 434.1 L44.4 434.1 L44.4 435.4 L44.0 435.4 L44.0 436.7 L45.4 436.7 L45.4 438.0 L44.6 438.0 L44.6 439.3 L44.6 439.3 L44.6 440.6 L44.5 440.6 L44.5 441.9 L44.5 441.9 L44.5 443.2 L44.2 443.2 L44.2 444.5 L44.6 444.5 L44.6 445.8 L44.6 445.8 L44.6 447.1 L44.3 447.1 L44.3 448.4 L44.3 448.4 L44.3 449.7 L44.3 449.7 L44.3 451.0 L44.2 451.0 L44.2 452.3 L43.8 452.3 L43.8 453.6 L43.9 453.6 L43.9 454.9 L44.0 454.9 L44.0 456.2 L44.1 456.2 L44.1 457.5 L44.4 457.5 L44.4 458.8 L44.5 458.8 L44.5 460.1 L45.0 460.1 L45.0 461.4 L44.3 461.4 L44.3 462.7 L44.4 462.7 L44.4 464.0 L44.1 464.0 L44.1 465.3 L44.3 465.3 L44.3 466.6 L44.3 466.6 L44.3 467.9 L44.9 467.9 L44.9 469.2 L44.4 469.2 L44.4 470.5 L44.3 470.5 L44.3 471.8 L44.3 471.8 L44.3 473.1 L44.2 473.1 L44.2 474.4 L44.2 474.4 L44.2 475.7 L44.5 475.7 L44.5 477.0 L44.5 477.0 L44.5 478.3 L44.1 478.3 L44.1 479.6 L44.1 479.6 L44.1 480.9 L44.4 480.9 L44.4 482.2 L44.2 482.2 L44.2 483.5 L44.2 483.5 L44.2 484.8 L44.6 484.8 L44.6 486.1 L44.3 486.1 L44.3 487.4 L44.8 487.4 L44.8 488.7 L44.3 488.7 L44.3 490.0 L44.2 490.0 L44.2 491.3 L44.1 491.3 L44.1 492.6 L44.7 492.6 L44.7 493.9 L44.7 493.9 L44.7 495.2 L45.7 495.2 L45.7 496.5 L45.4 496.5 L45.4 497.8 L44.8 497.8 L44.8 499.1 L44.6 499.1 L44.6 500.4 L44.6 500.4 L44.6 501.7 L44.3 501.7 L44.3 503.0 L44.3 503.0 L44.3 504.3 L44.7 504.3 L44.7 505.6 L44.9 505.6 L44.9 506.9 L44.2 506.9 L44.2 508.2 L44.3 508.2 L44.3 509.5 L44.6 509.5 L44.6 510.8 L44.6 510.8 L44.6 511.6 L44.6 511.6 L41.0 511.6 Z" fill="#9bde00"/>
<path d="M41.0 298.9 L44.5 298.9 L44.5 300.2 L44.6 300.2 L44.6 301.5 L43.7 301.5 L43.7 302.8 L44.0 302.8 L44.0 304.1 L43.9 304.1 L43.9 305.4 L44.4 305.4 L44.4 306.7 L43.9 306.7 L43.9 308.0 L43.7 308.0 L43.7 309.3 L43.8 309.3 L43.8 310.6 L44.0 310.6 L44.0 311.9 L43.6 311.9 L43.6 313.2 L43.7 313.2 L43.7 314.5 L43.6 314.5 L43.6 315.8 L44.1 315.8 L44.1 317.1 L44.2 317.1 L44.2 318.4 L44.2 318.4 L44.2 319.7 L43.8 319.7 L43.8 321.0 L44.0 321.0 L44.0 322.3 L43.8 322.3 L43.8 323.6 L44.7 323.6 L44.7 324.9 L44.3 324.9 L44.3 326.2 L44.2 326.2 L44.2 327.5 L44.0 327.5 L44.0 328.8 L44.2 328.8 L44.2 330.1 L44.1 330.1 L44.1 331.4 L44.5 331.4 L44.5 332.7 L43.8 332.7 L43.8 334.0 L43.5 334.0 L43.5 335.3 L43.9 335.3 L43.9 336.6 L43.7 336.6 L43.7 337.9 L43.9 337.9 L43.9 339.2 L44.0 339.2 L44.0 340.5 L44.2 340.5 L44.2 341.8 L43.8 341.8 L43.8 343.1 L43.7 343.1 L43.7 344.4 L44.4 344.4 L44.4 345.7 L44.4 345.7 L44.4 347.0 L44.0 347.0 L44.0 348.3 L44.2 348.3 L44.2 349.6 L44.2 349.6 L44.2 350.9 L43.7 350.9 L43.7 352.2 L43.7 352.2 L43.7 353.5 L44.1 353.5 L44.1 354.8 L43.9 354.8 L43.9 356.1 L44.1 356.1 L44.1 357.4 L43.6 357.4 L43.6 358.7 L43.7 358.7 L43.7 360.0 L43.5 360.0 L43.5 361.3 L43.7 361.3 L43.7 362.6 L44.1 362.6 L44.1 363.9 L44.3 363.9 L44.3 365.2 L43.7 365.2 L43.7 366.5 L43.5 366.5 L43.5 367.8 L43.4 367.8 L43.4 369.1 L43.6 369.1 L43.6 370.4 L43.7 370.4 L43.7 371.7 L43.6 371.7 L43.6 373.0 L44.4 373.0 L44.4 374.3 L44.0 374.3 L44.0 375.6 L43.9 375.6 L43.9 376.9 L43.9 376.9 L43.9 378.2 L43.8 378.2 L43.8 379.5 L44.2 379.5 L44.2 380.8 L44.3 380.8 L44.3 382.1 L43.8 382.1 L43.8 383.4 L43.9 383.4 L43.9 384.7 L44.0 384.7 L44.0 386.0 L43.9 386.0 L43.9 387.3 L43.6 387.3 L43.6 388.6 L43.8 388.6 L43.8 389.9 L43.9 389.9 L43.9 391.2 L44.1 391.2 L44.1 392.5 L44.3 392.5 L44.3 393.8 L44.1 393.8 L44.1 395.1 L44.1 395.1 L44.1 396.4 L43.8 396.4 L43.8 397.7 L43.9 397.7 L43.9 399.0 L44.1 399.0 L44.1 400.3 L44.8 400.3 L44.8 401.6 L44.5 401.6 L44.5 402.9 L43.5 402.9 L43.5 404.2 L43.9 404.2 L43.9 405.5 L44.0 405.5 L44.0 406.8 L45.3 406.8 L45.3 408.1 L44.3 408.1 L44.3 409.4 L44.3 409.4 L44.3 410.7 L44.5 410.7 L44.5 412.0 L44.4 412.0 L44.4 413.3 L44.2 413.3 L44.2 414.6 L44.2 414.6 L44.2 415.9 L44.4 415.9 L44.4 417.2 L44.7 417.2 L44.7 418.5 L44.6 418.5 L44.6 419.8 L44.3 419.8 L44.3 421.1 L43.8 421.1 L43.8 422.4 L44.0 422.4 L44.0 423.7 L44.1 423.7 L44.1 425.0 L43.8 425.0 L43.8 426.3 L44.0 426.3 L44.0 427.6 L44.1 427.6 L44.1 428.9 L43.9 428.9 L43.9 430.2 L44.0 430.2 L44.0 431.5 L44.2 431.5 L44.2 432.8 L43.9 432.8 L43.9 434.1 L43.9 434.1 L43.9 435.4 L43.5 435.4 L43.5 436.7 L44.9 436.7 L44.9 438.0 L44.1 438.0 L44.1 439.3 L44.1 439.3 L44.1 440.6 L44.0 440.6 L44.0 441.9 L44.0 441.9 L44.0 443.2 L43.7 443.2 L43.7 444.5 L44.1 444.5 L44.1 445.8 L44.1 445.8 L44.1 447.1 L43.8 447.1 L43.8 448.4 L43.8 448.4 L43.8 449.7 L43.8 449.7 L43.8 451.0 L43.7 451.0 L43.7 452.3 L43.3 452.3 L43.3 453.6 L43.4 453.6 L43.4 454.9 L43.5 454.9 L43.5 456.2 L43.6 456.2 L43.6 457.5 L43.9 457.5 L43.9 458.8 L44.0 458.8 L44.0 460.1 L44.5 460.1 L44.5 461.4 L43.8 461.4 L43.8 462.7 L43.9 462.7 L43.9 464.0 L43.6 464.0 L43.6 465.3 L43.8 465.3 L43.8 466.6 L43.8 466.6 L43.8 467.9 L44.4 467.9 L44.4 469.2 L43.9 469.2 L43.9 470.5 L43.8 470.5 L43.8 471.8 L43.8 471.8 L43.8 473.1 L43.7 473.1 L43.7 474.4 L43.7 474.4 L43.7 475.7 L44.0 475.7 L44.0 477.0 L44.0 477.0 L44.0 478.3 L43.6 478.3 L43.6 479.6 L43.6 479.6 L43.6 480.9 L43.9 480.9 L43.9 482.2 L43.7 482.2 L43.7 483.5 L43.7 483.5 L43.7 484.8 L44.1 484.8 L44.1 486.1 L43.8 486.1 L43.8 487.4 L44.3 487.4 L44.3 488.7 L43.8 488.7 L43.8 490.0 L43.7 490.0 L43.7 491.3 L43.6 491.3 L43.6 492.6 L44.2 492.6 L44.2 493.9 L44.2 493.9 L44.2 495.2 L45.2 495.2 L45.2 496.5 L44.9 496.5 L44.9 497.8 L44.3 497.8 L44.3 499.1 L44.1 499.1 L44.1 500.4 L44.1 500.4 L44.1 501.7 L43.8 501.7 L43.8 503.0 L43.8 503.0 L43.8 504.3 L44.2 504.3 L44.2 505.6 L44.4 505.6 L44.4 506.9 L43.7 506.9 L43.7 508.2 L43.8 508.2 L43.8 509.5 L44.1 509.5 L44.1 510.8 L44.1 510.8 L44.1 511.6 L44.1 511.6 L41.0 511.6 Z" fill="#ffe800"/>
</g>
<rect x="27" y="298.9" width="263.3" height="212.7" fill="none" stroke="#000" stroke-opacity=".4" stroke-width=".4"/>
<line x1="25.3" y1="511.3" x2="27" y2="511.3" class="tk"/>
<text x="24.7" y="513.5" class="tl" text-anchor="end">0</text>
<line x1="25.3" y1="476.0" x2="27" y2="476.0" class="tk"/>
<text x="24.7" y="478.2" class="tl" text-anchor="end">10</text>
<line x1="25.3" y1="440.7" x2="27" y2="440.7" class="tk"/>
<text x="24.7" y="442.9" class="tl" text-anchor="end">20</text>
<line x1="25.3" y1="405.4" x2="27" y2="405.4" class="tk"/>
<text x="24.7" y="407.6" class="tl" text-anchor="end">30</text>
<line x1="25.3" y1="370.1" x2="27" y2="370.1" class="tk"/>
<text x="24.7" y="372.3" class="tl" text-anchor="end">40</text>
<line x1="25.3" y1="334.8" x2="27" y2="334.8" class="tk"/>
<text x="24.7" y="337.0" class="tl" text-anchor="end">50</text>
<line x1="28.3" y1="511.6" x2="28.3" y2="513.4" class="tk"/>
<text x="28.3" y="520.4" class="tl" text-anchor="middle">0</text>
<line x1="81.0" y1="511.6" x2="81.0" y2="513.4" class="tk"/>
<text x="81.0" y="520.4" class="tl" text-anchor="middle">10</text>
<line x1="133.6" y1="511.6" x2="133.6" y2="513.4" class="tk"/>
<text x="133.6" y="520.4" class="tl" text-anchor="middle">20</text>
<line x1="186.3" y1="511.6" x2="186.3" y2="513.4" class="tk"/>
<text x="186.3" y="520.4" class="tl" text-anchor="middle">30</text>
<line x1="238.9" y1="511.6" x2="238.9" y2="513.4" class="tk"/>
<text x="238.9" y="520.4" class="tl" text-anchor="middle">40</text>
<text x="158.5" y="528.9" class="al" text-anchor="middle">Frequency [Hz]</text>
<text transform="translate(12.3 404.9) rotate(-90)" class="al" style="font-size:7.3px" text-anchor="middle">Time [sec]</text>
<text x="158" y="296.3" class="ti" text-anchor="middle">Range FFT</text>
<rect x="306.8" y="298.9" width="10.6" height="212.7" fill="url(#cb)"/>
<rect x="306.8" y="298.9" width="10.6" height="212.7" fill="none" stroke="#000" stroke-opacity=".45" stroke-width=".4"/>
<line x1="317.4" y1="511.6" x2="319.1" y2="511.6" class="tk"/>
<text x="320.9" y="513.7" class="cl">0.00</text>
<line x1="317.4" y1="485.0" x2="319.1" y2="485.0" class="tk"/>
<text x="320.9" y="487.1" class="cl">0.25</text>
<line x1="317.4" y1="458.4" x2="319.1" y2="458.4" class="tk"/>
<text x="320.9" y="460.5" class="cl">0.50</text>
<line x1="317.4" y1="431.8" x2="319.1" y2="431.8" class="tk"/>
<text x="320.9" y="433.9" class="cl">0.75</text>
<line x1="317.4" y1="405.2" x2="319.1" y2="405.2" class="tk"/>
<text x="320.9" y="407.4" class="cl">1.00</text>
<line x1="317.4" y1="378.7" x2="319.1" y2="378.7" class="tk"/>
<text x="320.9" y="380.8" class="cl">1.25</text>
<line x1="317.4" y1="352.1" x2="319.1" y2="352.1" class="tk"/>
<text x="320.9" y="354.2" class="cl">1.50</text>
<line x1="317.4" y1="325.5" x2="319.1" y2="325.5" class="tk"/>
<text x="320.9" y="327.6" class="cl">1.75</text>
<line x1="317.4" y1="298.9" x2="319.1" y2="298.9" class="tk"/>
<text x="320.9" y="301.0" class="cl">2.00</text>
<path d="M24.6 512.7 L24.6 298.0 Q24.6 295.5 27.1 295.5 L31.0 295.5 Q33.5 295.5 33.5 298.0 L33.5 512.7 Q33.5 515.2 31.0 515.2 L27.1 515.2 Q24.6 515.2 24.6 512.7 Z" fill="none" stroke="#1e9bf0" stroke-width="1.4" stroke-dasharray="2.5 1.75"/>
<path d="M37.3 512.9 L37.3 298.0 Q37.3 295.5 39.8 295.5 L48.1 295.5 Q50.6 295.5 50.6 298.0 L50.6 512.9 Q50.6 515.4 48.1 515.4 L39.8 515.4 Q37.3 515.4 37.3 512.9 Z" fill="none" stroke="#f0284a" stroke-width="1.4" stroke-dasharray="2.5 1.75"/>
<path d="M110.4 512.2 L110.4 298.4 Q110.4 295.4 113.4 295.4 L126.9 295.4 Q129.9 295.4 129.9 298.4 L129.9 512.2 Q129.9 515.2 126.9 515.2 L113.4 515.2 Q110.4 515.2 110.4 512.2 Z" fill="none" stroke="#f59a1c" stroke-width="1.4" stroke-dasharray="2.5 1.75"/>
<text x="21.4" y="281.6" class="an" text-anchor="middle">Direct</text>
<text x="21.4" y="289.6" class="an" text-anchor="middle">Current</text>
<text x="50.1" y="281.6" class="an" text-anchor="middle">Body</text>
<text x="50.1" y="289.6" class="an" text-anchor="middle">Position</text>
<text x="120.4" y="282.1" class="an" text-anchor="middle">Object</text>
<text x="120.4" y="290.2" class="an" text-anchor="middle">Noise</text>
<text x="167.5" y="543.6" class="cap" text-anchor="middle">(b)</text>
</svg>
</body></html>
